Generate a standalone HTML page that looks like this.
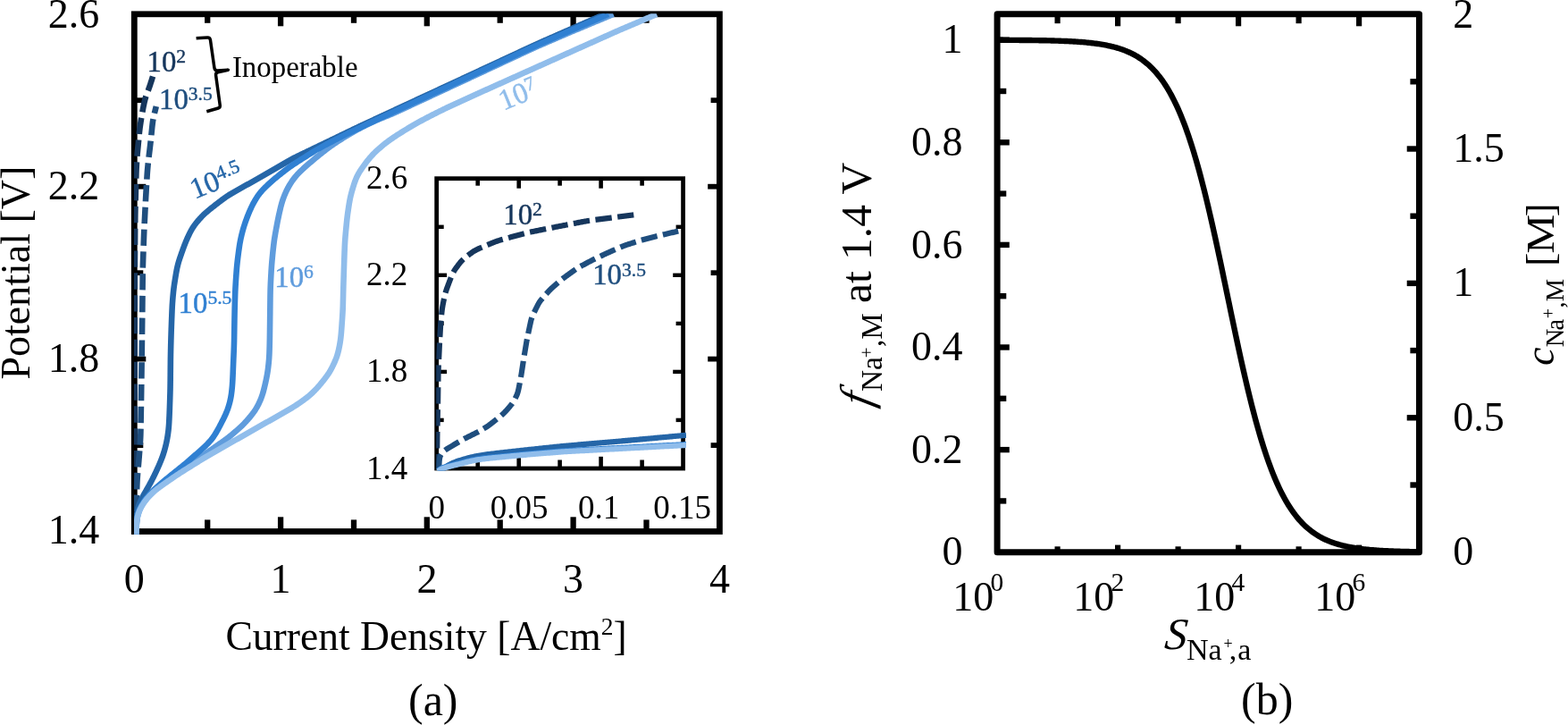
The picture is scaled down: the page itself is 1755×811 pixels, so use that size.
<!DOCTYPE html>
<html lang="en">
<head>
<meta charset="utf-8">
<title>Figure: polarization curves and sodium fraction</title>
<style>
html,body{margin:0;padding:0;background:#fff;}
body{width:1755px;height:811px;overflow:hidden;position:relative;}
svg text{font-family:"Liberation Serif",serif;}
</style>
</head>
<body>
<svg width="1755" height="811" viewBox="0 0 1755 811" role="img" aria-label="Polarization curves and sodium fraction figure" style="display:block;position:absolute;left:0;top:0" fill="#000">
<rect width="1755" height="811" fill="#fff"/>
<defs>
<clipPath id="ca"><rect x="150.0" y="15.3" width="658.8" height="582.5"/></clipPath>
<clipPath id="ci"><rect x="488.2" y="199.7" width="279.8" height="326.7"/></clipPath>
</defs>
<g stroke="#000" fill="none">
<rect x="150.3" y="15.8" width="655.1" height="578.7" stroke-width="6.8"/>
<line x1="232.2" x2="232.2" y1="594.5" y2="581.4" stroke-width="6.3"/>
<line x1="232.2" x2="232.2" y1="15.8" y2="25.8" stroke-width="6.3"/>
<line x1="314.1" x2="314.1" y1="594.5" y2="578.3" stroke-width="6.3"/>
<line x1="314.1" x2="314.1" y1="15.8" y2="29.3" stroke-width="6.3"/>
<line x1="396.0" x2="396.0" y1="594.5" y2="581.4" stroke-width="6.3"/>
<line x1="396.0" x2="396.0" y1="15.8" y2="25.8" stroke-width="6.3"/>
<line x1="477.8" x2="477.8" y1="594.5" y2="578.3" stroke-width="6.3"/>
<line x1="477.8" x2="477.8" y1="15.8" y2="29.3" stroke-width="6.3"/>
<line x1="559.7" x2="559.7" y1="594.5" y2="581.4" stroke-width="6.3"/>
<line x1="559.7" x2="559.7" y1="15.8" y2="25.8" stroke-width="6.3"/>
<line x1="641.6" x2="641.6" y1="594.5" y2="578.3" stroke-width="6.3"/>
<line x1="641.6" x2="641.6" y1="15.8" y2="29.3" stroke-width="6.3"/>
<line x1="723.5" x2="723.5" y1="594.5" y2="581.4" stroke-width="6.3"/>
<line x1="723.5" x2="723.5" y1="15.8" y2="25.8" stroke-width="6.3"/>
<line x1="150.3" x2="160.3" y1="112.2" y2="112.2" stroke-width="5.8"/>
<line x1="805.4" x2="795.6" y1="112.2" y2="112.2" stroke-width="5.8"/>
<line x1="150.3" x2="163.3" y1="208.7" y2="208.7" stroke-width="5.8"/>
<line x1="805.4" x2="792.2" y1="208.7" y2="208.7" stroke-width="5.8"/>
<line x1="150.3" x2="160.3" y1="305.2" y2="305.2" stroke-width="5.8"/>
<line x1="805.4" x2="795.6" y1="305.2" y2="305.2" stroke-width="5.8"/>
<line x1="150.3" x2="163.3" y1="401.6" y2="401.6" stroke-width="5.8"/>
<line x1="805.4" x2="792.2" y1="401.6" y2="401.6" stroke-width="5.8"/>
<line x1="150.3" x2="160.3" y1="498.1" y2="498.1" stroke-width="5.8"/>
<line x1="805.4" x2="795.6" y1="498.1" y2="498.1" stroke-width="5.8"/>
</g>
<g stroke="#000" fill="none">
<rect x="488.7" y="199.7" width="275.9" height="324.3" stroke-width="4.8"/>
<line x1="534.7" x2="534.7" y1="524.0" y2="514.5" stroke-width="4.6"/>
<line x1="534.7" x2="534.7" y1="199.7" y2="207.7" stroke-width="4.6"/>
<line x1="580.7" x2="580.7" y1="524.0" y2="510.8" stroke-width="4.6"/>
<line x1="580.7" x2="580.7" y1="199.7" y2="210.7" stroke-width="4.6"/>
<line x1="626.6" x2="626.6" y1="524.0" y2="514.5" stroke-width="4.6"/>
<line x1="626.6" x2="626.6" y1="199.7" y2="207.7" stroke-width="4.6"/>
<line x1="672.6" x2="672.6" y1="524.0" y2="510.8" stroke-width="4.6"/>
<line x1="672.6" x2="672.6" y1="199.7" y2="210.7" stroke-width="4.6"/>
<line x1="718.6" x2="718.6" y1="524.0" y2="514.5" stroke-width="4.6"/>
<line x1="718.6" x2="718.6" y1="199.7" y2="207.7" stroke-width="4.6"/>
<line x1="488.7" x2="496.7" y1="253.8" y2="253.8" stroke-width="4.4"/>
<line x1="764.6" x2="756.6" y1="253.8" y2="253.8" stroke-width="4.4"/>
<line x1="488.7" x2="500.1" y1="307.8" y2="307.8" stroke-width="4.4"/>
<line x1="764.6" x2="753.2" y1="307.8" y2="307.8" stroke-width="4.4"/>
<line x1="488.7" x2="496.7" y1="361.9" y2="361.9" stroke-width="4.4"/>
<line x1="764.6" x2="756.6" y1="361.9" y2="361.9" stroke-width="4.4"/>
<line x1="488.7" x2="500.1" y1="415.9" y2="415.9" stroke-width="4.4"/>
<line x1="764.6" x2="753.2" y1="415.9" y2="415.9" stroke-width="4.4"/>
<line x1="488.7" x2="496.7" y1="469.9" y2="469.9" stroke-width="4.4"/>
<line x1="764.6" x2="756.6" y1="469.9" y2="469.9" stroke-width="4.4"/>
</g>
<g clip-path="url(#ca)" fill="none" stroke-width="6.6" stroke-linejoin="round">
<path d="M153.90,596.80L153.90,596.00L153.90,595.00L153.90,593.99L153.90,592.99L153.90,591.99L153.90,590.99L153.90,589.99L153.90,588.99L153.90,587.98L153.90,586.98L153.90,585.98L153.90,584.98L153.90,583.98L153.90,582.97L153.90,581.97L153.90,580.97L153.90,579.97L153.90,578.97L153.90,578.45L147.30,578.45L147.30,578.97L147.30,579.97L147.30,580.97L147.30,581.97L147.30,582.97L147.30,583.97L147.30,584.98L147.30,585.98L147.30,586.98L147.30,587.98L147.30,588.98L147.30,589.99L147.30,590.99L147.30,591.99L147.30,592.99L147.30,593.99L147.30,594.99L147.30,596.00L147.30,596.80Z M153.91,571.97L153.91,571.96L153.91,570.95L153.91,569.95L153.91,568.95L153.91,567.95L153.91,566.95L153.91,565.95L153.91,564.94L153.91,563.94L153.91,562.94L153.91,561.94L153.91,560.94L153.91,559.94L153.91,558.93L153.91,557.93L153.91,556.93L153.91,555.93L153.91,554.93L153.91,553.92L153.91,553.62L147.31,553.62L147.31,553.92L147.31,554.92L147.31,555.93L147.31,556.93L147.31,557.93L147.31,558.93L147.31,559.93L147.31,560.94L147.31,561.94L147.31,562.94L147.31,563.94L147.31,564.94L147.31,565.94L147.31,566.95L147.31,567.95L147.31,568.95L147.31,569.95L147.31,570.95L147.31,571.95L147.31,571.97Z M153.91,547.14L153.91,546.91L153.91,545.91L153.91,544.91L153.91,543.91L153.91,542.91L153.91,541.90L153.91,540.90L153.91,539.90L153.91,538.90L153.92,537.90L153.92,536.90L153.92,535.89L153.92,534.89L153.92,533.89L153.92,532.89L153.92,531.89L153.92,530.89L153.92,529.88L153.92,528.88L153.92,528.79L147.32,528.79L147.32,528.88L147.32,529.88L147.32,530.88L147.32,531.89L147.32,532.89L147.32,533.89L147.32,534.89L147.32,535.89L147.32,536.89L147.32,537.90L147.31,538.90L147.31,539.90L147.31,540.90L147.31,541.90L147.31,542.90L147.31,543.91L147.31,544.91L147.31,545.91L147.31,546.91L147.31,547.14Z M153.92,522.31L153.92,521.87L153.92,520.87L153.92,519.87L153.92,518.86L153.92,517.86L153.92,516.86L153.92,515.86L153.92,514.86L153.92,513.86L153.92,512.85L153.92,511.85L153.92,510.85L153.92,509.85L153.92,508.85L153.92,507.85L153.92,506.84L153.92,505.84L153.92,504.84L153.92,503.97L147.32,503.96L147.32,504.84L147.32,505.84L147.32,506.84L147.32,507.84L147.32,508.85L147.32,509.85L147.32,510.85L147.32,511.85L147.32,512.85L147.32,513.85L147.32,514.86L147.32,515.86L147.32,516.86L147.32,517.86L147.32,518.86L147.32,519.86L147.32,520.87L147.32,521.87L147.32,522.31Z M153.93,497.48L153.93,496.83L153.93,495.82L153.93,494.82L153.93,493.82L153.93,492.82L153.93,491.82L153.93,490.82L153.93,489.81L153.93,488.81L153.93,487.81L153.93,486.81L153.93,485.81L153.93,484.81L153.93,483.80L153.93,482.80L153.93,481.80L153.93,480.80L153.93,479.80L153.93,479.14L147.33,479.13L147.33,479.80L147.33,480.80L147.33,481.80L147.33,482.80L147.33,483.80L147.33,484.80L147.33,485.81L147.33,486.81L147.33,487.81L147.33,488.81L147.33,489.81L147.33,490.81L147.33,491.82L147.33,492.82L147.33,493.82L147.33,494.82L147.33,495.82L147.33,496.82L147.33,497.48Z M153.93,472.65L153.93,471.78L153.93,470.78L153.93,469.78L153.93,468.78L153.93,467.78L153.93,466.77L153.93,465.77L153.93,464.77L153.93,463.77L153.93,462.77L153.93,461.77L153.93,460.76L153.93,459.76L153.94,458.76L153.94,457.76L153.94,456.76L153.94,455.76L153.94,454.75L153.94,454.31L147.34,454.31L147.34,454.75L147.34,455.75L147.34,456.76L147.34,457.76L147.34,458.76L147.33,459.76L147.33,460.76L147.33,461.76L147.33,462.77L147.33,463.77L147.33,464.77L147.33,465.77L147.33,466.77L147.33,467.77L147.33,468.78L147.33,469.78L147.33,470.78L147.33,471.78L147.33,472.65Z M153.94,447.83L153.94,447.74L153.94,446.74L153.94,445.74L153.94,444.74L153.94,443.73L153.94,442.73L153.94,441.73L153.94,440.73L153.94,439.73L153.94,438.73L153.94,437.72L153.94,436.72L153.94,435.72L153.94,434.72L153.94,433.72L153.94,432.72L153.94,431.71L153.94,430.71L153.94,429.71L153.94,429.48L147.34,429.48L147.34,429.71L147.34,430.71L147.34,431.71L147.34,432.71L147.34,433.72L147.34,434.72L147.34,435.72L147.34,436.72L147.34,437.72L147.34,438.72L147.34,439.73L147.34,440.73L147.34,441.73L147.34,442.73L147.34,443.73L147.34,444.73L147.34,445.74L147.34,446.74L147.34,447.74L147.34,447.82Z M153.94,423.00L153.94,422.70L153.94,421.70L153.94,420.70L153.95,419.69L153.95,418.69L153.95,417.69L153.95,416.69L153.95,415.69L153.95,414.68L153.95,413.68L153.95,412.68L153.95,411.68L153.95,410.68L153.95,409.68L153.95,408.67L153.95,407.67L153.95,406.67L153.95,405.67L153.95,404.67L153.95,404.65L147.35,404.65L147.35,404.67L147.35,405.67L147.35,406.67L147.35,407.67L147.35,408.67L147.35,409.67L147.35,410.68L147.35,411.68L147.35,412.68L147.35,413.68L147.35,414.68L147.35,415.68L147.35,416.69L147.35,417.69L147.35,418.69L147.35,419.69L147.34,420.69L147.34,421.70L147.34,422.70L147.34,422.99Z M153.95,398.17L153.95,397.66L153.96,396.66L153.96,395.66L153.96,394.65L153.96,393.65L153.96,392.65L153.96,391.65L153.96,390.65L153.97,389.65L153.97,388.64L153.97,387.64L153.97,386.64L153.97,385.64L153.97,384.64L153.97,383.64L153.98,382.63L153.98,381.63L153.98,380.63L153.98,379.82L147.38,379.81L147.38,380.62L147.38,381.62L147.38,382.62L147.37,383.63L147.37,384.63L147.37,385.63L147.37,386.63L147.37,387.63L147.37,388.63L147.37,389.64L147.36,390.64L147.36,391.64L147.36,392.64L147.36,393.64L147.36,394.65L147.36,395.65L147.36,396.65L147.35,397.65L147.35,398.16Z M153.99,373.34L153.99,372.62L153.99,371.61L153.99,370.61L154.00,369.61L154.00,368.61L154.00,367.61L154.00,366.61L154.00,365.60L154.00,364.60L154.00,363.60L154.01,362.60L154.01,361.60L154.01,360.60L154.01,359.59L154.01,358.59L154.01,357.59L154.02,356.59L154.02,355.59L154.02,354.99L147.42,354.98L147.42,355.58L147.42,356.58L147.41,357.58L147.41,358.58L147.41,359.58L147.41,360.59L147.41,361.59L147.41,362.59L147.40,363.59L147.40,364.59L147.40,365.59L147.40,366.60L147.40,367.60L147.40,368.60L147.40,369.60L147.39,370.60L147.39,371.60L147.39,372.61L147.39,373.33Z M154.03,348.51L154.03,347.57L154.03,346.57L154.03,345.57L154.03,344.57L154.03,343.57L154.04,342.56L154.04,341.56L154.04,340.56L154.04,339.56L154.04,338.56L154.04,337.56L154.05,336.55L154.05,335.55L154.05,334.55L154.05,333.55L154.05,332.55L154.05,331.55L154.05,330.54L154.05,330.16L147.45,330.16L147.45,330.53L147.45,331.54L147.45,332.54L147.45,333.54L147.45,334.54L147.45,335.54L147.45,336.54L147.44,337.55L147.44,338.55L147.44,339.55L147.44,340.55L147.44,341.55L147.44,342.55L147.43,343.56L147.43,344.56L147.43,345.56L147.43,346.56L147.43,347.56L147.43,348.50Z M154.06,323.68L154.06,323.53L154.07,322.53L154.07,321.53L154.07,320.53L154.07,319.52L154.07,318.52L154.07,317.52L154.08,316.52L154.08,315.52L154.08,314.52L154.08,313.51L154.08,312.51L154.08,311.51L154.08,310.51L154.09,309.51L154.09,308.51L154.09,307.51L154.09,306.50L154.09,305.50L154.09,305.34L147.49,305.32L147.49,305.49L147.49,306.49L147.49,307.49L147.49,308.50L147.49,309.50L147.48,310.50L147.48,311.50L147.48,312.50L147.48,313.50L147.48,314.51L147.48,315.51L147.48,316.51L147.47,317.51L147.47,318.51L147.47,319.52L147.47,320.52L147.47,321.52L147.47,322.52L147.46,323.52L147.46,323.67Z M154.12,298.87L154.12,298.50L154.13,297.50L154.13,296.50L154.14,295.50L154.15,294.50L154.16,293.50L154.16,292.50L154.17,291.50L154.18,290.50L154.19,289.50L154.20,288.49L154.20,287.49L154.21,286.49L154.22,285.49L154.23,284.49L154.24,283.49L154.25,282.48L154.25,281.48L154.26,280.53L147.66,280.47L147.65,281.43L147.65,282.43L147.64,283.43L147.63,284.43L147.62,285.43L147.61,286.44L147.60,287.44L147.60,288.44L147.59,289.44L147.58,290.44L147.57,291.45L147.56,292.45L147.56,293.45L147.55,294.45L147.54,295.46L147.53,296.46L147.53,297.46L147.52,298.46L147.52,298.83Z M154.32,274.05L154.32,273.47L154.33,272.47L154.34,271.47L154.35,270.46L154.35,269.46L154.36,268.46L154.37,267.46L154.38,266.46L154.39,265.46L154.40,264.45L154.40,263.45L154.41,262.45L154.42,261.45L154.43,260.45L154.44,259.45L154.45,258.44L154.45,257.44L154.46,256.44L154.47,255.70L147.87,255.65L147.86,256.39L147.85,257.39L147.85,258.39L147.84,259.39L147.83,260.39L147.82,261.39L147.81,262.40L147.80,263.40L147.80,264.40L147.79,265.40L147.78,266.40L147.77,267.40L147.76,268.41L147.75,269.41L147.75,270.41L147.74,271.41L147.73,272.41L147.72,273.41L147.72,273.99Z M154.52,249.22L154.53,248.43L154.54,247.43L154.55,246.43L154.56,245.43L154.57,244.43L154.58,243.43L154.60,242.43L154.61,241.44L154.62,240.44L154.64,239.44L154.66,238.44L154.68,237.45L154.70,236.45L154.72,235.45L154.74,234.45L154.76,233.45L154.78,232.45L154.81,231.45L154.82,230.92L148.22,230.77L148.21,231.30L148.19,232.30L148.16,233.30L148.14,234.30L148.12,235.31L148.10,236.31L148.08,237.32L148.06,238.32L148.04,239.33L148.03,240.33L148.01,241.34L148.00,242.35L147.98,243.35L147.97,244.36L147.96,245.36L147.95,246.36L147.94,247.37L147.93,248.37L147.92,249.16Z M154.97,224.45L154.97,224.44L155.00,223.44L155.02,222.44L155.05,221.44L155.07,220.44L155.09,219.43L155.12,218.43L155.14,217.43L155.17,216.43L155.19,215.43L155.21,214.43L155.24,213.43L155.26,212.42L155.29,211.42L155.31,210.42L155.33,209.42L155.36,208.42L155.38,207.42L155.41,206.42L155.41,206.10L148.82,205.95L148.81,206.26L148.78,207.26L148.76,208.26L148.74,209.26L148.71,210.26L148.69,211.26L148.66,212.27L148.64,213.27L148.62,214.27L148.59,215.27L148.57,216.27L148.54,217.27L148.52,218.27L148.50,219.28L148.47,220.28L148.45,221.28L148.42,222.28L148.40,223.28L148.38,224.28L148.38,224.29Z M155.57,199.63L155.58,199.41L155.60,198.41L155.63,197.41L155.66,196.41L155.68,195.42L155.71,194.42L155.74,193.43L155.78,192.43L155.81,191.44L155.85,190.45L155.90,189.46L155.94,188.47L155.99,187.47L156.04,186.48L156.09,185.49L156.14,184.49L156.20,183.50L156.25,182.51L156.31,181.51L156.32,181.41L149.73,181.01L149.72,181.12L149.67,182.12L149.61,183.13L149.55,184.13L149.50,185.14L149.44,186.15L149.39,187.15L149.35,188.16L149.30,189.17L149.26,190.18L149.22,191.19L149.18,192.20L149.15,193.21L149.12,194.22L149.09,195.23L149.06,196.23L149.03,197.24L149.00,198.24L148.98,199.24L148.97,199.46Z M156.75,175.00L156.79,174.58L156.87,173.59L156.95,172.61L157.04,171.62L157.13,170.64L157.22,169.65L157.32,168.65L157.41,167.66L157.51,166.67L157.61,165.67L157.71,164.67L157.81,163.67L157.90,162.67L158.00,161.67L158.09,160.67L158.19,159.67L158.28,158.67L158.37,157.67L158.45,156.78L151.88,156.18L151.80,157.07L151.71,158.06L151.61,159.06L151.52,160.05L151.43,161.05L151.33,162.04L151.24,163.03L151.14,164.03L151.04,165.02L150.94,166.02L150.85,167.02L150.75,168.02L150.65,169.02L150.56,170.02L150.46,171.03L150.37,172.04L150.29,173.05L150.21,174.06L150.17,174.49Z M159.06,150.35L159.12,149.72L159.22,148.74L159.32,147.75L159.43,146.77L159.55,145.79L159.67,144.82L159.79,143.84L159.92,142.86L160.05,141.88L160.18,140.90L160.32,139.92L160.47,138.94L160.61,137.96L160.76,136.98L160.91,136.00L161.07,135.02L161.23,134.04L161.39,133.06L161.50,132.39L154.99,131.31L154.87,131.99L154.71,132.98L154.55,133.98L154.39,134.98L154.24,135.98L154.09,136.98L153.94,137.98L153.79,138.98L153.65,139.98L153.51,140.99L153.37,141.99L153.24,143.00L153.11,144.01L152.99,145.02L152.88,146.03L152.76,147.04L152.66,148.05L152.55,149.06L152.49,149.70Z M162.61,126.07L162.76,125.24L162.94,124.26L163.13,123.28L163.32,122.30L163.50,121.32L163.70,120.35L163.89,119.37L164.08,118.40L164.28,117.44L164.48,116.48L164.69,115.53L164.90,114.59L165.12,113.66L165.36,112.73L165.60,111.82L165.86,110.92L166.13,110.02L166.42,109.11L166.58,108.66L160.33,106.54L160.15,107.06L159.83,108.05L159.53,109.05L159.24,110.06L158.97,111.07L158.71,112.08L158.47,113.09L158.24,114.10L158.03,115.10L157.82,116.10L157.61,117.09L157.41,118.09L157.22,119.08L157.03,120.07L156.83,121.06L156.65,122.05L156.46,123.04L156.27,124.03L156.12,124.87Z M168.79,102.67L169.14,101.74L169.49,100.78L169.83,99.82L170.17,98.86L170.50,97.89L170.83,96.93L171.15,95.97L171.47,95.01L171.78,94.05L172.09,93.09L172.40,92.14L172.71,91.18L173.02,90.23L173.32,89.27L173.63,88.32L173.94,87.36L174.24,86.41L167.96,84.39L167.65,85.35L167.35,86.30L167.04,87.25L166.73,88.20L166.43,89.16L166.12,90.11L165.81,91.06L165.51,92.00L165.20,92.95L164.89,93.89L164.57,94.83L164.26,95.76L163.94,96.69L163.61,97.61L163.28,98.53L162.95,99.45L162.61,100.37Z" fill="#16365c" stroke="none"/>
<path d="M153.95,596.95L153.99,596.15L154.04,595.16L154.08,594.16L154.13,593.16L154.18,592.16L154.23,591.17L154.28,590.17L154.33,589.18L154.38,588.18L154.43,587.19L154.49,586.20L154.55,585.21L154.61,584.22L154.67,583.23L154.73,582.23L154.80,581.24L154.87,580.25L154.94,579.25L154.97,578.74L148.39,578.29L148.35,578.80L148.28,579.80L148.21,580.80L148.15,581.80L148.08,582.81L148.02,583.81L147.96,584.82L147.90,585.82L147.84,586.83L147.79,587.83L147.74,588.84L147.68,589.84L147.63,590.84L147.59,591.85L147.54,592.85L147.49,593.85L147.44,594.85L147.40,595.85L147.36,596.65Z M155.40,572.26L155.40,572.23L155.46,571.23L155.52,570.22L155.58,569.21L155.63,568.21L155.68,567.20L155.72,566.19L155.77,565.19L155.81,564.18L155.85,563.18L155.89,562.18L155.93,561.17L155.97,560.17L156.00,559.17L156.04,558.17L156.08,557.17L156.12,556.17L156.15,555.17L156.19,554.17L156.20,553.88L149.61,553.64L149.59,553.93L149.56,554.93L149.52,555.93L149.48,556.93L149.45,557.92L149.41,558.92L149.37,559.92L149.33,560.92L149.29,561.92L149.25,562.91L149.21,563.91L149.17,564.90L149.13,565.90L149.08,566.89L149.04,567.88L148.98,568.87L148.93,569.86L148.88,570.85L148.82,571.84L148.82,571.85Z M156.44,547.42L156.45,547.18L156.49,546.18L156.53,545.18L156.56,544.18L156.60,543.18L156.64,542.19L156.69,541.20L156.73,540.20L156.78,539.21L156.82,538.23L156.88,537.24L156.93,536.25L156.99,535.27L157.06,534.29L157.13,533.30L157.20,532.32L157.28,531.33L157.35,530.34L157.44,529.35L157.44,529.29L150.86,528.73L150.86,528.81L150.78,529.81L150.70,530.81L150.62,531.82L150.54,532.83L150.47,533.84L150.41,534.85L150.35,535.87L150.29,536.88L150.23,537.89L150.18,538.90L150.14,539.91L150.09,540.91L150.05,541.92L150.01,542.92L149.97,543.92L149.93,544.93L149.89,545.93L149.86,546.93L149.85,547.17Z M158.00,522.86L158.05,522.39L158.13,521.40L158.22,520.40L158.31,519.40L158.40,518.40L158.48,517.40L158.57,516.40L158.65,515.40L158.73,514.40L158.81,513.40L158.90,512.40L158.97,511.40L159.05,510.40L159.13,509.40L159.21,508.40L159.29,507.40L159.36,506.40L159.44,505.40L159.50,504.56L152.92,504.06L152.86,504.90L152.78,505.90L152.70,506.90L152.63,507.89L152.55,508.89L152.47,509.88L152.40,510.88L152.32,511.87L152.24,512.87L152.16,513.86L152.07,514.85L151.99,515.85L151.91,516.84L151.82,517.83L151.73,518.83L151.65,519.82L151.56,520.82L151.47,521.81L151.43,522.27Z M159.99,498.10L160.04,497.41L160.11,496.40L160.18,495.40L160.24,494.39L160.31,493.38L160.37,492.37L160.42,491.36L160.47,490.34L160.52,489.33L160.56,488.32L160.60,487.30L160.63,486.29L160.66,485.28L160.68,484.27L160.71,483.26L160.73,482.26L160.75,481.26L160.77,480.25L160.78,479.63L154.18,479.50L154.17,480.13L154.15,481.12L154.13,482.12L154.11,483.12L154.09,484.11L154.06,485.10L154.03,486.09L154.00,487.08L153.96,488.06L153.92,489.05L153.88,490.03L153.83,491.01L153.78,492.00L153.72,492.98L153.66,493.97L153.59,494.96L153.52,495.95L153.45,496.94L153.40,497.62Z M160.90,473.15L160.91,472.25L160.93,471.25L160.95,470.25L160.96,469.25L160.98,468.25L161.00,467.24L161.02,466.24L161.03,465.24L161.05,464.24L161.07,463.24L161.09,462.24L161.10,461.24L161.12,460.24L161.14,459.24L161.16,458.24L161.17,457.24L161.19,456.24L161.21,455.24L161.21,454.84L154.62,454.73L154.61,455.13L154.59,456.13L154.57,457.13L154.56,458.13L154.54,459.13L154.52,460.13L154.50,461.13L154.49,462.13L154.47,463.13L154.45,464.13L154.43,465.13L154.42,466.13L154.40,467.13L154.38,468.13L154.36,469.13L154.35,470.13L154.33,471.13L154.31,472.13L154.30,473.04Z M161.32,448.36L161.32,448.23L161.34,447.23L161.35,446.23L161.37,445.23L161.38,444.23L161.39,443.23L161.41,442.23L161.42,441.23L161.44,440.23L161.45,439.23L161.47,438.23L161.48,437.23L161.49,436.23L161.51,435.23L161.52,434.23L161.54,433.23L161.55,432.23L161.56,431.22L161.58,430.22L161.58,430.05L154.98,429.95L154.98,430.13L154.96,431.13L154.95,432.13L154.94,433.13L154.92,434.13L154.91,435.13L154.89,436.13L154.88,437.13L154.87,438.13L154.85,439.13L154.84,440.13L154.82,441.13L154.81,442.13L154.80,443.13L154.78,444.13L154.77,445.13L154.75,446.13L154.74,447.13L154.72,448.13L154.72,448.26Z M161.67,423.58L161.68,423.22L161.69,422.22L161.70,421.22L161.72,420.22L161.73,419.22L161.75,418.22L161.76,417.22L161.77,416.22L161.79,415.22L161.80,414.22L161.82,413.22L161.83,412.22L161.84,411.22L161.86,410.22L161.87,409.22L161.89,408.22L161.90,407.22L161.91,406.22L161.93,405.26L155.33,405.17L155.31,406.13L155.30,407.13L155.29,408.13L155.27,409.13L155.26,410.13L155.24,411.13L155.23,412.13L155.22,413.13L155.20,414.13L155.19,415.13L155.17,416.13L155.16,417.13L155.15,418.13L155.13,419.13L155.12,420.13L155.10,421.13L155.09,422.13L155.08,423.13L155.07,423.49Z M162.01,398.79L162.02,398.21L162.03,397.21L162.04,396.21L162.06,395.21L162.07,394.21L162.08,393.21L162.09,392.21L162.11,391.21L162.12,390.21L162.13,389.21L162.14,388.21L162.15,387.21L162.17,386.21L162.18,385.21L162.19,384.21L162.20,383.21L162.21,382.20L162.23,381.20L162.23,380.47L155.64,380.40L155.63,381.13L155.61,382.13L155.60,383.13L155.59,384.13L155.58,385.13L155.57,386.13L155.55,387.13L155.54,388.13L155.53,389.13L155.52,390.13L155.51,391.13L155.49,392.13L155.48,393.13L155.47,394.13L155.46,395.13L155.44,396.13L155.43,397.13L155.42,398.13L155.41,398.71Z M162.31,374.00L162.32,373.20L162.33,372.20L162.35,371.20L162.36,370.20L162.37,369.20L162.38,368.20L162.39,367.20L162.41,366.20L162.42,365.20L162.43,364.20L162.44,363.20L162.45,362.20L162.47,361.20L162.48,360.20L162.49,359.20L162.50,358.20L162.51,357.20L162.53,356.20L162.53,355.69L155.93,355.61L155.93,356.12L155.91,357.12L155.90,358.12L155.89,359.12L155.88,360.12L155.87,361.12L155.85,362.12L155.84,363.12L155.83,364.12L155.82,365.12L155.81,366.12L155.79,367.12L155.78,368.12L155.77,369.12L155.76,370.12L155.75,371.12L155.73,372.12L155.72,373.12L155.71,373.93Z M162.60,349.22L162.61,349.19L162.62,348.19L162.63,347.19L162.64,346.19L162.65,345.19L162.66,344.19L162.67,343.19L162.68,342.19L162.69,341.19L162.70,340.19L162.71,339.19L162.72,338.19L162.73,337.18L162.74,336.18L162.75,335.18L162.76,334.18L162.77,333.18L162.78,332.18L162.79,331.18L162.79,330.90L156.19,330.83L156.19,331.12L156.18,332.12L156.17,333.12L156.16,334.12L156.15,335.12L156.14,336.12L156.13,337.12L156.12,338.12L156.11,339.12L156.10,340.12L156.09,341.12L156.08,342.12L156.07,343.12L156.06,344.12L156.05,345.12L156.04,346.12L156.03,347.12L156.02,348.12L156.01,349.12L156.01,349.15Z M162.86,324.43L162.86,324.18L162.87,323.18L162.88,322.18L162.89,321.18L162.90,320.18L162.91,319.18L162.92,318.18L162.93,317.18L162.94,316.18L162.95,315.18L162.96,314.18L162.97,313.18L162.98,312.18L162.99,311.18L163.00,310.18L163.01,309.18L163.02,308.18L163.03,307.18L163.04,306.18L163.05,306.13L156.45,306.04L156.45,306.10L156.43,307.10L156.42,308.11L156.41,309.11L156.40,310.11L156.39,311.11L156.38,312.11L156.37,313.11L156.36,314.11L156.35,315.11L156.34,316.11L156.33,317.11L156.32,318.11L156.31,319.11L156.30,320.11L156.29,321.11L156.28,322.11L156.27,323.11L156.26,324.11L156.26,324.36Z M163.16,299.69L163.17,299.22L163.19,298.23L163.22,297.23L163.25,296.24L163.28,295.24L163.31,294.25L163.34,293.25L163.38,292.25L163.41,291.25L163.44,290.26L163.48,289.26L163.51,288.26L163.55,287.26L163.58,286.26L163.62,285.26L163.65,284.26L163.69,283.26L163.72,282.26L163.75,281.42L157.16,281.19L157.13,282.03L157.09,283.03L157.06,284.03L157.02,285.03L156.99,286.03L156.95,287.03L156.92,288.03L156.88,289.03L156.85,290.03L156.81,291.03L156.78,292.03L156.75,293.03L156.71,294.04L156.68,295.04L156.65,296.04L156.62,297.05L156.60,298.06L156.57,299.06L156.56,299.54Z M163.98,274.96L164.00,274.26L164.04,273.26L164.07,272.26L164.11,271.26L164.14,270.26L164.18,269.26L164.21,268.27L164.25,267.27L164.29,266.27L164.32,265.27L164.36,264.27L164.40,263.28L164.44,262.28L164.48,261.29L164.52,260.29L164.56,259.30L164.61,258.30L164.65,257.30L164.68,256.69L158.09,256.39L158.06,257.00L158.01,258.01L157.97,259.01L157.93,260.01L157.88,261.02L157.84,262.02L157.80,263.02L157.77,264.02L157.73,265.03L157.69,266.03L157.65,267.03L157.62,268.03L157.58,269.03L157.55,270.03L157.51,271.03L157.48,272.03L157.44,273.03L157.41,274.03L157.38,274.73Z M164.99,250.24L165.04,249.32L165.09,248.33L165.14,247.33L165.19,246.33L165.24,245.33L165.29,244.33L165.34,243.33L165.39,242.33L165.44,241.33L165.49,240.33L165.54,239.33L165.59,238.33L165.64,237.34L165.69,236.34L165.74,235.34L165.79,234.34L165.84,233.34L165.89,232.34L165.91,231.95L159.31,231.62L159.30,232.01L159.25,233.01L159.20,234.01L159.15,235.01L159.10,236.01L159.05,237.01L159.00,238.00L158.95,239.00L158.90,240.00L158.85,241.00L158.80,242.00L158.75,243.00L158.70,244.00L158.65,245.00L158.60,246.00L158.55,247.00L158.50,248.00L158.45,249.00L158.40,249.91Z M166.23,225.49L166.24,225.35L166.29,224.35L166.34,223.36L166.40,222.36L166.45,221.36L166.50,220.37L166.56,219.37L166.62,218.37L166.67,217.38L166.73,216.38L166.79,215.38L166.85,214.39L166.90,213.39L166.96,212.39L167.02,211.39L167.08,210.40L167.14,209.40L167.20,208.40L167.26,207.40L167.27,207.24L160.68,206.84L160.67,207.01L160.61,208.01L160.55,209.00L160.49,210.00L160.43,211.00L160.38,212.00L160.32,213.00L160.26,214.00L160.20,215.00L160.14,216.00L160.08,217.00L160.03,218.00L159.97,219.00L159.91,220.01L159.86,221.01L159.81,222.01L159.75,223.01L159.70,224.01L159.65,225.01L159.64,225.16Z M167.66,200.78L167.68,200.42L167.74,199.42L167.81,198.42L167.87,197.43L167.93,196.43L168.00,195.44L168.06,194.45L168.13,193.46L168.21,192.48L168.28,191.49L168.36,190.51L168.44,189.52L168.53,188.54L168.62,187.55L168.71,186.57L168.81,185.58L168.91,184.59L169.01,183.61L169.11,182.67L162.55,181.98L162.45,182.93L162.34,183.93L162.24,184.93L162.15,185.93L162.05,186.94L161.96,187.95L161.87,188.96L161.78,189.96L161.70,190.97L161.62,191.98L161.55,192.99L161.48,194.00L161.41,195.00L161.35,196.01L161.28,197.01L161.22,198.01L161.16,199.01L161.09,200.01L161.07,200.38Z M169.82,176.28L169.89,175.70L170.00,174.71L170.12,173.72L170.24,172.73L170.36,171.74L170.48,170.75L170.60,169.75L170.73,168.76L170.85,167.76L170.97,166.77L171.09,165.77L171.20,164.77L171.32,163.77L171.43,162.77L171.55,161.77L171.66,160.77L171.77,159.78L171.88,158.78L171.95,158.06L165.39,157.35L165.32,158.07L165.21,159.06L165.10,160.05L164.99,161.04L164.88,162.03L164.76,163.02L164.65,164.00L164.53,164.99L164.41,165.98L164.30,166.97L164.18,167.96L164.05,168.95L163.93,169.94L163.81,170.94L163.69,171.93L163.57,172.93L163.45,173.93L163.33,174.93L163.26,175.51Z M172.63,151.61L172.72,150.80L172.82,149.80L172.92,148.80L173.02,147.81L173.12,146.81L173.22,145.82L173.32,144.82L173.42,143.83L173.52,142.84L173.62,141.86L173.73,140.88L173.84,139.90L173.95,138.93L174.08,137.97L174.21,137.02L174.35,136.07L174.50,135.12L174.66,134.17L174.75,133.69L168.26,132.49L168.16,133.02L167.99,134.04L167.82,135.06L167.67,136.09L167.53,137.11L167.40,138.13L167.28,139.14L167.17,140.15L167.06,141.16L166.95,142.16L166.85,143.16L166.75,144.16L166.65,145.16L166.55,146.15L166.45,147.15L166.35,148.14L166.25,149.14L166.15,150.13L166.07,150.93Z M176.10,127.55L176.33,126.58L176.57,125.61L176.81,124.65L177.05,123.68L177.29,122.70L177.53,121.73L177.77,120.76L178.00,119.79L171.60,118.21L171.36,119.18L171.12,120.15L170.88,121.12L170.64,122.09L170.40,123.07L170.16,124.04L169.92,125.01L169.68,125.99Z" fill="#1f4e7e" stroke="none"/>
<path d="M155.70,598.03L155.71,596.53L155.73,595.03L155.74,593.53L155.76,592.03L155.78,590.54L155.80,589.05L155.83,587.56L155.86,586.08L155.91,584.60L155.96,583.12L156.03,581.66L156.11,580.20L156.21,578.76L156.33,577.32L156.48,575.90L156.66,574.50L156.87,573.11L157.12,571.73L157.40,570.38L157.73,569.04L158.10,567.72L158.51,566.41L158.97,565.11L159.48,563.82L160.02,562.53L160.61,561.24L161.23,559.96L161.88,558.67L162.55,557.38L163.25,556.09L163.96,554.80L164.68,553.51L165.41,552.22L166.15,550.92L166.90,549.62L167.65,548.31L168.39,547.00L169.14,545.68L169.88,544.35L170.61,543.02L171.34,541.68L172.06,540.33L172.76,538.98L173.46,537.62L174.14,536.27L174.82,534.91L175.49,533.55L176.15,532.18L176.81,530.82L177.46,529.45L178.11,528.07L178.74,526.70L179.38,525.31L180.00,523.93L180.62,522.54L181.22,521.14L181.82,519.75L182.42,518.34L183.00,516.93L183.57,515.51L184.13,514.07L184.67,512.63L185.19,511.18L185.70,509.72L186.18,508.25L186.64,506.78L187.08,505.30L187.50,503.82L187.91,502.34L188.30,500.86L188.67,499.37L189.03,497.87L189.37,496.37L189.69,494.87L189.99,493.36L190.28,491.85L190.55,490.34L190.80,488.83L191.04,487.31L191.26,485.79L191.46,484.27L191.65,482.75L191.83,481.22L191.98,479.69L192.12,478.16L192.24,476.64L192.35,475.11L192.45,473.59L192.53,472.07L192.61,470.56L192.69,469.05L192.76,467.55L192.82,466.04L192.89,464.53L192.95,463.03L193.01,461.52L193.07,460.02L193.13,458.51L193.18,457.01L193.23,455.50L193.28,454.00L193.33,452.50L193.38,450.99L193.43,449.49L193.48,447.99L193.52,446.49L193.57,444.98L193.62,443.48L193.66,441.98L193.70,440.47L193.74,438.97L193.78,437.46L193.82,435.95L193.85,434.44L193.88,432.93L193.90,431.42L193.92,429.92L193.94,428.41L193.96,426.90L193.98,425.40L193.99,423.90L194.00,422.39L194.02,420.89L194.03,419.39L194.04,417.89L194.06,416.38L194.07,414.88L194.08,413.38L194.10,411.88L194.11,410.38L194.13,408.88L194.14,407.38L194.16,405.88L194.17,404.38L194.19,402.88L194.21,401.38L194.23,399.89L194.26,398.39L194.28,396.89L194.31,395.39L194.34,393.90L194.37,392.40L194.40,390.90L194.44,389.40L194.47,387.90L194.51,386.41L194.55,384.91L194.59,383.41L194.63,381.91L194.67,380.41L194.72,378.91L194.76,377.41L194.81,375.91L194.85,374.41L194.90,372.91L194.94,371.41L194.99,369.92L195.04,368.42L195.09,366.92L195.14,365.42L195.19,363.92L195.25,362.42L195.30,360.93L195.36,359.43L195.41,357.93L195.47,356.43L195.53,354.93L195.59,353.43L195.65,351.93L195.71,350.43L195.77,348.94L195.83,347.44L195.90,345.95L195.97,344.46L196.05,342.98L196.13,341.49L196.22,340.01L196.32,338.53L196.43,337.05L196.54,335.56L196.66,334.08L196.78,332.60L196.91,331.12L197.05,329.63L197.19,328.16L197.34,326.68L197.50,325.21L197.67,323.74L197.85,322.28L198.04,320.82L198.24,319.35L198.45,317.89L198.68,316.42L198.91,314.95L199.14,313.48L199.38,312.00L199.62,310.53L199.87,309.06L200.12,307.59L200.37,306.12L200.63,304.66L200.90,303.21L201.18,301.78L201.47,300.35L201.79,298.94L202.12,297.54L202.48,296.15L202.87,294.76L203.28,293.37L203.71,291.99L204.16,290.59L204.63,289.20L205.10,287.80L205.59,286.39L206.09,284.98L206.59,283.57L207.09,282.17L207.59,280.76L208.10,279.36L208.61,277.96L209.13,276.57L209.65,275.19L210.18,273.82L210.73,272.46L211.28,271.11L211.86,269.76L212.44,268.42L213.04,267.08L213.66,265.75L214.29,264.42L214.93,263.11L215.58,261.81L216.24,260.53L216.92,259.28L217.63,258.05L218.36,256.85L219.11,255.67L219.90,254.51L220.72,253.37L221.58,252.24L222.46,251.12L223.38,250.00L224.31,248.89L225.26,247.80L226.23,246.71L227.21,245.65L228.20,244.60L229.20,243.57L230.23,242.57L231.27,241.59L232.33,240.62L233.41,239.67L234.52,238.72L235.64,237.79L236.78,236.86L237.93,235.93L239.10,235.01L240.27,234.09L241.44,233.16L242.62,232.25L243.80,231.33L244.98,230.42L246.17,229.50L247.35,228.60L248.54,227.70L249.72,226.80L250.91,225.92L252.10,225.04L253.29,224.18L254.48,223.34L255.68,222.52L256.89,221.71L258.11,220.93L259.34,220.15L260.59,219.40L261.85,218.65L263.12,217.90L264.41,217.17L265.70,216.43L267.00,215.70L268.31,214.97L269.62,214.24L270.93,213.51L272.24,212.78L273.55,212.05L274.86,211.32L276.17,210.59L277.49,209.86L278.80,209.13L280.11,208.40L281.42,207.67L282.74,206.93L284.05,206.20L285.36,205.47L286.67,204.74L287.99,204.00L289.30,203.27L290.61,202.53L291.93,201.79L293.24,201.05L294.55,200.31L295.86,199.56L297.16,198.82L298.47,198.07L299.78,197.32L301.08,196.57L302.38,195.82L303.69,195.07L304.99,194.32L306.29,193.57L307.59,192.81L308.89,192.06L310.20,191.30L311.50,190.55L312.80,189.79L314.10,189.02L315.40,188.26L316.70,187.49L317.99,186.72L319.28,185.96L320.56,185.20L321.85,184.45L323.13,183.70L324.41,182.97L325.69,182.25L326.98,181.55L328.28,180.86L329.58,180.17L330.89,179.50L332.21,178.84L333.54,178.18L334.88,177.52L336.22,176.87L337.57,176.21L338.92,175.56L340.27,174.91L341.62,174.26L342.97,173.61L344.33,172.96L345.68,172.30L347.03,171.65L348.39,171.00L349.74,170.35L351.09,169.70L352.45,169.05L353.80,168.39L355.15,167.74L356.50,167.09L357.86,166.44L359.21,165.79L360.56,165.14L361.92,164.49L363.27,163.83L364.62,163.18L365.98,162.53L367.33,161.88L368.68,161.23L370.04,160.58L371.39,159.93L372.74,159.28L374.10,158.63L375.45,157.97L376.80,157.32L378.16,156.67L379.51,156.02L380.86,155.37L382.22,154.72L383.57,154.07L384.92,153.42L386.28,152.77L387.63,152.12L388.98,151.46L390.34,150.81L391.69,150.16L393.04,149.51L394.40,148.86L395.75,148.21L397.10,147.56L398.46,146.91L399.81,146.26L401.16,145.62L402.51,144.97L403.86,144.33L405.22,143.69L406.57,143.05L407.92,142.42L409.28,141.78L410.64,141.15L412.00,140.52L413.36,139.89L414.72,139.26L416.08,138.63L417.45,138.00L418.81,137.37L420.17,136.74L421.54,136.11L422.90,135.48L424.27,134.85L425.63,134.22L426.99,133.59L428.36,132.95L429.72,132.32L431.08,131.69L432.44,131.05L433.80,130.42L435.17,129.79L436.53,129.15L437.89,128.52L439.25,127.89L440.61,127.25L441.98,126.62L443.34,125.99L444.70,125.35L446.06,124.72L447.42,124.09L448.78,123.45L450.15,122.82L451.51,122.19L452.87,121.55L454.23,120.92L455.59,120.29L456.96,119.66L458.32,119.02L459.68,118.39L461.04,117.76L462.40,117.13L463.76,116.49L465.13,115.86L466.49,115.23L467.85,114.60L469.21,113.97L470.58,113.34L471.94,112.71L473.30,112.07L474.66,111.44L476.03,110.81L477.39,110.18L478.75,109.55L480.11,108.92L481.48,108.29L482.84,107.65L484.20,107.02L485.56,106.39L486.93,105.76L488.29,105.13L489.65,104.50L491.02,103.87L492.38,103.24L493.74,102.60L495.10,101.97L496.47,101.34L497.83,100.71L499.19,100.08L500.55,99.45L501.92,98.82L503.28,98.18L504.64,97.55L506.01,96.92L507.37,96.29L508.73,95.66L510.09,95.03L511.46,94.40L512.82,93.76L514.18,93.13L515.54,92.50L516.91,91.87L518.27,91.24L519.63,90.60L521.00,89.97L522.36,89.34L523.72,88.71L525.08,88.07L526.44,87.44L527.81,86.81L529.17,86.18L530.53,85.54L531.89,84.91L533.25,84.28L534.62,83.64L535.98,83.01L537.34,82.38L538.70,81.74L540.06,81.11L541.43,80.48L542.79,79.84L544.15,79.21L545.51,78.58L546.87,77.94L548.23,77.31L549.60,76.68L550.96,76.04L552.32,75.41L553.68,74.78L555.04,74.14L556.41,73.51L557.77,72.88L559.13,72.24L560.49,71.61L561.85,70.98L563.21,70.34L564.58,69.71L565.94,69.08L567.30,68.44L568.66,67.81L570.02,67.18L571.39,66.55L572.75,65.91L574.11,65.28L575.47,64.65L576.83,64.01L578.19,63.38L579.56,62.75L580.92,62.11L582.28,61.48L583.64,60.85L585.00,60.21L586.37,59.58L587.73,58.95L589.09,58.31L590.45,57.68L591.81,57.05L593.17,56.42L594.53,55.79L595.89,55.16L597.25,54.53L598.61,53.91L599.97,53.29L601.33,52.67L602.70,52.06L604.06,51.44L605.43,50.83L606.80,50.23L608.17,49.62L609.54,49.01L610.91,48.41L612.28,47.80L613.66,47.20L615.03,46.59L616.40,45.99L617.78,45.38L619.15,44.78L620.53,44.17L621.90,43.57L623.28,42.96L624.65,42.36L626.03,41.75L627.40,41.15L628.78,40.54L630.15,39.94L631.52,39.33L632.90,38.73L634.27,38.13L635.65,37.52L637.02,36.92L638.40,36.32L639.77,35.71L641.15,35.11L642.52,34.51L643.89,33.91L645.27,33.31L646.65,32.71L648.02,32.11L649.40,31.51L650.78,30.91L652.15,30.31L653.53,29.71L654.91,29.11L656.28,28.51L657.66,27.91L659.04,27.32L660.41,26.72L661.79,26.12L663.17,25.52L664.55,24.92L665.92,24.32L667.30,23.72L668.68,23.12L670.05,22.52L671.43,21.92L672.81,21.32L674.19,20.72L675.56,20.12L676.94,19.53L678.32,18.93L675.68,12.87L674.31,13.47L672.93,14.07L671.55,14.67L670.17,15.27L668.80,15.87L667.42,16.47L666.04,17.07L664.67,17.67L663.29,18.27L661.91,18.87L660.54,19.47L659.16,20.06L657.78,20.66L656.40,21.26L655.03,21.86L653.65,22.46L652.27,23.06L650.90,23.66L649.52,24.26L648.14,24.86L646.76,25.46L645.39,26.06L644.01,26.66L642.63,27.26L641.25,27.86L639.88,28.46L638.50,29.07L637.12,29.67L635.75,30.27L634.37,30.88L632.99,31.48L631.62,32.08L630.24,32.69L628.87,33.29L627.49,33.90L626.12,34.50L624.74,35.11L623.37,35.71L621.99,36.32L620.62,36.92L619.24,37.53L617.87,38.13L616.49,38.74L615.12,39.34L613.75,39.95L612.37,40.55L611.00,41.16L609.62,41.76L608.25,42.37L606.87,42.98L605.49,43.58L604.12,44.19L602.74,44.81L601.36,45.42L599.99,46.04L598.61,46.66L597.24,47.28L595.87,47.91L594.50,48.54L593.13,49.17L591.76,49.80L590.40,50.43L589.03,51.06L587.67,51.70L586.31,52.33L584.94,52.96L583.58,53.59L582.22,54.23L580.86,54.86L579.50,55.49L578.14,56.13L576.77,56.76L575.41,57.39L574.05,58.03L572.69,58.66L571.33,59.29L569.96,59.93L568.60,60.56L567.24,61.19L565.88,61.83L564.52,62.46L563.16,63.09L561.79,63.73L560.43,64.36L559.07,64.99L557.71,65.63L556.35,66.26L554.98,66.89L553.62,67.53L552.26,68.16L550.90,68.79L549.54,69.43L548.18,70.06L546.81,70.69L545.45,71.33L544.09,71.96L542.73,72.59L541.37,73.23L540.00,73.86L538.64,74.49L537.28,75.12L535.92,75.76L534.56,76.39L533.20,77.02L531.83,77.66L530.47,78.29L529.11,78.92L527.75,79.56L526.39,80.19L525.03,80.82L523.66,81.46L522.30,82.09L520.94,82.72L519.58,83.35L518.22,83.99L516.85,84.62L515.49,85.25L514.13,85.88L512.77,86.51L511.41,87.14L510.04,87.78L508.68,88.41L507.32,89.04L505.96,89.67L504.59,90.30L503.23,90.93L501.87,91.56L500.51,92.20L499.14,92.83L497.78,93.46L496.42,94.09L495.05,94.72L493.69,95.35L492.33,95.98L490.97,96.62L489.60,97.25L488.24,97.88L486.88,98.51L485.52,99.14L484.15,99.77L482.79,100.40L481.43,101.03L480.06,101.67L478.70,102.30L477.34,102.93L475.98,103.56L474.61,104.19L473.25,104.82L471.89,105.45L470.53,106.09L469.16,106.72L467.80,107.35L466.44,107.98L465.08,108.61L463.71,109.24L462.35,109.88L460.99,110.51L459.62,111.14L458.26,111.77L456.90,112.41L455.54,113.04L454.17,113.67L452.81,114.30L451.45,114.94L450.09,115.57L448.73,116.20L447.36,116.84L446.00,117.47L444.64,118.10L443.28,118.74L441.92,119.37L440.55,120.00L439.19,120.64L437.83,121.27L436.47,121.90L435.11,122.54L433.75,123.17L432.38,123.80L431.02,124.44L429.66,125.07L428.30,125.70L426.94,126.33L425.58,126.97L424.21,127.60L422.85,128.23L421.49,128.86L420.13,129.49L418.77,130.12L417.41,130.75L416.04,131.38L414.68,132.01L413.32,132.64L411.95,133.27L410.59,133.90L409.22,134.53L407.86,135.17L406.49,135.80L405.13,136.44L403.76,137.08L402.40,137.72L401.04,138.37L399.68,139.01L398.32,139.66L396.96,140.31L395.60,140.96L394.25,141.61L392.89,142.26L391.54,142.91L390.18,143.56L388.83,144.22L387.48,144.87L386.12,145.52L384.77,146.17L383.42,146.82L382.06,147.47L380.71,148.12L379.36,148.77L378.00,149.42L376.65,150.07L375.30,150.72L373.94,151.38L372.59,152.03L371.24,152.68L369.88,153.33L368.53,153.98L367.17,154.63L365.82,155.28L364.47,155.93L363.11,156.58L361.76,157.24L360.41,157.89L359.05,158.54L357.70,159.19L356.35,159.84L354.99,160.49L353.64,161.14L352.29,161.80L350.93,162.45L349.58,163.10L348.23,163.75L346.88,164.40L345.52,165.05L344.17,165.71L342.82,166.36L341.46,167.01L340.11,167.66L338.76,168.31L337.40,168.97L336.05,169.62L334.69,170.27L333.34,170.93L331.98,171.59L330.62,172.26L329.26,172.93L327.90,173.62L326.54,174.31L325.19,175.02L323.84,175.74L322.50,176.48L321.16,177.23L319.84,177.98L318.52,178.75L317.22,179.51L315.92,180.28L314.62,181.05L313.33,181.81L312.04,182.57L310.75,183.33L309.47,184.09L308.17,184.85L306.88,185.60L305.58,186.35L304.29,187.10L302.99,187.85L301.69,188.60L300.39,189.35L299.09,190.10L297.79,190.85L296.49,191.60L295.19,192.34L293.89,193.09L292.59,193.83L291.29,194.57L289.99,195.31L288.68,196.04L287.38,196.78L286.07,197.51L284.76,198.24L283.46,198.98L282.15,199.71L280.83,200.44L279.52,201.17L278.21,201.90L276.90,202.63L275.59,203.36L274.28,204.09L272.96,204.82L271.65,205.55L270.34,206.28L269.03,207.01L267.71,207.74L266.40,208.48L265.09,209.21L263.77,209.95L262.46,210.69L261.14,211.43L259.82,212.19L258.50,212.96L257.18,213.74L255.87,214.54L254.56,215.36L253.27,216.20L251.98,217.05L250.71,217.93L249.45,218.81L248.21,219.71L246.98,220.61L245.76,221.52L244.55,222.43L243.35,223.35L242.15,224.27L240.95,225.19L239.76,226.11L238.57,227.04L237.38,227.96L236.19,228.90L235.00,229.83L233.81,230.78L232.63,231.73L231.44,232.69L230.26,233.68L229.09,234.68L227.93,235.70L226.78,236.75L225.64,237.82L224.53,238.91L223.45,240.02L222.38,241.15L221.33,242.29L220.31,243.44L219.30,244.60L218.30,245.78L217.32,246.98L216.35,248.20L215.41,249.45L214.49,250.73L213.61,252.03L212.75,253.36L211.94,254.70L211.16,256.06L210.42,257.43L209.70,258.81L209.01,260.18L208.34,261.57L207.68,262.95L207.04,264.34L206.41,265.74L205.80,267.15L205.20,268.56L204.61,269.98L204.04,271.40L203.49,272.83L202.95,274.25L202.42,275.68L201.90,277.10L201.38,278.52L200.87,279.94L200.37,281.37L199.86,282.79L199.36,284.21L198.86,285.64L198.37,287.08L197.89,288.53L197.42,289.99L196.96,291.46L196.52,292.95L196.11,294.44L195.72,295.95L195.36,297.46L195.02,298.97L194.71,300.48L194.41,301.98L194.14,303.48L193.87,304.98L193.61,306.47L193.36,307.96L193.11,309.45L192.87,310.94L192.62,312.43L192.39,313.92L192.15,315.42L191.93,316.92L191.71,318.43L191.50,319.94L191.30,321.45L191.12,322.96L190.94,324.48L190.78,325.99L190.62,327.50L190.48,329.02L190.34,330.52L190.21,332.03L190.08,333.54L189.96,335.05L189.85,336.56L189.74,338.08L189.64,339.59L189.54,341.11L189.46,342.62L189.38,344.13L189.31,345.64L189.24,347.15L189.17,348.66L189.11,350.16L189.05,351.67L188.99,353.17L188.93,354.67L188.88,356.18L188.82,357.68L188.76,359.18L188.71,360.68L188.65,362.19L188.60,363.69L188.55,365.19L188.49,366.70L188.44,368.20L188.40,369.70L188.35,371.21L188.30,372.71L188.25,374.21L188.21,375.71L188.16,377.22L188.12,378.72L188.08,380.22L188.03,381.73L187.99,383.23L187.95,384.73L187.91,386.24L187.88,387.74L187.84,389.25L187.81,390.75L187.77,392.26L187.74,393.76L187.71,395.27L187.68,396.77L187.66,398.28L187.63,399.79L187.61,401.29L187.59,402.80L187.57,404.30L187.56,405.81L187.54,407.31L187.53,408.81L187.51,410.32L187.50,411.82L187.48,413.32L187.47,414.82L187.46,416.33L187.44,417.83L187.43,419.33L187.42,420.83L187.40,422.33L187.39,423.83L187.38,425.33L187.36,426.83L187.34,428.33L187.32,429.83L187.30,431.32L187.28,432.82L187.25,434.31L187.22,435.80L187.18,437.30L187.15,438.79L187.11,440.29L187.06,441.79L187.02,443.28L186.97,444.78L186.93,446.28L186.88,447.78L186.83,449.28L186.79,450.78L186.74,452.28L186.69,453.78L186.64,455.28L186.58,456.77L186.53,458.27L186.47,459.77L186.42,461.26L186.36,462.76L186.29,464.26L186.23,465.75L186.16,467.25L186.09,468.74L186.02,470.23L185.94,471.71L185.86,473.20L185.77,474.67L185.66,476.14L185.55,477.60L185.41,479.06L185.27,480.52L185.10,481.97L184.92,483.42L184.72,484.87L184.51,486.32L184.28,487.77L184.04,489.22L183.79,490.66L183.51,492.09L183.23,493.53L182.92,494.95L182.60,496.38L182.26,497.80L181.90,499.22L181.53,500.64L181.15,502.05L180.75,503.45L180.33,504.85L179.89,506.24L179.44,507.61L178.97,508.99L178.48,510.35L177.96,511.72L177.43,513.08L176.89,514.44L176.32,515.80L175.75,517.16L175.17,518.52L174.57,519.88L173.97,521.24L173.37,522.59L172.75,523.94L172.12,525.28L171.49,526.63L170.85,527.97L170.21,529.31L169.56,530.65L168.90,531.98L168.24,533.31L167.57,534.63L166.90,535.95L166.22,537.25L165.52,538.56L164.82,539.86L164.11,541.15L163.38,542.45L162.65,543.74L161.91,545.04L161.17,546.34L160.42,547.64L159.68,548.95L158.93,550.27L158.19,551.60L157.45,552.94L156.72,554.29L156.01,555.65L155.31,557.04L154.63,558.45L153.98,559.88L153.37,561.33L152.79,562.81L152.26,564.31L151.78,565.83L151.34,567.37L150.97,568.91L150.64,570.47L150.36,572.03L150.12,573.59L149.93,575.14L149.76,576.69L149.63,578.24L149.52,579.79L149.44,581.32L149.37,582.85L149.31,584.38L149.27,585.90L149.23,587.42L149.20,588.93L149.18,590.44L149.16,591.95L149.14,593.46L149.13,594.97L149.11,596.47L149.10,597.97Z" fill="#2566a8" stroke="none"/>
<path d="M155.70,598.07L155.73,596.57L155.76,595.07L155.79,593.58L155.83,592.10L155.88,590.62L155.94,589.15L156.01,587.69L156.11,586.25L156.22,584.81L156.36,583.40L156.53,582.00L156.73,580.62L156.97,579.26L157.26,577.91L157.59,576.59L157.97,575.28L158.39,573.98L158.86,572.70L159.38,571.43L159.94,570.18L160.55,568.95L161.20,567.73L161.89,566.53L162.62,565.34L163.38,564.17L164.18,563.02L165.02,561.88L165.88,560.76L166.77,559.64L167.69,558.55L168.63,557.47L169.59,556.40L170.57,555.35L171.57,554.32L172.59,553.30L173.63,552.29L174.69,551.31L175.76,550.33L176.85,549.37L177.95,548.43L179.07,547.49L180.20,546.57L181.35,545.65L182.50,544.75L183.67,543.85L184.84,542.97L186.02,542.09L187.22,541.22L188.42,540.36L189.63,539.51L190.84,538.65L192.07,537.80L193.29,536.95L194.52,536.10L195.76,535.25L196.99,534.40L198.23,533.56L199.47,532.71L200.71,531.86L201.94,531.01L203.18,530.15L204.42,529.30L205.66,528.45L206.89,527.60L208.13,526.74L209.37,525.89L210.60,525.03L211.83,524.17L213.07,523.32L214.30,522.46L215.53,521.60L216.76,520.74L218.00,519.88L219.23,519.03L220.46,518.17L221.69,517.31L222.92,516.45L224.15,515.60L225.38,514.74L226.62,513.88L227.85,513.02L229.08,512.16L230.31,511.30L231.54,510.45L232.77,509.59L234.00,508.73L235.23,507.87L236.46,507.01L237.70,506.15L238.93,505.29L240.16,504.43L241.39,503.58L242.62,502.72L243.85,501.86L245.08,501.00L246.31,500.14L247.54,499.28L248.77,498.41L250.01,497.54L251.24,496.67L252.47,495.79L253.71,494.90L254.94,494.00L256.16,493.09L257.38,492.16L258.59,491.21L259.79,490.26L260.98,489.29L262.16,488.31L263.32,487.33L264.48,486.34L265.62,485.34L266.76,484.35L267.90,483.34L269.03,482.33L270.16,481.31L271.28,480.27L272.40,479.22L273.51,478.16L274.61,477.08L275.69,475.98L276.76,474.86L277.81,473.73L278.84,472.60L279.86,471.45L280.87,470.29L281.86,469.13L282.84,467.95L283.81,466.75L284.77,465.54L285.72,464.30L286.64,463.04L287.53,461.76L288.40,460.45L289.23,459.12L290.03,457.77L290.80,456.41L291.54,455.04L292.25,453.66L292.93,452.26L293.59,450.85L294.23,449.43L294.84,447.99L295.41,446.54L295.96,445.07L296.47,443.59L296.95,442.11L297.40,440.63L297.82,439.14L298.22,437.66L298.61,436.18L298.98,434.71L299.34,433.23L299.69,431.75L300.04,430.28L300.38,428.80L300.71,427.32L301.03,425.83L301.34,424.34L301.64,422.84L301.93,421.34L302.21,419.84L302.47,418.32L302.71,416.81L302.94,415.29L303.15,413.78L303.35,412.26L303.53,410.75L303.70,409.23L303.86,407.72L304.01,406.20L304.15,404.69L304.28,403.17L304.40,401.65L304.51,400.12L304.60,398.60L304.68,397.08L304.75,395.56L304.81,394.04L304.86,392.53L304.91,391.02L304.95,389.51L304.99,388.00L305.03,386.50L305.07,385.00L305.10,383.49L305.13,381.99L305.16,380.48L305.19,378.98L305.21,377.47L305.24,375.97L305.26,374.47L305.28,372.96L305.30,371.46L305.32,369.96L305.34,368.46L305.36,366.96L305.38,365.46L305.40,363.95L305.42,362.45L305.44,360.95L305.45,359.45L305.47,357.95L305.49,356.45L305.51,354.95L305.53,353.45L305.55,351.95L305.57,350.45L305.58,348.95L305.60,347.45L305.62,345.95L305.64,344.45L305.65,342.95L305.67,341.44L305.69,339.94L305.71,338.44L305.73,336.94L305.74,335.44L305.76,333.94L305.78,332.45L305.80,330.95L305.82,329.45L305.85,327.96L305.88,326.47L305.91,324.98L305.95,323.50L306.00,322.01L306.05,320.52L306.10,319.04L306.17,317.55L306.24,316.06L306.31,314.57L306.38,313.08L306.46,311.58L306.54,310.09L306.62,308.59L306.70,307.10L306.79,305.60L306.87,304.11L306.96,302.62L307.05,301.13L307.15,299.65L307.25,298.16L307.36,296.68L307.48,295.20L307.60,293.72L307.73,292.24L307.86,290.75L308.00,289.27L308.14,287.78L308.29,286.29L308.43,284.81L308.58,283.32L308.73,281.83L308.89,280.34L309.04,278.86L309.20,277.38L309.37,275.90L309.54,274.43L309.72,272.96L309.91,271.50L310.11,270.03L310.32,268.57L310.54,267.11L310.77,265.65L311.01,264.19L311.26,262.72L311.51,261.25L311.77,259.78L312.03,258.31L312.30,256.84L312.56,255.38L312.84,253.91L313.11,252.44L313.39,250.98L313.67,249.52L313.96,248.05L314.25,246.59L314.55,245.13L314.86,243.68L315.16,242.22L315.48,240.76L315.79,239.31L316.12,237.86L316.45,236.41L316.78,234.97L317.12,233.53L317.47,232.10L317.84,230.69L318.22,229.28L318.61,227.89L319.03,226.52L319.47,225.15L319.93,223.79L320.42,222.44L320.94,221.09L321.47,219.75L322.03,218.41L322.61,217.09L323.20,215.77L323.82,214.47L324.45,213.19L325.11,211.92L325.79,210.66L326.50,209.42L327.23,208.20L327.99,206.98L328.77,205.78L329.57,204.59L330.40,203.42L331.24,202.27L332.11,201.14L333.00,200.03L333.91,198.94L334.85,197.87L335.81,196.81L336.80,195.77L337.81,194.75L338.84,193.73L339.89,192.73L340.96,191.73L342.04,190.74L343.14,189.76L344.25,188.77L345.36,187.80L346.49,186.82L347.61,185.84L348.75,184.87L349.88,183.90L351.02,182.93L352.15,181.96L353.29,181.00L354.43,180.05L355.58,179.09L356.72,178.15L357.87,177.20L359.03,176.26L360.19,175.33L361.35,174.40L362.51,173.47L363.68,172.55L364.85,171.63L366.02,170.72L367.20,169.82L368.37,168.93L369.55,168.05L370.74,167.18L371.93,166.32L373.13,165.47L374.34,164.64L375.56,163.81L376.79,162.99L378.03,162.17L379.27,161.36L380.52,160.55L381.77,159.75L383.02,158.95L384.28,158.16L385.54,157.37L386.81,156.59L388.07,155.82L389.35,155.05L390.62,154.29L391.90,153.52L393.18,152.77L394.47,152.01L395.76,151.27L397.05,150.52L398.34,149.79L399.63,149.06L400.92,148.33L402.22,147.62L403.52,146.91L404.83,146.21L406.14,145.52L407.45,144.84L408.76,144.17L410.08,143.50L411.41,142.84L412.74,142.20L414.07,141.56L415.41,140.93L416.75,140.30L418.10,139.69L419.45,139.07L420.81,138.47L422.17,137.87L423.53,137.28L424.89,136.70L426.26,136.12L427.63,135.55L429.01,134.98L430.39,134.41L431.78,133.85L433.17,133.28L434.56,132.71L435.96,132.14L437.35,131.56L438.75,130.98L440.15,130.39L441.54,129.79L442.93,129.18L444.32,128.57L445.70,127.95L447.08,127.32L448.45,126.69L449.82,126.06L451.19,125.43L452.55,124.80L453.91,124.17L455.27,123.54L456.64,122.90L458.00,122.27L459.36,121.64L460.72,121.01L462.08,120.37L463.44,119.74L464.80,119.11L466.16,118.47L467.52,117.84L468.88,117.21L470.24,116.58L471.60,115.94L472.97,115.31L474.33,114.68L475.69,114.05L477.05,113.41L478.41,112.78L479.77,112.15L481.13,111.51L482.49,110.88L483.85,110.25L485.21,109.62L486.57,108.98L487.93,108.35L489.29,107.72L490.65,107.09L492.02,106.45L493.38,105.82L494.74,105.19L496.10,104.55L497.46,103.92L498.82,103.29L500.18,102.66L501.54,102.02L502.90,101.39L504.26,100.76L505.62,100.12L506.98,99.49L508.34,98.86L509.70,98.23L511.07,97.59L512.43,96.96L513.79,96.33L515.15,95.70L516.51,95.06L517.87,94.43L519.23,93.80L520.59,93.16L521.95,92.53L523.31,91.90L524.67,91.26L526.03,90.63L527.39,89.99L528.75,89.36L530.11,88.73L531.47,88.09L532.83,87.46L534.19,86.82L535.55,86.19L536.91,85.55L538.27,84.92L539.63,84.29L540.99,83.65L542.35,83.02L543.71,82.38L545.07,81.75L546.44,81.12L547.80,80.48L549.16,79.85L550.52,79.21L551.88,78.58L553.24,77.95L554.60,77.31L555.96,76.68L557.32,76.04L558.68,75.41L560.04,74.77L561.40,74.14L562.76,73.51L564.12,72.87L565.48,72.24L566.84,71.60L568.20,70.97L569.56,70.34L570.92,69.70L572.28,69.07L573.64,68.43L575.00,67.80L576.36,67.16L577.72,66.53L579.08,65.90L580.44,65.26L581.80,64.63L583.16,63.99L584.52,63.36L585.88,62.73L587.24,62.09L588.60,61.46L589.96,60.83L591.32,60.19L592.67,59.56L594.03,58.93L595.39,58.30L596.75,57.68L598.11,57.06L599.46,56.44L600.82,55.83L602.18,55.22L603.55,54.61L604.91,54.01L606.28,53.41L607.65,52.82L609.02,52.22L610.40,51.63L611.77,51.03L613.15,50.44L614.53,49.85L615.90,49.25L617.28,48.66L618.66,48.07L620.04,47.48L621.42,46.88L622.80,46.29L624.18,45.70L625.55,45.10L626.93,44.51L628.31,43.92L629.69,43.33L631.07,42.73L632.45,42.14L633.82,41.55L635.20,40.96L636.58,40.37L637.96,39.78L639.33,39.20L640.71,38.61L642.09,38.03L643.47,37.44L644.85,36.86L646.23,36.28L647.61,35.70L649.00,35.13L650.38,34.55L651.76,33.97L653.15,33.39L654.53,32.81L655.92,32.24L657.30,31.66L658.69,31.08L660.07,30.50L661.46,29.92L662.84,29.35L664.23,28.77L665.61,28.19L667.00,27.61L668.38,27.03L669.77,26.46L671.15,25.88L672.54,25.30L673.92,24.72L675.31,24.15L676.69,23.57L678.08,22.99L679.46,22.41L680.85,21.83L682.23,21.26L683.62,20.68L685.00,20.10L686.39,19.52L687.77,18.95L685.23,12.85L683.84,13.43L682.46,14.01L681.07,14.59L679.69,15.17L678.30,15.74L676.92,16.32L675.53,16.90L674.15,17.48L672.76,18.05L671.38,18.63L670.00,19.21L668.61,19.79L667.23,20.37L665.84,20.94L664.46,21.52L663.07,22.10L661.69,22.68L660.30,23.25L658.92,23.83L657.53,24.41L656.15,24.99L654.76,25.57L653.38,26.14L651.99,26.72L650.61,27.30L649.22,27.88L647.83,28.46L646.45,29.04L645.06,29.62L643.68,30.20L642.29,30.78L640.91,31.36L639.52,31.95L638.14,32.53L636.75,33.12L635.37,33.71L633.98,34.30L632.60,34.89L631.22,35.49L629.84,36.08L628.46,36.67L627.08,37.26L625.70,37.86L624.33,38.45L622.95,39.04L621.57,39.63L620.19,40.23L618.81,40.82L617.43,41.41L616.05,42.00L614.68,42.60L613.30,43.19L611.92,43.78L610.54,44.38L609.16,44.97L607.78,45.57L606.40,46.16L605.02,46.76L603.64,47.36L602.26,47.97L600.87,48.58L599.49,49.19L598.12,49.81L596.74,50.43L595.37,51.05L593.99,51.68L592.63,52.31L591.26,52.94L589.90,53.57L588.53,54.21L587.17,54.84L585.81,55.48L584.45,56.11L583.09,56.74L581.73,57.38L580.37,58.01L579.01,58.65L577.65,59.28L576.29,59.91L574.93,60.55L573.57,61.18L572.21,61.82L570.85,62.45L569.49,63.09L568.13,63.72L566.77,64.35L565.41,64.99L564.05,65.62L562.69,66.26L561.33,66.89L559.97,67.52L558.61,68.16L557.25,68.79L555.89,69.43L554.53,70.06L553.17,70.70L551.81,71.33L550.45,71.96L549.09,72.60L547.73,73.23L546.37,73.87L545.01,74.50L543.65,75.13L542.29,75.77L540.93,76.40L539.57,77.04L538.21,77.67L536.85,78.30L535.49,78.94L534.13,79.57L532.77,80.21L531.41,80.84L530.05,81.48L528.69,82.11L527.33,82.74L525.97,83.38L524.61,84.01L523.25,84.65L521.89,85.28L520.53,85.91L519.17,86.55L517.81,87.18L516.45,87.81L515.08,88.45L513.72,89.08L512.36,89.71L511.00,90.34L509.64,90.98L508.28,91.61L506.92,92.24L505.56,92.87L504.20,93.51L502.84,94.14L501.48,94.77L500.12,95.41L498.76,96.04L497.40,96.67L496.04,97.30L494.68,97.94L493.31,98.57L491.95,99.20L490.59,99.83L489.23,100.47L487.87,101.10L486.51,101.73L485.15,102.37L483.79,103.00L482.43,103.63L481.07,104.26L479.71,104.90L478.35,105.53L476.99,106.16L475.63,106.80L474.26,107.43L472.90,108.06L471.54,108.69L470.18,109.33L468.82,109.96L467.46,110.59L466.10,111.22L464.74,111.86L463.38,112.49L462.02,113.12L460.66,113.76L459.30,114.39L457.94,115.02L456.57,115.65L455.21,116.29L453.85,116.92L452.49,117.55L451.13,118.18L449.77,118.81L448.41,119.44L447.06,120.07L445.70,120.69L444.34,121.31L442.99,121.93L441.63,122.54L440.27,123.14L438.92,123.73L437.55,124.32L436.19,124.90L434.82,125.47L433.44,126.04L432.06,126.61L430.68,127.17L429.29,127.74L427.89,128.30L426.50,128.88L425.10,129.45L423.71,130.04L422.31,130.63L420.92,131.22L419.53,131.83L418.14,132.44L416.75,133.05L415.37,133.68L413.99,134.31L412.61,134.95L411.24,135.60L409.87,136.25L408.50,136.92L407.13,137.60L405.77,138.28L404.42,138.97L403.07,139.68L401.73,140.39L400.39,141.10L399.05,141.83L397.72,142.56L396.40,143.30L395.08,144.05L393.76,144.80L392.45,145.55L391.14,146.31L389.84,147.08L388.54,147.85L387.24,148.62L385.94,149.40L384.65,150.18L383.35,150.97L382.06,151.76L380.78,152.57L379.50,153.37L378.22,154.19L376.94,155.00L375.67,155.83L374.40,156.65L373.14,157.49L371.87,158.34L370.61,159.19L369.36,160.06L368.11,160.94L366.86,161.84L365.63,162.74L364.41,163.65L363.19,164.57L361.99,165.50L360.79,166.43L359.60,167.36L358.41,168.30L357.23,169.24L356.05,170.19L354.87,171.14L353.70,172.09L352.53,173.05L351.36,174.01L350.20,174.98L349.04,175.95L347.89,176.93L346.74,177.90L345.59,178.88L344.45,179.86L343.30,180.85L342.16,181.83L341.02,182.83L339.88,183.82L338.74,184.83L337.61,185.85L336.48,186.88L335.36,187.93L334.24,189.00L333.14,190.08L332.05,191.19L330.98,192.32L329.93,193.47L328.90,194.65L327.89,195.85L326.92,197.07L325.97,198.31L325.04,199.57L324.14,200.84L323.27,202.13L322.42,203.44L321.60,204.76L320.80,206.10L320.02,207.45L319.28,208.82L318.56,210.20L317.87,211.60L317.21,213.00L316.57,214.41L315.96,215.83L315.36,217.26L314.79,218.69L314.24,220.14L313.71,221.60L313.20,223.07L312.73,224.55L312.28,226.03L311.86,227.52L311.46,229.01L311.07,230.49L310.71,231.98L310.36,233.46L310.01,234.93L309.68,236.41L309.35,237.89L309.03,239.37L308.71,240.84L308.40,242.32L308.09,243.80L307.79,245.28L307.49,246.77L307.20,248.25L306.91,249.73L306.63,251.22L306.35,252.70L306.07,254.18L305.80,255.67L305.54,257.15L305.27,258.64L305.01,260.12L304.75,261.61L304.50,263.10L304.26,264.60L304.02,266.10L303.79,267.61L303.57,269.11L303.37,270.62L303.17,272.13L302.99,273.64L302.81,275.15L302.64,276.66L302.48,278.16L302.32,279.66L302.17,281.16L302.02,282.65L301.87,284.15L301.72,285.65L301.57,287.15L301.43,288.65L301.29,290.15L301.15,291.66L301.02,293.16L300.90,294.67L300.78,296.18L300.67,297.69L300.56,299.21L300.47,300.71L300.37,302.22L300.28,303.73L300.20,305.23L300.11,306.73L300.03,308.23L299.95,309.74L299.87,311.24L299.79,312.74L299.72,314.24L299.64,315.75L299.57,317.26L299.51,318.77L299.45,320.28L299.40,321.79L299.35,323.31L299.31,324.82L299.28,326.33L299.25,327.84L299.22,329.35L299.20,330.86L299.18,332.36L299.16,333.86L299.14,335.36L299.13,336.87L299.11,338.37L299.09,339.87L299.07,341.37L299.06,342.87L299.04,344.37L299.02,345.87L299.00,347.37L298.98,348.87L298.97,350.37L298.95,351.87L298.93,353.37L298.91,354.87L298.89,356.37L298.87,357.87L298.86,359.37L298.84,360.87L298.82,362.37L298.80,363.87L298.78,365.37L298.76,366.87L298.74,368.37L298.72,369.87L298.70,371.37L298.68,372.87L298.66,374.37L298.64,375.87L298.62,377.36L298.59,378.86L298.56,380.36L298.53,381.85L298.50,383.35L298.47,384.84L298.43,386.34L298.40,387.84L298.36,389.33L298.31,390.82L298.27,392.31L298.22,393.79L298.16,395.28L298.09,396.75L298.01,398.22L297.92,399.70L297.82,401.16L297.71,402.63L297.58,404.10L297.44,405.57L297.30,407.04L297.14,408.51L296.98,409.98L296.80,411.44L296.61,412.90L296.41,414.35L296.19,415.80L295.96,417.24L295.71,418.68L295.45,420.12L295.17,421.56L294.88,423.01L294.57,424.45L294.26,425.90L293.94,427.35L293.61,428.79L293.27,430.24L292.93,431.68L292.57,433.12L292.21,434.55L291.84,435.97L291.46,437.37L291.06,438.77L290.65,440.14L290.21,441.50L289.75,442.84L289.25,444.17L288.73,445.49L288.18,446.80L287.59,448.11L286.98,449.40L286.35,450.69L285.70,451.97L285.02,453.22L284.32,454.46L283.60,455.68L282.85,456.88L282.07,458.05L281.27,459.21L280.43,460.36L279.56,461.49L278.67,462.62L277.75,463.75L276.81,464.87L275.86,465.99L274.90,467.09L273.93,468.19L272.95,469.27L271.96,470.33L270.96,471.38L269.94,472.41L268.91,473.43L267.86,474.44L266.79,475.44L265.71,476.43L264.62,477.42L263.51,478.41L262.40,479.39L261.29,480.37L260.17,481.34L259.04,482.30L257.92,483.25L256.79,484.19L255.65,485.12L254.51,486.03L253.35,486.93L252.19,487.82L251.01,488.69L249.83,489.56L248.63,490.43L247.42,491.29L246.20,492.15L244.98,493.01L243.76,493.87L242.53,494.73L241.30,495.59L240.07,496.45L238.84,497.30L237.61,498.16L236.38,499.02L235.15,499.88L233.92,500.74L232.69,501.60L231.46,502.46L230.23,503.32L229.00,504.17L227.77,505.03L226.53,505.89L225.30,506.75L224.07,507.61L222.84,508.46L221.61,509.32L220.38,510.18L219.15,511.04L217.92,511.90L216.69,512.75L215.46,513.61L214.22,514.47L212.99,515.33L211.76,516.18L210.53,517.04L209.30,517.90L208.07,518.75L206.84,519.61L205.61,520.46L204.37,521.31L203.14,522.17L201.91,523.02L200.68,523.87L199.44,524.72L198.21,525.57L196.97,526.42L195.73,527.26L194.50,528.11L193.26,528.96L192.02,529.81L190.78,530.67L189.54,531.52L188.30,532.38L187.06,533.24L185.82,534.11L184.58,534.99L183.35,535.88L182.12,536.77L180.89,537.68L179.67,538.60L178.46,539.53L177.25,540.48L176.05,541.43L174.87,542.40L173.69,543.39L172.52,544.39L171.36,545.41L170.21,546.45L169.08,547.51L167.97,548.59L166.87,549.69L165.79,550.80L164.73,551.94L163.69,553.09L162.67,554.26L161.66,555.46L160.69,556.68L159.73,557.92L158.81,559.19L157.91,560.49L157.04,561.81L156.21,563.16L155.42,564.54L154.68,565.94L153.97,567.37L153.32,568.83L152.71,570.31L152.16,571.81L151.66,573.34L151.22,574.87L150.83,576.43L150.50,577.99L150.22,579.55L149.99,581.12L149.80,582.68L149.64,584.23L149.52,585.78L149.42,587.32L149.35,588.86L149.29,590.38L149.24,591.90L149.20,593.42L149.16,594.93L149.13,596.43L149.10,597.93Z" fill="#5f9cdd" stroke="none"/>
<path d="M155.70,598.06L155.73,596.57L155.76,595.07L155.79,593.58L155.83,592.09L155.87,590.61L155.93,589.14L155.99,587.67L156.07,586.22L156.18,584.78L156.30,583.35L156.45,581.95L156.64,580.56L156.86,579.19L157.13,577.84L157.44,576.51L157.79,575.19L158.19,573.89L158.64,572.61L159.14,571.34L159.69,570.08L160.28,568.84L160.91,567.61L161.58,566.39L162.30,565.19L163.04,564.01L163.83,562.84L164.64,561.68L165.48,560.54L166.35,559.41L167.25,558.30L168.17,557.20L169.11,556.11L170.08,555.04L171.06,553.98L172.06,552.93L173.08,551.89L174.11,550.87L175.16,549.85L176.22,548.84L177.30,547.84L178.39,546.85L179.48,545.87L180.59,544.89L181.70,543.92L182.82,542.96L183.95,542.00L185.08,541.05L186.23,540.10L187.37,539.16L188.53,538.22L189.69,537.28L190.85,536.34L192.02,535.40L193.18,534.46L194.35,533.52L195.52,532.58L196.69,531.64L197.86,530.70L199.03,529.76L200.20,528.82L201.37,527.88L202.55,526.94L203.72,525.99L204.89,525.04L206.06,524.09L207.23,523.13L208.39,522.16L209.56,521.19L210.72,520.22L211.87,519.24L213.02,518.26L214.16,517.27L215.30,516.28L216.44,515.29L217.57,514.30L218.70,513.31L219.83,512.32L220.96,511.33L222.09,510.34L223.22,509.34L224.35,508.35L225.48,507.35L226.60,506.34L227.73,505.33L228.86,504.31L229.98,503.28L231.10,502.23L232.20,501.18L233.31,500.10L234.40,499.01L235.47,497.90L236.54,496.77L237.58,495.60L238.60,494.41L239.60,493.19L240.56,491.95L241.49,490.67L242.38,489.37L243.24,488.06L244.06,486.74L244.85,485.41L245.62,484.08L246.37,482.74L247.10,481.41L247.83,480.08L248.54,478.74L249.25,477.40L249.96,476.06L250.66,474.72L251.35,473.37L252.04,472.02L252.72,470.67L253.39,469.30L254.06,467.93L254.72,466.54L255.36,465.14L255.98,463.73L256.59,462.30L257.16,460.85L257.71,459.39L258.23,457.92L258.72,456.44L259.18,454.96L259.62,453.47L260.03,451.98L260.42,450.48L260.78,448.97L261.12,447.46L261.43,445.94L261.71,444.41L261.97,442.88L262.20,441.35L262.41,439.82L262.60,438.30L262.77,436.77L262.92,435.25L263.06,433.73L263.19,432.21L263.31,430.69L263.42,429.18L263.51,427.66L263.60,426.14L263.68,424.63L263.76,423.12L263.83,421.61L263.89,420.11L263.96,418.61L264.02,417.10L264.08,415.60L264.14,414.10L264.20,412.60L264.26,411.10L264.32,409.61L264.38,408.11L264.44,406.61L264.50,405.11L264.56,403.61L264.62,402.11L264.68,400.61L264.75,399.11L264.81,397.61L264.87,396.11L264.93,394.61L264.99,393.11L265.05,391.61L265.10,390.10L265.16,388.59L265.20,387.09L265.25,385.58L265.29,384.07L265.33,382.56L265.36,381.05L265.39,379.55L265.42,378.04L265.44,376.54L265.47,375.04L265.49,373.54L265.52,372.04L265.54,370.54L265.57,369.03L265.59,367.53L265.61,366.03L265.64,364.53L265.66,363.03L265.68,361.53L265.71,360.03L265.73,358.53L265.76,357.04L265.78,355.54L265.81,354.04L265.84,352.54L265.86,351.05L265.90,349.55L265.93,348.06L265.96,346.56L266.00,345.07L266.04,343.57L266.08,342.07L266.13,340.58L266.17,339.08L266.22,337.58L266.26,336.08L266.31,334.59L266.36,333.09L266.40,331.59L266.45,330.10L266.51,328.60L266.56,327.11L266.62,325.62L266.69,324.13L266.75,322.65L266.83,321.16L266.91,319.68L267.00,318.19L267.09,316.70L267.18,315.21L267.28,313.72L267.38,312.23L267.48,310.73L267.58,309.24L267.69,307.75L267.79,306.26L267.90,304.77L268.02,303.28L268.13,301.79L268.25,300.31L268.38,298.84L268.52,297.36L268.66,295.89L268.82,294.42L268.98,292.94L269.15,291.47L269.33,289.99L269.51,288.51L269.70,287.03L269.89,285.55L270.09,284.07L270.28,282.59L270.48,281.11L270.68,279.63L270.89,278.16L271.10,276.69L271.32,275.24L271.55,273.79L271.80,272.34L272.06,270.90L272.33,269.47L272.63,268.04L272.94,266.61L273.26,265.18L273.60,263.75L273.95,262.32L274.31,260.90L274.69,259.48L275.08,258.06L275.48,256.65L275.90,255.25L276.33,253.85L276.78,252.45L277.23,251.06L277.71,249.66L278.19,248.28L278.69,246.89L279.20,245.52L279.72,244.14L280.25,242.77L280.80,241.41L281.36,240.05L281.93,238.69L282.51,237.34L283.10,236.00L283.71,234.66L284.32,233.33L284.95,232.02L285.59,230.72L286.25,229.43L286.93,228.16L287.63,226.91L288.35,225.67L289.09,224.44L289.85,223.23L290.64,222.04L291.44,220.87L292.28,219.73L293.13,218.60L294.02,217.49L294.93,216.41L295.86,215.34L296.82,214.28L297.81,213.25L298.82,212.22L299.85,211.21L300.91,210.20L301.97,209.20L303.06,208.21L304.15,207.22L305.26,206.24L306.37,205.26L307.49,204.29L308.61,203.32L309.74,202.37L310.87,201.42L312.01,200.47L313.16,199.53L314.31,198.60L315.47,197.67L316.64,196.75L317.81,195.83L318.98,194.91L320.15,194.00L321.33,193.10L322.51,192.20L323.69,191.32L324.87,190.44L326.06,189.58L327.26,188.73L328.46,187.90L329.68,187.07L330.90,186.25L332.14,185.44L333.38,184.63L334.63,183.83L335.89,183.02L337.15,182.22L338.41,181.42L339.68,180.61L340.94,179.81L342.21,179.01L343.48,178.21L344.75,177.41L346.01,176.60L347.28,175.80L348.54,175.01L349.81,174.21L351.07,173.43L352.34,172.64L353.60,171.87L354.86,171.11L356.13,170.36L357.40,169.61L358.68,168.88L359.97,168.16L361.26,167.45L362.56,166.75L363.87,166.04L365.19,165.35L366.51,164.65L367.83,163.96L369.16,163.26L370.48,162.57L371.81,161.88L373.14,161.18L374.47,160.49L375.80,159.81L377.13,159.12L378.46,158.44L379.78,157.76L381.11,157.08L382.44,156.41L383.77,155.75L385.11,155.08L386.45,154.43L387.79,153.77L389.13,153.12L390.48,152.47L391.83,151.82L393.18,151.18L394.53,150.53L395.88,149.88L397.23,149.24L398.59,148.59L399.94,147.94L401.30,147.29L402.65,146.65L404.00,146.00L405.36,145.35L406.71,144.71L408.06,144.06L409.42,143.41L410.77,142.77L412.13,142.12L413.48,141.48L414.83,140.83L416.18,140.19L417.54,139.54L418.89,138.90L420.24,138.26L421.60,137.62L422.95,136.99L424.31,136.35L425.66,135.71L427.02,135.08L428.38,134.45L429.74,133.81L431.10,133.18L432.46,132.55L433.82,131.91L435.18,131.28L436.54,130.65L437.90,130.02L439.26,129.38L440.62,128.75L441.98,128.12L443.34,127.49L444.70,126.85L446.06,126.22L447.42,125.59L448.78,124.95L450.14,124.32L451.50,123.69L452.87,123.06L454.23,122.42L455.59,121.79L456.95,121.16L458.31,120.53L459.67,119.89L461.03,119.26L462.39,118.63L463.75,118.00L465.11,117.36L466.47,116.73L467.83,116.10L469.19,115.46L470.55,114.83L471.91,114.20L473.27,113.57L474.63,112.93L475.99,112.30L477.36,111.67L478.72,111.04L480.08,110.40L481.44,109.77L482.80,109.14L484.16,108.51L485.52,107.87L486.88,107.24L488.24,106.61L489.60,105.98L490.96,105.34L492.32,104.71L493.68,104.08L495.04,103.44L496.40,102.81L497.76,102.18L499.12,101.55L500.48,100.91L501.85,100.28L503.21,99.65L504.57,99.02L505.93,98.38L507.29,97.75L508.65,97.12L510.01,96.49L511.37,95.85L512.73,95.22L514.09,94.59L515.45,93.95L516.81,93.32L518.17,92.69L519.53,92.06L520.89,91.42L522.25,90.79L523.61,90.16L524.97,89.53L526.34,88.89L527.70,88.26L529.06,87.63L530.42,87.00L531.78,86.36L533.14,85.73L534.50,85.10L535.86,84.46L537.22,83.83L538.58,83.20L539.94,82.57L541.30,81.93L542.66,81.30L544.02,80.67L545.38,80.04L546.74,79.40L548.10,78.77L549.46,78.14L550.83,77.51L552.19,76.87L553.55,76.24L554.91,75.61L556.27,74.97L557.63,74.34L558.99,73.71L560.35,73.08L561.71,72.44L563.07,71.81L564.43,71.18L565.79,70.55L567.15,69.91L568.51,69.28L569.87,68.65L571.23,68.02L572.59,67.38L573.95,66.75L575.32,66.12L576.68,65.49L578.04,64.85L579.40,64.22L580.76,63.59L582.12,62.95L583.48,62.32L584.84,61.69L586.20,61.06L587.56,60.42L588.92,59.79L590.28,59.16L591.64,58.53L593.00,57.90L594.36,57.27L595.72,56.64L597.08,56.02L598.43,55.40L599.79,54.78L601.15,54.17L602.51,53.55L603.88,52.95L605.24,52.34L606.61,51.74L607.98,51.14L609.35,50.54L610.72,49.94L612.10,49.34L613.47,48.74L614.85,48.14L616.22,47.54L617.60,46.94L618.98,46.34L620.35,45.75L621.73,45.15L623.10,44.55L624.48,43.95L625.85,43.35L627.23,42.75L628.61,42.15L629.98,41.56L631.36,40.96L632.73,40.36L634.11,39.76L635.49,39.16L636.86,38.57L638.24,37.97L639.61,37.37L640.99,36.78L642.36,36.18L643.74,35.58L645.12,34.99L646.49,34.39L647.87,33.80L649.25,33.20L650.62,32.61L652.00,32.01L653.38,31.42L654.76,30.82L656.13,30.23L657.51,29.63L658.89,29.04L660.27,28.45L661.64,27.85L663.02,27.26L664.40,26.66L665.78,26.07L667.15,25.47L668.53,24.88L669.91,24.28L671.29,23.69L672.66,23.09L674.04,22.50L675.42,21.90L676.80,21.31L678.18,20.71L679.55,20.12L680.93,19.52L682.31,18.93L679.69,12.87L678.31,13.46L676.94,14.06L675.56,14.65L674.18,15.25L672.80,15.84L671.43,16.44L670.05,17.03L668.67,17.63L667.29,18.22L665.92,18.82L664.54,19.41L663.16,20.01L661.78,20.60L660.41,21.20L659.03,21.79L657.65,22.39L656.27,22.98L654.90,23.57L653.52,24.17L652.14,24.76L650.76,25.36L649.39,25.95L648.01,26.55L646.63,27.14L645.25,27.74L643.87,28.33L642.50,28.93L641.12,29.53L639.74,30.12L638.36,30.72L636.99,31.32L635.61,31.91L634.23,32.51L632.86,33.11L631.48,33.71L630.10,34.31L628.73,34.91L627.35,35.50L625.97,36.10L624.60,36.70L623.22,37.30L621.85,37.90L620.47,38.50L619.09,39.10L617.72,39.69L616.34,40.29L614.97,40.89L613.59,41.49L612.21,42.09L610.84,42.69L609.46,43.29L608.08,43.89L606.71,44.49L605.33,45.09L603.95,45.70L602.57,46.30L601.20,46.92L599.82,47.53L598.44,48.15L597.07,48.77L595.70,49.39L594.32,50.02L592.96,50.65L591.59,51.28L590.23,51.91L588.86,52.54L587.50,53.17L586.14,53.81L584.78,54.44L583.42,55.07L582.06,55.70L580.70,56.34L579.34,56.97L577.97,57.60L576.61,58.24L575.25,58.87L573.89,59.50L572.53,60.13L571.17,60.77L569.81,61.40L568.45,62.03L567.09,62.66L565.73,63.30L564.37,63.93L563.01,64.56L561.65,65.19L560.29,65.83L558.93,66.46L557.57,67.09L556.21,67.72L554.85,68.36L553.48,68.99L552.12,69.62L550.76,70.26L549.40,70.89L548.04,71.52L546.68,72.15L545.32,72.79L543.96,73.42L542.60,74.05L541.24,74.68L539.88,75.32L538.52,75.95L537.16,76.58L535.80,77.21L534.44,77.85L533.08,78.48L531.72,79.11L530.36,79.75L528.99,80.38L527.63,81.01L526.27,81.64L524.91,82.28L523.55,82.91L522.19,83.54L520.83,84.17L519.47,84.81L518.11,85.44L516.75,86.07L515.39,86.70L514.03,87.34L512.67,87.97L511.31,88.60L509.95,89.24L508.59,89.87L507.23,90.50L505.87,91.13L504.50,91.77L503.14,92.40L501.78,93.03L500.42,93.66L499.06,94.30L497.70,94.93L496.34,95.56L494.98,96.19L493.62,96.83L492.26,97.46L490.90,98.09L489.54,98.73L488.18,99.36L486.82,99.99L485.46,100.62L484.10,101.26L482.74,101.89L481.38,102.52L480.01,103.15L478.65,103.79L477.29,104.42L475.93,105.05L474.57,105.68L473.21,106.32L471.85,106.95L470.49,107.58L469.13,108.22L467.77,108.85L466.41,109.48L465.05,110.11L463.69,110.75L462.33,111.38L460.97,112.01L459.61,112.64L458.25,113.28L456.89,113.91L455.52,114.54L454.16,115.17L452.80,115.81L451.44,116.44L450.08,117.07L448.72,117.70L447.36,118.34L446.00,118.97L444.64,119.60L443.28,120.24L441.92,120.87L440.56,121.50L439.20,122.13L437.84,122.77L436.48,123.40L435.12,124.03L433.76,124.66L432.40,125.30L431.03,125.93L429.67,126.56L428.31,127.20L426.95,127.83L425.59,128.46L424.23,129.10L422.87,129.74L421.51,130.37L420.15,131.01L418.78,131.65L417.42,132.29L416.07,132.94L414.71,133.58L413.35,134.23L411.99,134.87L410.64,135.52L409.28,136.16L407.93,136.81L406.57,137.46L405.22,138.10L403.87,138.75L402.51,139.40L401.16,140.05L399.80,140.69L398.45,141.34L397.10,141.99L395.74,142.63L394.39,143.28L393.03,143.93L391.68,144.58L390.32,145.22L388.97,145.87L387.61,146.53L386.26,147.18L384.90,147.84L383.54,148.50L382.19,149.17L380.83,149.84L379.48,150.51L378.13,151.19L376.79,151.88L375.44,152.56L374.10,153.25L372.77,153.94L371.43,154.64L370.10,155.33L368.76,156.02L367.43,156.72L366.10,157.41L364.77,158.11L363.43,158.81L362.10,159.51L360.76,160.22L359.43,160.94L358.09,161.66L356.76,162.39L355.43,163.14L354.11,163.90L352.79,164.67L351.48,165.44L350.17,166.23L348.88,167.02L347.59,167.82L346.31,168.62L345.03,169.42L343.76,170.22L342.49,171.02L341.22,171.83L339.95,172.63L338.68,173.43L337.41,174.24L336.14,175.04L334.88,175.84L333.61,176.65L332.34,177.46L331.07,178.27L329.79,179.09L328.52,179.92L327.25,180.75L325.98,181.60L324.72,182.46L323.46,183.33L322.22,184.22L320.98,185.12L319.75,186.02L318.53,186.94L317.32,187.85L316.12,188.78L314.92,189.71L313.73,190.64L312.54,191.57L311.36,192.51L310.18,193.46L309.00,194.41L307.82,195.38L306.65,196.35L305.48,197.32L304.33,198.31L303.17,199.29L302.03,200.29L300.89,201.29L299.75,202.30L298.62,203.32L297.49,204.36L296.37,205.40L295.26,206.47L294.16,207.55L293.07,208.66L292.00,209.78L290.94,210.94L289.91,212.11L288.90,213.32L287.93,214.54L286.98,215.79L286.06,217.06L285.17,218.35L284.31,219.65L283.47,220.97L282.67,222.30L281.89,223.65L281.13,225.00L280.40,226.37L279.70,227.75L279.01,229.13L278.35,230.52L277.70,231.91L277.08,233.31L276.46,234.71L275.86,236.11L275.26,237.51L274.68,238.93L274.11,240.35L273.56,241.77L273.02,243.20L272.49,244.63L271.97,246.07L271.47,247.52L270.97,248.96L270.50,250.42L270.03,251.88L269.58,253.34L269.15,254.81L268.73,256.28L268.32,257.76L267.93,259.23L267.55,260.72L267.18,262.20L266.83,263.69L266.49,265.18L266.17,266.68L265.86,268.18L265.57,269.69L265.30,271.20L265.04,272.71L264.80,274.22L264.57,275.73L264.35,277.23L264.14,278.73L263.94,280.22L263.74,281.72L263.54,283.21L263.35,284.70L263.15,286.20L262.96,287.69L262.78,289.19L262.60,290.70L262.42,292.20L262.26,293.71L262.10,295.22L261.95,296.73L261.81,298.25L261.68,299.76L261.55,301.27L261.43,302.77L261.32,304.28L261.21,305.78L261.10,307.28L261.00,308.78L260.90,310.28L260.79,311.78L260.69,313.28L260.59,314.79L260.50,316.29L260.41,317.80L260.32,319.31L260.24,320.82L260.16,322.33L260.09,323.84L260.03,325.35L259.97,326.86L259.91,328.36L259.86,329.87L259.81,331.37L259.76,332.88L259.71,334.38L259.66,335.88L259.62,337.38L259.57,338.88L259.53,340.38L259.49,341.89L259.44,343.39L259.40,344.89L259.37,346.40L259.33,347.90L259.30,349.41L259.27,350.91L259.24,352.42L259.21,353.92L259.18,355.42L259.16,356.93L259.13,358.43L259.11,359.93L259.08,361.43L259.06,362.93L259.04,364.43L259.01,365.93L258.99,367.43L258.97,368.93L258.94,370.43L258.92,371.93L258.90,373.43L258.87,374.93L258.85,376.43L258.82,377.92L258.79,379.42L258.76,380.91L258.73,382.41L258.69,383.90L258.65,385.39L258.61,386.88L258.56,388.37L258.51,389.87L258.45,391.36L258.39,392.85L258.34,394.35L258.27,395.85L258.21,397.34L258.15,398.84L258.09,400.34L258.03,401.84L257.97,403.34L257.91,404.84L257.84,406.34L257.78,407.84L257.72,409.34L257.66,410.84L257.60,412.34L257.54,413.84L257.48,415.34L257.42,416.83L257.36,418.33L257.30,419.83L257.23,421.32L257.16,422.81L257.09,424.29L257.01,425.78L256.93,427.26L256.83,428.73L256.73,430.21L256.62,431.68L256.49,433.15L256.35,434.61L256.21,436.07L256.04,437.53L255.87,438.97L255.67,440.41L255.45,441.84L255.22,443.26L254.95,444.67L254.66,446.08L254.35,447.48L254.01,448.88L253.65,450.28L253.27,451.67L252.86,453.05L252.44,454.42L251.98,455.78L251.51,457.13L251.01,458.47L250.48,459.79L249.92,461.12L249.34,462.44L248.73,463.75L248.11,465.08L247.47,466.40L246.81,467.72L246.15,469.05L245.47,470.37L244.80,471.69L244.11,473.01L243.42,474.32L242.72,475.63L242.02,476.94L241.31,478.24L240.60,479.53L239.88,480.81L239.16,482.07L238.42,483.31L237.67,484.52L236.90,485.70L236.10,486.86L235.28,487.99L234.43,489.09L233.55,490.18L232.63,491.25L231.68,492.30L230.70,493.35L229.69,494.38L228.67,495.41L227.62,496.43L226.56,497.44L225.49,498.44L224.41,499.44L223.31,500.43L222.20,501.42L221.09,502.41L219.98,503.40L218.85,504.39L217.73,505.38L216.61,506.37L215.48,507.36L214.35,508.35L213.23,509.33L212.10,510.32L210.97,511.30L209.85,512.28L208.72,513.25L207.59,514.22L206.46,515.18L205.32,516.14L204.18,517.09L203.03,518.03L201.88,518.98L200.72,519.92L199.57,520.86L198.40,521.80L197.24,522.74L196.07,523.68L194.90,524.62L193.73,525.56L192.56,526.49L191.39,527.43L190.22,528.37L189.05,529.31L187.88,530.26L186.71,531.20L185.54,532.15L184.36,533.10L183.19,534.05L182.02,535.01L180.86,535.98L179.69,536.95L178.53,537.94L177.38,538.93L176.23,539.93L175.09,540.94L173.95,541.96L172.83,542.99L171.71,544.03L170.59,545.09L169.49,546.16L168.40,547.24L167.32,548.34L166.25,549.46L165.20,550.59L164.17,551.74L163.15,552.92L162.15,554.11L161.17,555.32L160.21,556.56L159.28,557.82L158.38,559.11L157.51,560.42L156.67,561.75L155.86,563.11L155.09,564.50L154.36,565.91L153.68,567.35L153.04,568.82L152.46,570.31L151.93,571.82L151.45,573.35L151.03,574.90L150.67,576.46L150.37,578.02L150.11,579.59L149.90,581.15L149.73,582.71L149.60,584.26L149.49,585.80L149.40,587.34L149.33,588.87L149.28,590.39L149.23,591.91L149.19,593.42L149.16,594.93L149.13,596.43L149.10,597.94Z" fill="#3080d2" stroke="none"/>
<path d="M155.80,598.07L155.83,596.57L155.86,595.07L155.90,593.58L155.94,592.10L155.98,590.62L156.04,589.16L156.12,587.70L156.21,586.26L156.33,584.83L156.47,583.43L156.65,582.04L156.87,580.67L157.13,579.32L157.43,577.99L157.78,576.68L158.18,575.38L158.63,574.10L159.13,572.82L159.67,571.56L160.25,570.32L160.88,569.09L161.55,567.87L162.26,566.68L163.00,565.50L163.78,564.33L164.59,563.18L165.44,562.05L166.31,560.94L167.21,559.84L168.14,558.76L169.09,557.70L170.06,556.66L171.06,555.63L172.07,554.63L173.11,553.65L174.16,552.69L175.24,551.75L176.33,550.83L177.45,549.93L178.58,549.04L179.74,548.16L180.92,547.29L182.11,546.43L183.31,545.57L184.53,544.71L185.75,543.86L186.98,543.00L188.20,542.15L189.43,541.29L190.66,540.44L191.90,539.59L193.13,538.74L194.36,537.89L195.59,537.04L196.82,536.20L198.05,535.37L199.29,534.54L200.52,533.72L201.76,532.91L203.01,532.10L204.26,531.29L205.51,530.49L206.77,529.69L208.03,528.90L209.30,528.10L210.57,527.31L211.84,526.51L213.11,525.72L214.38,524.92L215.65,524.13L216.93,523.34L218.20,522.54L219.47,521.75L220.75,520.96L222.02,520.17L223.29,519.38L224.56,518.59L225.83,517.80L227.11,517.02L228.38,516.24L229.65,515.47L230.92,514.71L232.20,513.94L233.48,513.19L234.77,512.44L236.06,511.69L237.35,510.94L238.64,510.20L239.94,509.46L241.24,508.72L242.55,507.97L243.85,507.23L245.15,506.49L246.46,505.75L247.76,505.01L249.07,504.27L250.37,503.53L251.68,502.78L252.98,502.04L254.29,501.30L255.59,500.56L256.89,499.82L258.20,499.07L259.50,498.33L260.81,497.59L262.11,496.85L263.41,496.10L264.72,495.36L266.02,494.62L267.33,493.88L268.63,493.14L269.93,492.40L271.24,491.66L272.54,490.91L273.85,490.17L275.15,489.43L276.46,488.69L277.76,487.95L279.07,487.21L280.37,486.47L281.68,485.73L282.98,484.99L284.29,484.25L285.59,483.51L286.90,482.77L288.20,482.03L289.51,481.28L290.81,480.54L292.12,479.80L293.42,479.06L294.73,478.32L296.03,477.58L297.34,476.84L298.64,476.10L299.95,475.36L301.25,474.62L302.56,473.88L303.86,473.14L305.17,472.40L306.47,471.66L307.78,470.92L309.08,470.17L310.39,469.43L311.69,468.69L313.00,467.95L314.30,467.21L315.61,466.47L316.91,465.73L318.22,464.98L319.52,464.24L320.83,463.49L322.13,462.74L323.44,461.99L324.75,461.23L326.06,460.46L327.37,459.69L328.67,458.90L329.97,458.10L331.27,457.29L332.55,456.47L333.83,455.64L335.11,454.80L336.37,453.95L337.63,453.09L338.88,452.22L340.13,451.34L341.37,450.45L342.61,449.54L343.84,448.62L345.06,447.68L346.27,446.71L347.46,445.73L348.64,444.74L349.81,443.72L350.96,442.69L352.09,441.64L353.21,440.57L354.32,439.48L355.40,438.37L356.47,437.25L357.52,436.11L358.54,434.95L359.55,433.79L360.54,432.62L361.52,431.45L362.48,430.27L363.43,429.09L364.38,427.90L365.32,426.71L366.26,425.50L367.19,424.29L368.11,423.05L369.01,421.79L369.90,420.51L370.76,419.20L371.59,417.88L372.39,416.53L373.16,415.18L373.90,413.81L374.62,412.44L375.31,411.06L375.98,409.68L376.64,408.30L377.28,406.90L377.90,405.49L378.51,404.07L379.09,402.62L379.65,401.16L380.17,399.68L380.65,398.18L381.10,396.68L381.51,395.18L381.89,393.67L382.24,392.16L382.57,390.66L382.88,389.16L383.18,387.66L383.46,386.15L383.72,384.64L383.97,383.13L384.20,381.60L384.42,380.08L384.61,378.55L384.78,377.03L384.94,375.51L385.08,373.99L385.21,372.47L385.33,370.96L385.45,369.46L385.56,367.95L385.67,366.45L385.78,364.95L385.89,363.46L385.99,361.96L386.10,360.46L386.20,358.96L386.31,357.46L386.41,355.96L386.51,354.45L386.60,352.94L386.69,351.44L386.78,349.92L386.86,348.41L386.93,346.90L386.99,345.38L387.05,343.87L387.10,342.36L387.14,340.85L387.18,339.34L387.22,337.84L387.26,336.34L387.30,334.83L387.33,333.33L387.37,331.83L387.40,330.33L387.44,328.83L387.48,327.33L387.51,325.84L387.55,324.34L387.59,322.84L387.63,321.34L387.67,319.85L387.72,318.35L387.76,316.85L387.80,315.35L387.85,313.85L387.89,312.35L387.94,310.86L387.99,309.36L388.03,307.86L388.08,306.36L388.13,304.86L388.17,303.36L388.22,301.86L388.27,300.36L388.31,298.86L388.36,297.36L388.41,295.87L388.46,294.37L388.51,292.87L388.56,291.37L388.61,289.87L388.66,288.37L388.72,286.87L388.77,285.37L388.82,283.88L388.87,282.38L388.93,280.88L388.98,279.39L389.04,277.90L389.11,276.41L389.17,274.92L389.25,273.44L389.33,271.96L389.42,270.48L389.51,269.00L389.62,267.52L389.73,266.04L389.85,264.56L389.98,263.08L390.11,261.59L390.25,260.10L390.38,258.61L390.52,257.12L390.66,255.63L390.80,254.14L390.94,252.65L391.09,251.16L391.23,249.68L391.38,248.20L391.54,246.72L391.70,245.24L391.87,243.77L392.05,242.30L392.24,240.83L392.43,239.36L392.63,237.89L392.84,236.42L393.06,234.94L393.27,233.47L393.50,232.00L393.73,230.53L393.96,229.06L394.20,227.60L394.45,226.15L394.71,224.71L394.99,223.28L395.28,221.86L395.60,220.45L395.93,219.04L396.29,217.63L396.66,216.22L397.05,214.81L397.46,213.39L397.88,211.98L398.31,210.56L398.74,209.15L399.19,207.75L399.64,206.36L400.11,204.98L400.59,203.63L401.09,202.31L401.62,201.01L402.18,199.74L402.77,198.48L403.41,197.25L404.08,196.02L404.79,194.81L405.53,193.59L406.30,192.39L407.10,191.18L407.92,189.97L408.76,188.77L409.61,187.58L410.48,186.39L411.35,185.21L412.24,184.03L413.13,182.87L414.03,181.71L414.94,180.57L415.86,179.45L416.79,178.34L417.74,177.26L418.70,176.19L419.68,175.15L420.68,174.12L421.71,173.10L422.75,172.09L423.81,171.09L424.89,170.10L425.98,169.12L427.08,168.14L428.18,167.18L429.30,166.23L430.42,165.30L431.55,164.37L432.69,163.47L433.84,162.57L435.01,161.69L436.19,160.82L437.38,159.96L438.58,159.10L439.79,158.25L441.00,157.41L442.22,156.57L443.45,155.74L444.68,154.92L445.91,154.11L447.15,153.31L448.40,152.51L449.66,151.72L450.92,150.93L452.18,150.15L453.45,149.37L454.73,148.59L456.00,147.81L457.28,147.03L458.56,146.26L459.84,145.49L461.11,144.72L462.39,143.97L463.67,143.21L464.95,142.47L466.24,141.73L467.53,141.00L468.82,140.28L470.12,139.56L471.43,138.85L472.74,138.14L474.05,137.44L475.37,136.73L476.69,136.03L478.01,135.34L479.33,134.64L480.65,133.95L481.97,133.27L483.30,132.59L484.63,131.91L485.96,131.23L487.29,130.56L488.63,129.88L489.97,129.21L491.30,128.54L492.64,127.87L493.98,127.21L495.32,126.54L496.66,125.88L498.00,125.23L499.34,124.58L500.68,123.93L502.02,123.29L503.37,122.65L504.72,122.02L506.07,121.39L507.43,120.76L508.78,120.14L510.14,119.52L511.51,118.89L512.87,118.27L514.23,117.65L515.60,117.03L516.96,116.41L518.33,115.79L519.70,115.16L521.06,114.54L522.43,113.92L523.79,113.30L525.16,112.68L526.52,112.06L527.89,111.44L529.26,110.81L530.62,110.19L531.99,109.57L533.35,108.95L534.72,108.33L536.08,107.71L537.45,107.09L538.81,106.47L540.18,105.85L541.55,105.24L542.91,104.62L544.28,104.01L545.64,103.39L547.01,102.78L548.38,102.16L549.75,101.55L551.12,100.93L552.49,100.32L553.85,99.70L555.22,99.09L556.59,98.48L557.96,97.86L559.33,97.25L560.70,96.64L562.07,96.02L563.44,95.41L564.81,94.79L566.18,94.18L567.55,93.57L568.92,92.95L570.29,92.34L571.65,91.72L573.02,91.11L574.39,90.50L575.76,89.88L577.13,89.27L578.50,88.66L579.87,88.04L581.24,87.43L582.61,86.81L583.98,86.20L585.35,85.59L586.72,84.97L588.08,84.36L589.45,83.74L590.82,83.13L592.19,82.52L593.56,81.90L594.93,81.29L596.30,80.68L597.67,80.06L599.04,79.45L600.41,78.83L601.78,78.22L603.15,77.61L604.51,76.99L605.88,76.38L607.25,75.77L608.62,75.15L609.99,74.54L611.36,73.93L612.73,73.32L614.10,72.70L615.47,72.09L616.84,71.48L618.21,70.86L619.58,70.25L620.95,69.64L622.32,69.02L623.69,68.41L625.06,67.80L626.43,67.18L627.80,66.57L629.16,65.96L630.53,65.34L631.90,64.73L633.27,64.12L634.64,63.50L636.01,62.89L637.38,62.28L638.75,61.66L640.12,61.05L641.49,60.44L642.86,59.82L644.23,59.21L645.60,58.60L646.97,57.98L648.34,57.37L649.71,56.76L651.08,56.14L652.45,55.53L653.82,54.92L655.18,54.31L656.55,53.69L657.92,53.08L659.29,52.47L660.66,51.85L662.03,51.24L663.40,50.63L664.77,50.01L666.14,49.40L667.51,48.79L668.88,48.17L670.25,47.56L671.62,46.95L672.99,46.33L674.36,45.72L675.73,45.11L677.10,44.49L678.47,43.88L679.83,43.27L681.20,42.66L682.57,42.04L683.94,41.43L685.31,40.82L686.68,40.22L688.04,39.61L689.41,39.01L690.78,38.41L692.15,37.81L693.52,37.22L694.89,36.62L696.27,36.03L697.64,35.44L699.02,34.85L700.40,34.26L701.78,33.68L703.16,33.09L704.54,32.50L705.92,31.91L707.30,31.33L708.68,30.74L710.06,30.15L711.44,29.56L712.82,28.97L714.20,28.39L715.58,27.80L716.96,27.21L718.34,26.62L719.72,26.04L721.10,25.45L722.49,24.86L723.87,24.27L725.25,23.69L726.63,23.10L728.01,22.51L729.39,21.92L730.77,21.34L732.15,20.75L733.53,20.16L734.91,19.57L736.29,18.99L733.71,12.91L732.33,13.50L730.95,14.09L729.57,14.68L728.19,15.26L726.80,15.85L725.42,16.44L724.04,17.03L722.66,17.61L721.28,18.20L719.90,18.79L718.52,19.38L717.14,19.96L715.76,20.55L714.38,21.14L713.00,21.73L711.62,22.31L710.24,22.90L708.86,23.49L707.47,24.08L706.09,24.66L704.71,25.25L703.33,25.84L701.95,26.43L700.57,27.02L699.19,27.60L697.81,28.19L696.43,28.78L695.04,29.37L693.66,29.97L692.28,30.56L690.90,31.16L689.52,31.76L688.14,32.36L686.76,32.97L685.38,33.57L684.00,34.18L682.63,34.79L681.25,35.41L679.88,36.02L678.51,36.63L677.14,37.24L675.77,37.86L674.40,38.47L673.03,39.08L671.66,39.70L670.29,40.31L668.92,40.92L667.55,41.54L666.18,42.15L664.81,42.76L663.44,43.38L662.07,43.99L660.70,44.60L659.33,45.22L657.97,45.83L656.60,46.44L655.23,47.06L653.86,47.67L652.49,48.28L651.12,48.89L649.75,49.51L648.38,50.12L647.01,50.73L645.64,51.35L644.27,51.96L642.90,52.57L641.53,53.19L640.16,53.80L638.79,54.41L637.42,55.03L636.05,55.64L634.68,56.25L633.31,56.87L631.95,57.48L630.58,58.09L629.21,58.71L627.84,59.32L626.47,59.93L625.10,60.55L623.73,61.16L622.36,61.77L620.99,62.39L619.62,63.00L618.25,63.61L616.88,64.23L615.51,64.84L614.14,65.45L612.77,66.07L611.40,66.68L610.03,67.29L608.66,67.90L607.29,68.52L605.93,69.13L604.56,69.74L603.19,70.36L601.82,70.97L600.45,71.58L599.08,72.20L597.71,72.81L596.34,73.43L594.97,74.04L593.60,74.65L592.23,75.27L590.86,75.88L589.49,76.49L588.12,77.11L586.75,77.72L585.38,78.34L584.02,78.95L582.65,79.56L581.28,80.18L579.91,80.79L578.54,81.41L577.17,82.02L575.80,82.63L574.43,83.25L573.06,83.86L571.69,84.47L570.32,85.09L568.95,85.70L567.58,86.32L566.22,86.93L564.85,87.54L563.48,88.16L562.11,88.77L560.74,89.39L559.37,90.00L558.00,90.61L556.63,91.23L555.26,91.84L553.89,92.45L552.52,93.07L551.15,93.68L549.79,94.30L548.42,94.91L547.05,95.53L545.68,96.14L544.31,96.76L542.94,97.37L541.57,97.99L540.20,98.60L538.83,99.22L537.46,99.84L536.09,100.46L534.72,101.08L533.36,101.70L531.99,102.32L530.62,102.94L529.26,103.56L527.89,104.19L526.52,104.81L525.16,105.43L523.79,106.05L522.43,106.67L521.06,107.29L519.69,107.91L518.33,108.54L516.96,109.16L515.60,109.78L514.23,110.40L512.86,111.02L511.50,111.64L510.13,112.27L508.77,112.89L507.40,113.51L506.03,114.14L504.66,114.77L503.29,115.40L501.92,116.04L500.56,116.68L499.19,117.33L497.83,117.98L496.46,118.64L495.11,119.30L493.75,119.96L492.40,120.63L491.05,121.30L489.70,121.97L488.35,122.64L487.01,123.31L485.66,123.99L484.32,124.66L482.98,125.34L481.63,126.03L480.29,126.71L478.95,127.40L477.61,128.10L476.27,128.80L474.93,129.50L473.60,130.20L472.27,130.91L470.93,131.62L469.61,132.33L468.28,133.05L466.95,133.78L465.62,134.51L464.30,135.25L462.98,136.00L461.66,136.75L460.35,137.51L459.04,138.28L457.74,139.05L456.44,139.83L455.15,140.61L453.86,141.39L452.57,142.17L451.28,142.96L450.00,143.74L448.72,144.53L447.43,145.33L446.15,146.13L444.87,146.94L443.59,147.76L442.31,148.58L441.04,149.42L439.77,150.26L438.51,151.11L437.25,151.97L436.01,152.84L434.76,153.71L433.52,154.60L432.28,155.50L431.05,156.41L429.83,157.33L428.62,158.28L427.41,159.23L426.22,160.20L425.04,161.19L423.88,162.18L422.72,163.18L421.58,164.20L420.44,165.22L419.31,166.26L418.20,167.31L417.09,168.39L415.99,169.48L414.91,170.59L413.84,171.72L412.80,172.88L411.78,174.05L410.79,175.23L409.81,176.42L408.85,177.62L407.91,178.83L406.98,180.04L406.06,181.26L405.15,182.49L404.25,183.72L403.37,184.97L402.49,186.23L401.62,187.50L400.77,188.78L399.94,190.09L399.12,191.42L398.33,192.78L397.57,194.16L396.85,195.56L396.17,196.99L395.54,198.44L394.95,199.89L394.39,201.35L393.87,202.81L393.38,204.27L392.90,205.73L392.44,207.18L391.99,208.63L391.55,210.09L391.12,211.55L390.70,213.01L390.29,214.49L389.90,215.97L389.52,217.47L389.16,218.97L388.83,220.48L388.52,221.99L388.22,223.50L387.95,225.00L387.69,226.51L387.44,228.01L387.21,229.50L386.97,231.00L386.75,232.49L386.53,233.98L386.31,235.48L386.10,236.98L385.89,238.48L385.69,239.98L385.50,241.49L385.32,243.00L385.14,244.50L384.98,246.01L384.82,247.52L384.67,249.02L384.52,250.52L384.37,252.02L384.23,253.52L384.09,255.01L383.95,256.51L383.81,258.01L383.67,259.51L383.54,261.01L383.41,262.51L383.28,264.01L383.15,265.52L383.04,267.03L382.93,268.55L382.83,270.06L382.74,271.58L382.65,273.10L382.58,274.61L382.51,276.12L382.45,277.63L382.39,279.14L382.33,280.64L382.28,282.14L382.23,283.64L382.17,285.14L382.12,286.65L382.07,288.15L382.02,289.65L381.97,291.15L381.92,292.65L381.87,294.15L381.82,295.65L381.77,297.15L381.72,298.65L381.67,300.15L381.62,301.65L381.58,303.15L381.53,304.65L381.48,306.15L381.44,307.65L381.39,309.15L381.34,310.65L381.30,312.15L381.25,313.65L381.21,315.16L381.16,316.66L381.12,318.16L381.08,319.66L381.03,321.16L380.99,322.67L380.95,324.17L380.92,325.67L380.88,327.17L380.84,328.67L380.81,330.17L380.77,331.68L380.74,333.18L380.70,334.67L380.66,336.17L380.63,337.67L380.59,339.16L380.55,340.66L380.50,342.15L380.45,343.64L380.39,345.12L380.33,346.60L380.26,348.09L380.19,349.57L380.10,351.05L380.02,352.54L379.92,354.03L379.82,355.52L379.72,357.01L379.62,358.50L379.51,360.00L379.41,361.49L379.30,362.99L379.20,364.48L379.09,365.98L378.98,367.47L378.87,368.96L378.75,370.44L378.63,371.92L378.51,373.39L378.37,374.86L378.22,376.32L378.05,377.77L377.87,379.21L377.67,380.66L377.45,382.10L377.22,383.54L376.96,384.98L376.70,386.42L376.41,387.85L376.12,389.28L375.81,390.70L375.48,392.11L375.13,393.50L374.75,394.87L374.35,396.22L373.92,397.56L373.45,398.89L372.95,400.22L372.41,401.54L371.85,402.86L371.26,404.19L370.66,405.51L370.03,406.83L369.39,408.14L368.74,409.44L368.07,410.72L367.39,411.98L366.69,413.21L365.96,414.43L365.21,415.63L364.43,416.81L363.62,417.99L362.78,419.15L361.91,420.32L361.03,421.48L360.13,422.64L359.21,423.80L358.29,424.95L357.36,426.11L356.42,427.25L355.48,428.38L354.54,429.50L353.58,430.60L352.62,431.68L351.65,432.74L350.65,433.79L349.64,434.82L348.62,435.83L347.57,436.83L346.51,437.81L345.44,438.78L344.34,439.73L343.24,440.66L342.12,441.58L340.99,442.48L339.84,443.37L338.67,444.24L337.49,445.11L336.30,445.96L335.10,446.81L333.89,447.65L332.67,448.48L331.44,449.31L330.21,450.12L328.98,450.92L327.74,451.71L326.49,452.49L325.24,453.26L323.98,454.03L322.71,454.78L321.43,455.53L320.14,456.28L318.85,457.02L317.55,457.76L316.25,458.51L314.95,459.25L313.65,459.99L312.34,460.73L311.04,461.47L309.73,462.21L308.43,462.95L307.13,463.69L305.82,464.44L304.52,465.18L303.21,465.92L301.91,466.66L300.60,467.40L299.30,468.14L297.99,468.88L296.69,469.62L295.38,470.36L294.08,471.10L292.77,471.84L291.47,472.58L290.16,473.32L288.86,474.06L287.55,474.80L286.25,475.54L284.94,476.28L283.64,477.03L282.33,477.77L281.03,478.51L279.72,479.25L278.42,479.99L277.11,480.73L275.81,481.47L274.50,482.21L273.20,482.95L271.89,483.69L270.59,484.43L269.28,485.18L267.98,485.92L266.67,486.66L265.37,487.40L264.06,488.14L262.76,488.88L261.46,489.63L260.15,490.37L258.85,491.11L257.54,491.85L256.24,492.59L254.93,493.34L253.63,494.08L252.33,494.82L251.02,495.56L249.72,496.30L248.41,497.05L247.11,497.79L245.81,498.53L244.50,499.27L243.20,500.01L241.89,500.75L240.59,501.50L239.28,502.24L237.98,502.98L236.67,503.73L235.36,504.47L234.06,505.22L232.75,505.98L231.44,506.73L230.14,507.50L228.84,508.27L227.54,509.04L226.24,509.82L224.95,510.61L223.66,511.39L222.37,512.18L221.09,512.98L219.81,513.77L218.53,514.56L217.26,515.36L215.98,516.15L214.71,516.94L213.44,517.74L212.16,518.53L210.89,519.32L209.62,520.12L208.34,520.91L207.07,521.71L205.79,522.51L204.52,523.31L203.24,524.11L201.97,524.92L200.69,525.74L199.42,526.56L198.15,527.38L196.88,528.21L195.62,529.05L194.36,529.90L193.11,530.75L191.86,531.60L190.62,532.45L189.38,533.30L188.14,534.16L186.90,535.01L185.67,535.87L184.44,536.73L183.20,537.59L181.97,538.45L180.73,539.32L179.50,540.19L178.26,541.07L177.02,541.96L175.79,542.88L174.56,543.81L173.34,544.76L172.13,545.73L170.94,546.74L169.77,547.76L168.61,548.82L167.48,549.89L166.37,550.99L165.28,552.11L164.22,553.25L163.18,554.41L162.16,555.60L161.16,556.81L160.19,558.04L159.25,559.30L158.34,560.59L157.47,561.90L156.62,563.24L155.82,564.60L155.05,566.00L154.33,567.41L153.65,568.85L153.02,570.32L152.44,571.81L151.91,573.32L151.44,574.86L151.02,576.41L150.67,577.97L150.37,579.53L150.12,581.10L149.92,582.67L149.76,584.22L149.63,585.78L149.53,587.32L149.45,588.85L149.39,590.38L149.34,591.90L149.30,593.42L149.26,594.93L149.23,596.43L149.20,597.93Z" fill="#90bdeb" stroke="none"/>
</g>
<g clip-path="url(#ci)" fill="none" stroke-width="6.2" stroke-linejoin="round">
<path d="M492.00,524.04L492.01,523.04L492.03,522.04L492.04,521.04L492.05,520.04L492.07,519.04L492.08,518.04L492.10,517.03L492.11,516.03L492.12,515.03L492.14,514.03L492.15,513.03L492.16,512.03L492.18,511.03L492.19,510.03L492.20,509.03L492.22,508.02L492.22,507.95L486.02,507.86L486.02,507.94L486.01,508.94L485.99,509.94L485.98,510.94L485.96,511.94L485.95,512.95L485.94,513.95L485.92,514.95L485.91,515.95L485.90,516.95L485.88,517.95L485.87,518.95L485.85,519.95L485.84,520.95L485.83,521.96L485.81,522.96L485.80,523.96Z M492.31,501.45L492.31,501.02L492.33,500.02L492.34,499.01L492.35,498.01L492.37,497.01L492.38,496.01L492.40,495.01L492.41,494.01L492.42,493.01L492.44,492.01L492.45,491.01L492.46,490.00L492.48,489.00L492.49,488.00L492.51,487.00L492.52,486.00L492.53,485.00L492.55,484.00L492.56,483.06L486.36,482.97L486.35,483.91L486.33,484.91L486.32,485.91L486.31,486.92L486.29,487.92L486.28,488.92L486.26,489.92L486.25,490.92L486.24,491.92L486.22,492.92L486.21,493.92L486.20,494.93L486.18,495.93L486.17,496.93L486.16,497.93L486.14,498.93L486.13,499.93L486.11,500.93L486.11,501.37Z M492.67,476.57L492.68,476.01L492.70,475.01L492.72,474.01L492.74,473.01L492.76,472.00L492.78,471.00L492.80,470.00L492.82,469.00L492.84,468.00L492.86,467.00L492.88,466.00L492.90,465.00L492.92,464.00L492.94,463.00L492.96,461.99L492.98,460.99L493.00,459.99L493.02,458.99L493.04,458.19L486.84,458.06L486.82,458.87L486.80,459.87L486.78,460.87L486.76,461.87L486.74,462.87L486.72,463.87L486.70,464.87L486.68,465.88L486.66,466.88L486.64,467.88L486.62,468.88L486.60,469.88L486.58,470.88L486.56,471.88L486.54,472.88L486.52,473.88L486.50,474.89L486.48,475.89L486.47,476.46Z M493.16,451.68L493.17,450.98L493.19,449.97L493.21,448.97L493.22,447.97L493.24,446.96L493.25,445.96L493.27,444.96L493.28,443.96L493.30,442.96L493.31,441.96L493.32,440.95L493.34,439.95L493.35,438.95L493.37,437.95L493.38,436.95L493.39,435.95L493.41,434.95L493.42,433.95L493.43,433.28L487.23,433.19L487.22,433.86L487.21,434.86L487.19,435.86L487.18,436.86L487.17,437.87L487.15,438.87L487.14,439.87L487.13,440.87L487.11,441.87L487.10,442.87L487.08,443.87L487.07,444.87L487.05,445.87L487.04,446.87L487.02,447.87L487.01,448.87L486.99,449.87L486.97,450.87L486.96,451.57Z M493.52,426.78L493.53,425.94L493.54,424.94L493.56,423.94L493.57,422.93L493.59,421.93L493.60,420.93L493.62,419.94L493.63,418.94L493.65,417.94L493.67,416.95L493.69,415.96L493.71,414.96L493.74,413.97L493.77,412.98L493.81,411.99L493.84,411.00L493.88,410.01L493.92,409.01L493.95,408.48L487.75,408.21L487.73,408.75L487.69,409.76L487.65,410.76L487.61,411.77L487.58,412.78L487.54,413.79L487.52,414.80L487.49,415.81L487.47,416.82L487.45,417.83L487.43,418.83L487.42,419.84L487.40,420.84L487.39,421.85L487.37,422.85L487.36,423.85L487.35,424.85L487.33,425.85L487.32,426.69Z M494.24,402.00L494.29,401.02L494.33,400.02L494.38,399.02L494.43,398.02L494.47,397.02L494.52,396.02L494.56,395.02L494.61,394.02L494.66,393.02L494.71,392.02L494.75,391.03L494.80,390.03L494.85,389.03L494.90,388.03L494.95,387.04L495.00,386.04L495.05,385.04L495.11,384.04L495.13,383.64L488.93,383.31L488.91,383.72L488.86,384.72L488.81,385.72L488.76,386.72L488.71,387.72L488.66,388.73L488.61,389.73L488.56,390.73L488.51,391.73L488.46,392.73L488.42,393.73L488.37,394.73L488.32,395.73L488.28,396.73L488.23,397.74L488.19,398.74L488.14,399.74L488.09,400.74L488.05,401.71Z M495.47,377.16L495.48,377.05L495.53,376.05L495.59,375.05L495.64,374.05L495.70,373.05L495.75,372.05L495.81,371.05L495.86,370.05L495.91,369.05L495.97,368.06L496.03,367.06L496.09,366.07L496.15,365.08L496.21,364.09L496.28,363.11L496.35,362.12L496.43,361.14L496.51,360.15L496.60,359.16L496.62,358.91L490.45,358.35L490.42,358.63L490.33,359.63L490.25,360.64L490.17,361.65L490.10,362.67L490.03,363.68L489.96,364.69L489.90,365.70L489.84,366.70L489.78,367.71L489.72,368.71L489.67,369.71L489.61,370.71L489.56,371.71L489.51,372.71L489.45,373.71L489.40,374.71L489.34,375.71L489.29,376.71L489.28,376.82Z M497.24,352.47L497.26,352.23L497.36,351.24L497.46,350.26L497.57,349.28L497.68,348.31L497.80,347.34L497.93,346.37L498.06,345.41L498.21,344.46L498.36,343.50L498.53,342.54L498.70,341.58L498.88,340.61L499.07,339.65L499.26,338.67L499.45,337.70L499.65,336.73L499.85,335.75L500.05,334.78L500.08,334.65L494.01,333.37L493.98,333.52L493.78,334.50L493.57,335.49L493.37,336.48L493.18,337.47L492.98,338.46L492.79,339.46L492.60,340.46L492.42,341.47L492.25,342.48L492.08,343.50L491.93,344.52L491.79,345.54L491.65,346.56L491.53,347.57L491.41,348.59L491.30,349.60L491.19,350.60L491.09,351.61L491.07,351.85Z M501.54,328.52L501.62,328.22L501.90,327.30L502.18,326.39L502.48,325.48L502.80,324.57L503.12,323.65L503.45,322.72L503.80,321.80L504.14,320.87L504.49,319.93L504.84,319.00L505.19,318.06L505.54,317.12L505.90,316.19L506.25,315.25L506.60,314.31L506.95,313.38L507.30,312.46L507.65,311.53L507.66,311.51L501.89,309.25L501.87,309.30L501.51,310.25L501.15,311.19L500.79,312.13L500.44,313.07L500.09,314.01L499.74,314.95L499.39,315.88L499.03,316.82L498.68,317.76L498.33,318.70L497.98,319.65L497.63,320.60L497.28,321.56L496.94,322.53L496.61,323.50L496.28,324.49L495.97,325.49L495.67,326.48L495.57,326.85Z M510.16,305.95L510.34,305.63L510.80,304.84L511.28,304.06L511.79,303.29L512.32,302.51L512.87,301.73L513.44,300.95L514.02,300.16L514.61,299.38L515.20,298.59L515.79,297.82L516.39,297.05L516.99,296.30L517.59,295.56L518.19,294.85L518.80,294.16L519.42,293.50L520.06,292.85L520.74,292.20L520.72,292.22L516.55,287.63L516.45,287.72L515.70,288.44L514.95,289.21L514.21,289.99L513.51,290.79L512.82,291.60L512.16,292.41L511.52,293.22L510.89,294.03L510.26,294.84L509.65,295.65L509.04,296.47L508.43,297.29L507.83,298.12L507.23,298.97L506.64,299.84L506.06,300.73L505.49,301.64L504.96,302.55L504.72,302.98Z M525.53,288.27L525.86,288.02L526.65,287.42L527.44,286.83L528.23,286.26L529.01,285.69L529.79,285.14L530.57,284.60L531.35,284.09L532.14,283.60L532.93,283.13L533.73,282.68L534.54,282.24L535.38,281.82L536.23,281.41L537.10,281.01L537.98,280.61L538.88,280.22L539.78,279.82L540.70,279.43L540.70,279.43L538.27,273.73L538.25,273.73L537.32,274.13L536.39,274.54L535.46,274.95L534.52,275.37L533.58,275.81L532.64,276.26L531.69,276.74L530.75,277.24L529.82,277.76L528.90,278.31L528.00,278.87L527.12,279.45L526.25,280.05L525.41,280.64L524.57,281.25L523.75,281.85L522.93,282.46L522.12,283.07L521.77,283.34Z M546.68,276.88L547.13,276.69L548.05,276.30L548.97,275.91L549.89,275.52L550.80,275.14L551.71,274.76L552.62,274.39L553.52,274.03L554.42,273.68L555.33,273.35L556.23,273.02L557.13,272.71L558.04,272.41L558.96,272.11L559.89,271.83L560.83,271.55L561.77,271.28L562.72,271.01L563.58,270.77L561.91,264.80L561.04,265.04L560.06,265.32L559.08,265.60L558.10,265.89L557.12,266.19L556.13,266.51L555.15,266.83L554.16,267.17L553.19,267.53L552.22,267.89L551.25,268.26L550.30,268.64L549.36,269.03L548.42,269.42L547.48,269.81L546.56,270.20L545.63,270.59L544.71,270.98L544.25,271.18Z M569.83,269.04L570.42,268.88L571.39,268.61L572.35,268.35L573.32,268.08L574.28,267.82L575.25,267.55L576.21,267.28L577.18,267.02L578.14,266.75L579.11,266.49L580.07,266.22L581.04,265.96L582.00,265.69L582.97,265.43L583.93,265.16L584.89,264.90L585.85,264.65L586.80,264.39L587.54,264.20L585.97,258.20L585.22,258.40L584.25,258.66L583.27,258.92L582.30,259.18L581.33,259.45L580.36,259.71L579.39,259.98L578.43,260.24L577.46,260.51L576.50,260.78L575.53,261.04L574.57,261.31L573.60,261.57L572.64,261.84L571.67,262.10L570.71,262.37L569.74,262.64L568.78,262.90L568.19,263.06Z M593.72,262.73L594.44,262.58L595.41,262.37L596.38,262.17L597.36,261.97L598.34,261.78L599.32,261.58L600.30,261.38L601.28,261.19L602.26,260.99L603.24,260.79L604.22,260.60L605.20,260.40L606.18,260.20L607.17,260.01L608.15,259.81L609.13,259.62L610.11,259.42L611.09,259.22L611.72,259.10L610.50,253.02L609.88,253.14L608.90,253.34L607.91,253.54L606.93,253.73L605.95,253.93L604.97,254.12L603.99,254.32L603.01,254.52L602.02,254.71L601.04,254.91L600.06,255.11L599.08,255.30L598.09,255.50L597.11,255.70L596.12,255.90L595.14,256.10L594.15,256.30L593.16,256.51L592.43,256.67Z M618.09,257.82L618.95,257.65L619.93,257.46L620.91,257.26L621.89,257.07L622.87,256.87L623.85,256.68L624.83,256.49L625.81,256.30L626.79,256.11L627.77,255.92L628.75,255.73L629.73,255.54L630.71,255.35L631.70,255.16L632.68,254.97L633.66,254.78L634.65,254.60L635.63,254.41L636.12,254.31L634.95,248.22L634.46,248.32L633.48,248.51L632.50,248.69L631.51,248.88L630.53,249.07L629.55,249.26L628.56,249.45L627.58,249.64L626.59,249.83L625.61,250.02L624.62,250.21L623.64,250.40L622.65,250.60L621.67,250.79L620.68,250.99L619.70,251.18L618.72,251.38L617.73,251.57L616.87,251.74Z M642.50,253.09L642.51,253.09L643.50,252.90L644.48,252.71L645.46,252.53L646.45,252.34L647.43,252.15L648.41,251.96L649.40,251.77L650.38,251.59L651.36,251.40L652.34,251.21L653.32,251.03L654.30,250.85L655.27,250.67L656.24,250.49L657.22,250.32L658.18,250.16L659.15,250.00L660.13,249.85L660.48,249.79L659.55,243.66L659.17,243.72L658.17,243.88L657.16,244.04L656.16,244.21L655.16,244.39L654.16,244.57L653.17,244.75L652.18,244.94L651.19,245.12L650.20,245.31L649.22,245.50L648.23,245.68L647.25,245.87L646.26,246.06L645.28,246.25L644.30,246.44L643.31,246.63L642.33,246.81L641.35,247.00L641.34,247.00Z M666.85,248.92L666.99,248.90L667.98,248.77L668.97,248.65L669.96,248.52L670.95,248.39L671.95,248.27L672.94,248.14L673.93,248.02L674.93,247.89L675.92,247.76L676.91,247.64L677.91,247.51L678.90,247.39L679.89,247.26L680.89,247.13L681.88,247.01L682.87,246.88L683.87,246.75L684.86,246.63L685.09,246.60L684.31,240.45L684.08,240.48L683.09,240.60L682.09,240.73L681.10,240.86L680.11,240.98L679.11,241.11L678.12,241.23L677.13,241.36L676.13,241.49L675.14,241.61L674.15,241.74L673.15,241.87L672.16,241.99L671.17,242.12L670.17,242.24L669.18,242.37L668.19,242.50L667.19,242.62L666.20,242.75L666.05,242.77Z M691.54,245.78L691.81,245.75L692.81,245.62L693.80,245.49L694.79,245.37L695.79,245.24L696.78,245.11L697.77,244.99L698.76,244.86L699.76,244.74L700.75,244.61L701.74,244.48L702.74,244.36L703.73,244.23L704.72,244.11L705.72,243.98L706.71,243.85L707.70,243.73L708.70,243.60L709.69,243.48L708.91,237.32L707.92,237.45L706.92,237.58L705.93,237.70L704.94,237.83L703.94,237.96L702.95,238.08L701.96,238.21L700.96,238.33L699.97,238.46L698.98,238.59L697.98,238.71L696.99,238.84L696.00,238.96L695.00,239.09L694.01,239.22L693.02,239.34L692.02,239.47L691.03,239.59L690.76,239.63Z" fill="#16365c" stroke="none"/>
<path d="M494.40,524.10L494.43,523.10L494.47,522.11L494.50,521.11L494.54,520.12L494.58,519.14L494.62,518.16L494.68,517.20L494.74,516.26L494.83,515.34L494.93,514.45L495.06,513.60L495.23,512.79L495.42,512.02L495.66,511.31L495.94,510.63L496.31,509.92L496.28,509.98L491.01,506.71L490.83,507.03L490.32,508.03L489.85,509.14L489.48,510.27L489.18,511.40L488.96,512.51L488.79,513.61L488.66,514.70L488.56,515.76L488.49,516.81L488.43,517.84L488.38,518.87L488.34,519.88L488.30,520.89L488.27,521.89L488.24,522.90L488.20,523.90Z M499.94,506.21L500.06,506.11L500.83,505.57L501.61,505.06L502.42,504.54L503.24,504.02L504.07,503.51L504.92,503.00L505.76,502.49L506.61,501.98L507.46,501.48L508.32,500.97L509.18,500.47L510.04,499.97L510.90,499.47L511.76,498.97L512.63,498.47L513.49,497.97L514.36,497.47L515.23,496.96L515.28,496.93L512.17,491.57L512.12,491.60L511.25,492.10L510.38,492.60L509.52,493.10L508.65,493.61L507.79,494.11L506.92,494.61L506.05,495.12L505.18,495.63L504.31,496.14L503.44,496.65L502.57,497.17L501.71,497.69L500.84,498.22L499.97,498.76L499.10,499.30L498.22,499.86L497.34,500.45L496.48,501.05L496.24,501.23Z M520.82,493.78L521.23,493.56L522.09,493.10L522.95,492.65L523.82,492.20L524.70,491.76L525.58,491.32L526.47,490.88L527.37,490.44L528.26,490.00L529.16,489.56L530.06,489.12L530.96,488.68L531.86,488.23L532.77,487.79L533.67,487.33L534.58,486.87L535.50,486.40L536.41,485.92L537.13,485.53L534.18,480.07L533.48,480.45L532.63,480.90L531.76,481.35L530.89,481.79L530.01,482.23L529.12,482.67L528.22,483.11L527.33,483.55L526.43,483.99L525.53,484.43L524.63,484.88L523.73,485.32L522.83,485.77L521.92,486.22L521.02,486.67L520.10,487.14L519.19,487.61L518.29,488.10L517.86,488.33Z M542.84,482.22L543.47,481.84L544.34,481.31L545.21,480.78L546.09,480.23L546.96,479.66L547.84,479.08L548.70,478.48L549.56,477.87L550.39,477.24L551.22,476.61L552.02,475.98L552.82,475.35L553.61,474.72L554.39,474.10L555.17,473.47L555.95,472.84L556.73,472.21L557.51,471.59L557.96,471.23L554.07,466.40L553.63,466.75L552.85,467.38L552.07,468.01L551.29,468.63L550.51,469.26L549.74,469.88L548.96,470.50L548.19,471.11L547.42,471.71L546.66,472.30L545.89,472.86L545.13,473.42L544.35,473.95L543.56,474.48L542.76,474.99L541.94,475.51L541.11,476.02L540.27,476.53L539.65,476.90Z M563.04,467.12L563.80,466.47L564.59,465.78L565.38,465.06L566.15,464.33L566.91,463.57L567.64,462.80L568.35,462.03L569.04,461.26L569.71,460.49L570.38,459.72L571.04,458.96L571.69,458.20L572.35,457.43L573.00,456.66L573.66,455.87L574.32,455.07L574.98,454.25L575.62,453.41L575.86,453.07L570.82,449.46L570.65,449.69L570.09,450.44L569.50,451.17L568.89,451.91L568.27,452.66L567.63,453.41L566.98,454.16L566.34,454.92L565.69,455.67L565.04,456.41L564.40,457.15L563.76,457.87L563.12,458.56L562.47,459.24L561.82,459.89L561.15,460.53L560.46,461.15L559.76,461.77L559.03,462.38Z M579.39,447.12L579.47,446.96L579.92,446.05L580.38,445.11L580.82,444.16L581.25,443.18L581.66,442.17L582.04,441.15L582.39,440.10L582.70,439.05L582.97,438.01L583.21,436.98L583.43,435.97L583.64,434.96L583.84,433.97L584.04,432.98L584.23,432.00L584.43,431.02L584.62,430.03L584.81,429.05L584.85,428.86L578.76,427.67L578.73,427.86L578.53,428.84L578.34,429.82L578.15,430.80L577.96,431.78L577.76,432.75L577.57,433.72L577.37,434.67L577.17,435.61L576.95,436.52L576.72,437.40L576.47,438.26L576.19,439.09L575.89,439.92L575.55,440.76L575.17,441.60L574.78,442.45L574.36,443.31L573.92,444.19L573.87,444.30Z M586.05,422.45L586.11,422.09L586.28,421.09L586.44,420.09L586.60,419.09L586.76,418.10L586.91,417.10L587.06,416.11L587.21,415.12L587.36,414.13L587.51,413.14L587.66,412.15L587.81,411.16L587.96,410.18L588.11,409.19L588.26,408.20L588.41,407.21L588.56,406.22L588.71,405.23L588.85,404.31L582.72,403.38L582.58,404.30L582.43,405.29L582.28,406.28L582.13,407.27L581.98,408.26L581.83,409.25L581.68,410.23L581.53,411.22L581.38,412.21L581.23,413.20L581.08,414.19L580.93,415.18L580.78,416.16L580.63,417.15L580.48,418.13L580.32,419.11L580.16,420.08L580.00,421.06L579.94,421.39Z M589.86,397.97L589.96,397.37L590.12,396.38L590.28,395.40L590.45,394.41L590.62,393.43L590.78,392.44L590.95,391.46L591.11,390.47L591.28,389.48L591.45,388.50L591.61,387.51L591.78,386.52L591.94,385.54L592.11,384.56L592.28,383.58L592.45,382.60L592.62,381.63L592.80,380.66L592.92,380.01L586.83,378.86L586.70,379.53L586.52,380.53L586.34,381.53L586.17,382.52L586.00,383.52L585.83,384.51L585.66,385.49L585.50,386.48L585.33,387.47L585.17,388.45L585.00,389.44L584.83,390.43L584.67,391.41L584.50,392.40L584.34,393.39L584.17,394.38L584.00,395.36L583.84,396.35L583.74,396.96Z M594.20,373.76L594.39,372.91L594.60,371.93L594.81,370.96L595.02,369.98L595.23,369.00L595.44,368.02L595.65,367.04L595.86,366.07L596.07,365.09L596.28,364.11L596.49,363.14L596.71,362.17L596.92,361.20L597.13,360.25L597.35,359.31L597.58,358.40L597.83,357.52L598.10,356.64L598.22,356.30L592.35,354.29L592.19,354.77L591.87,355.79L591.59,356.82L591.33,357.84L591.09,358.85L590.87,359.85L590.65,360.84L590.44,361.82L590.22,362.80L590.01,363.78L589.80,364.76L589.59,365.74L589.38,366.71L589.17,367.69L588.96,368.67L588.75,369.65L588.54,370.63L588.32,371.61L588.14,372.46Z M600.64,350.74L600.67,350.67L601.11,349.78L601.55,348.89L602.00,347.99L602.44,347.10L602.88,346.20L603.33,345.31L603.77,344.43L604.22,343.56L604.66,342.70L605.10,341.87L605.55,341.06L606.02,340.29L606.50,339.54L607.00,338.81L607.54,338.09L608.11,337.37L608.70,336.64L609.33,335.90L609.48,335.72L604.79,331.68L604.61,331.89L603.94,332.67L603.27,333.48L602.61,334.33L601.96,335.20L601.34,336.10L600.75,337.02L600.19,337.95L599.67,338.89L599.17,339.81L598.70,340.73L598.24,341.64L597.78,342.54L597.34,343.44L596.89,344.34L596.44,345.23L596.00,346.13L595.55,347.03L595.11,347.93L595.07,348.01Z M613.72,330.88L613.90,330.67L614.56,329.93L615.21,329.19L615.86,328.47L616.52,327.76L617.17,327.06L617.83,326.38L618.50,325.72L619.18,325.06L619.88,324.41L620.60,323.76L621.33,323.11L622.07,322.46L622.82,321.81L623.57,321.16L624.32,320.50L625.07,319.84L625.83,319.19L626.58,318.53L626.59,318.53L622.53,313.84L622.52,313.85L621.76,314.51L621.01,315.16L620.25,315.82L619.49,316.48L618.74,317.14L617.98,317.80L617.22,318.47L616.45,319.15L615.69,319.85L614.93,320.56L614.17,321.28L613.42,322.02L612.69,322.78L611.97,323.54L611.28,324.30L610.59,325.06L609.92,325.82L609.25,326.57L609.06,326.79Z M631.43,314.45L631.82,314.14L632.59,313.54L633.36,312.96L634.14,312.38L634.93,311.80L635.73,311.21L636.54,310.63L637.35,310.05L638.16,309.47L638.97,308.88L639.78,308.30L640.60,307.72L641.41,307.13L642.22,306.55L643.03,305.97L643.84,305.40L644.64,304.83L645.44,304.27L646.05,303.85L642.56,298.73L641.92,299.17L641.08,299.75L640.25,300.34L639.42,300.93L638.61,301.51L637.79,302.10L636.98,302.68L636.17,303.26L635.35,303.85L634.54,304.43L633.73,305.02L632.91,305.60L632.10,306.19L631.28,306.79L630.46,307.39L629.64,308.00L628.82,308.62L628.00,309.25L627.57,309.59Z M651.31,300.66L651.98,300.30L652.85,299.83L653.73,299.36L654.61,298.89L655.49,298.43L656.37,297.96L657.25,297.49L658.14,297.02L659.02,296.55L659.90,296.08L660.78,295.61L661.66,295.15L662.54,294.69L663.41,294.24L664.28,293.79L665.16,293.35L666.04,292.91L666.93,292.48L667.38,292.26L664.69,286.68L664.21,286.91L663.30,287.35L662.39,287.80L661.48,288.26L660.57,288.73L659.67,289.19L658.78,289.66L657.88,290.13L657.00,290.60L656.11,291.07L655.23,291.54L654.34,292.01L653.46,292.48L652.58,292.95L651.69,293.42L650.81,293.89L649.92,294.37L649.03,294.85L648.35,295.22Z M673.19,289.51L673.22,289.50L674.12,289.07L675.03,288.65L675.93,288.22L676.84,287.79L677.74,287.37L678.64,286.95L679.54,286.53L680.44,286.11L681.34,285.69L682.24,285.28L683.14,284.88L684.05,284.47L684.96,284.07L685.87,283.66L686.78,283.26L687.69,282.86L688.61,282.46L689.52,282.05L689.76,281.95L687.26,276.27L687.03,276.38L686.11,276.78L685.20,277.18L684.28,277.59L683.36,277.99L682.44,278.40L681.52,278.81L680.60,279.22L679.68,279.64L678.76,280.06L677.84,280.48L676.93,280.91L676.01,281.33L675.11,281.76L674.20,282.18L673.29,282.61L672.39,283.04L671.48,283.46L670.58,283.89L670.55,283.90Z M695.65,279.38L695.90,279.27L696.80,278.89L697.70,278.52L698.59,278.17L699.48,277.83L700.38,277.50L701.29,277.18L702.21,276.87L703.14,276.56L704.08,276.26L705.03,275.95L705.98,275.65L706.93,275.35L707.88,275.04L708.83,274.74L709.79,274.44L710.74,274.14L711.69,273.84L712.64,273.54L712.64,273.54L710.79,267.62L710.78,267.62L709.82,267.92L708.86,268.23L707.91,268.53L706.96,268.83L706.00,269.14L705.05,269.44L704.09,269.74L703.14,270.05L702.18,270.36L701.21,270.67L700.24,270.99L699.27,271.32L698.29,271.66L697.32,272.02L696.34,272.39L695.38,272.77L694.42,273.16L693.48,273.56L693.21,273.68Z M718.75,271.71L719.25,271.57L720.21,271.30L721.17,271.04L722.13,270.77L723.10,270.51L724.06,270.25L725.02,269.98L725.99,269.72L726.95,269.46L727.92,269.19L728.88,268.93L729.84,268.67L730.79,268.42L731.75,268.17L732.70,267.92L733.66,267.68L734.61,267.44L735.57,267.21L736.30,267.04L734.86,261.01L734.12,261.18L733.14,261.42L732.15,261.66L731.17,261.91L730.18,262.17L729.21,262.43L728.23,262.69L727.26,262.95L726.29,263.21L725.32,263.48L724.36,263.74L723.39,264.00L722.42,264.27L721.46,264.53L720.49,264.80L719.53,265.06L718.56,265.33L717.59,265.60L717.06,265.75Z M742.57,265.58L743.34,265.40L744.32,265.17L745.29,264.95L746.27,264.72L747.24,264.50L748.22,264.27L749.19,264.04L750.17,263.81L751.14,263.59L752.12,263.36L753.10,263.13L754.07,262.90L755.04,262.67L756.02,262.44L756.99,262.21L757.97,261.98L758.94,261.75L759.91,261.52L758.49,255.48L757.51,255.71L756.54,255.94L755.57,256.17L754.59,256.40L753.62,256.63L752.65,256.86L751.67,257.09L750.70,257.32L749.73,257.55L748.76,257.78L747.79,258.00L746.81,258.23L745.84,258.46L744.87,258.68L743.89,258.91L742.92,259.13L741.94,259.36L741.17,259.54Z" fill="#1f4e7e" stroke="none"/>
<path d="M495.52,530.81L496.36,529.64L497.20,528.55L498.07,527.53L498.99,526.56L499.95,525.64L500.95,524.79L502.00,524.00L503.10,523.27L504.26,522.59L505.47,521.95L506.73,521.35L508.02,520.78L509.35,520.23L510.70,519.71L512.07,519.20L513.45,518.72L514.84,518.25L516.24,517.79L517.65,517.35L519.05,516.92L520.47,516.51L521.90,516.11L523.33,515.71L524.76,515.33L526.19,514.97L527.62,514.61L529.06,514.27L530.50,513.94L531.94,513.63L533.38,513.33L534.83,513.05L536.29,512.78L537.74,512.52L539.19,512.27L540.65,512.05L542.10,511.84L543.57,511.64L545.05,511.45L546.54,511.26L548.03,511.08L549.52,510.89L551.01,510.71L552.50,510.54L553.99,510.36L555.48,510.19L556.98,510.02L558.47,509.84L559.97,509.67L561.46,509.50L562.95,509.34L564.45,509.17L565.95,509.00L567.44,508.83L568.94,508.67L570.43,508.50L571.93,508.33L573.43,508.17L574.93,508.00L576.42,507.83L577.92,507.67L579.42,507.50L580.91,507.33L582.41,507.17L583.91,507.00L585.40,506.83L586.90,506.67L588.39,506.50L589.88,506.34L591.38,506.18L592.87,506.02L594.37,505.86L595.86,505.70L597.36,505.54L598.86,505.39L600.36,505.23L601.85,505.07L603.35,504.92L604.85,504.76L606.35,504.60L607.85,504.44L609.34,504.29L610.84,504.13L612.34,503.97L613.84,503.81L615.33,503.66L616.83,503.50L618.33,503.34L619.83,503.19L621.33,503.03L622.82,502.87L624.32,502.71L625.82,502.56L627.31,502.40L628.80,502.25L630.28,502.11L631.77,501.97L633.26,501.83L634.76,501.70L636.26,501.58L637.76,501.45L639.26,501.32L640.76,501.19L642.26,501.06L643.76,500.93L645.26,500.80L646.76,500.67L648.26,500.55L649.76,500.42L651.26,500.29L652.76,500.16L654.26,500.03L655.76,499.90L657.26,499.77L658.76,499.65L660.26,499.52L661.76,499.39L663.26,499.26L664.76,499.13L666.26,499.00L667.76,498.87L669.27,498.75L670.77,498.62L672.27,498.49L673.77,498.36L675.27,498.23L676.77,498.10L678.27,497.97L679.77,497.85L681.27,497.72L682.77,497.59L684.27,497.46L685.77,497.33L687.27,497.20L688.77,497.07L690.27,496.95L691.77,496.82L693.27,496.69L694.77,496.56L696.28,496.43L697.78,496.30L699.28,496.17L700.78,496.04L702.29,495.90L703.79,495.77L705.29,495.63L706.79,495.49L708.29,495.36L709.79,495.22L711.29,495.08L712.79,494.95L714.29,494.81L715.79,494.67L717.29,494.54L718.79,494.40L720.29,494.26L721.79,494.13L723.29,493.99L724.79,493.85L726.29,493.72L727.79,493.58L729.29,493.44L730.79,493.31L732.29,493.17L733.79,493.03L735.29,492.90L736.79,492.76L738.29,492.62L739.79,492.49L741.29,492.35L742.79,492.21L744.29,492.08L745.78,491.94L747.28,491.80L748.78,491.66L750.28,491.53L751.78,491.39L753.28,491.25L754.78,491.12L756.28,490.98L757.78,490.84L759.28,490.71L760.78,490.57L762.28,490.43L763.78,490.30L765.28,490.16L766.78,490.02L768.28,489.89L767.72,483.71L766.22,483.85L764.72,483.99L763.22,484.12L761.72,484.26L760.22,484.40L758.72,484.53L757.22,484.67L755.72,484.81L754.22,484.94L752.72,485.08L751.22,485.22L749.72,485.35L748.22,485.49L746.72,485.63L745.22,485.76L743.72,485.90L742.22,486.04L740.72,486.17L739.22,486.31L737.72,486.45L736.22,486.58L734.72,486.72L733.22,486.86L731.72,486.99L730.22,487.13L728.72,487.27L727.22,487.40L725.73,487.54L724.23,487.68L722.73,487.82L721.23,487.95L719.73,488.09L718.23,488.23L716.73,488.36L715.23,488.50L713.73,488.64L712.23,488.77L710.73,488.91L709.23,489.05L707.73,489.18L706.23,489.32L704.73,489.46L703.23,489.59L701.73,489.73L700.24,489.86L698.74,489.99L697.24,490.12L695.74,490.25L694.24,490.38L692.74,490.51L691.24,490.64L689.74,490.77L688.24,490.90L686.74,491.03L685.24,491.15L683.74,491.28L682.24,491.41L680.74,491.54L679.24,491.67L677.74,491.80L676.24,491.93L674.74,492.05L673.24,492.18L671.74,492.31L670.24,492.44L668.74,492.57L667.24,492.70L665.73,492.83L664.23,492.95L662.73,493.08L661.23,493.21L659.73,493.34L658.23,493.47L656.73,493.60L655.23,493.73L653.73,493.85L652.23,493.98L650.73,494.11L649.23,494.24L647.73,494.37L646.23,494.50L644.73,494.63L643.23,494.75L641.73,494.88L640.23,495.01L638.73,495.14L637.23,495.27L635.72,495.40L634.22,495.53L632.72,495.66L631.21,495.79L629.70,495.93L628.18,496.08L626.68,496.23L625.17,496.39L623.67,496.55L622.18,496.70L620.68,496.86L619.18,497.02L617.68,497.18L616.18,497.33L614.69,497.49L613.19,497.65L611.69,497.81L610.19,497.96L608.70,498.12L607.20,498.28L605.70,498.43L604.20,498.59L602.70,498.75L601.21,498.91L599.71,499.06L598.21,499.22L596.71,499.38L595.22,499.54L593.72,499.69L592.22,499.85L590.72,500.01L589.21,500.17L587.71,500.34L586.21,500.50L584.72,500.67L583.22,500.84L581.72,501.00L580.22,501.17L578.73,501.34L577.23,501.50L575.73,501.67L574.24,501.84L572.74,502.00L571.24,502.17L569.75,502.34L568.25,502.51L566.75,502.67L565.26,502.84L563.76,503.01L562.26,503.17L560.76,503.34L559.26,503.51L557.77,503.68L556.27,503.86L554.77,504.03L553.27,504.20L551.77,504.38L550.27,504.56L548.77,504.74L547.27,504.92L545.77,505.11L544.27,505.30L542.76,505.49L541.25,505.70L539.73,505.92L538.20,506.15L536.68,506.41L535.18,506.68L533.67,506.96L532.16,507.25L530.65,507.56L529.15,507.89L527.66,508.23L526.17,508.59L524.68,508.95L523.19,509.34L521.71,509.73L520.24,510.13L518.76,510.55L517.29,510.98L515.82,511.42L514.35,511.89L512.89,512.36L511.43,512.86L509.97,513.37L508.51,513.91L507.05,514.47L505.60,515.07L504.14,515.71L502.69,516.41L501.24,517.17L499.82,518.01L498.43,518.94L497.08,519.95L495.80,521.03L494.60,522.18L493.45,523.39L492.38,524.65L491.39,525.93L490.48,527.19Z" fill="#2566a8" stroke="none"/>
<path d="M491.91,529.04L493.01,528.18L494.05,527.45L495.10,526.84L496.24,526.31L497.47,525.83L498.77,525.38L500.13,524.97L501.52,524.57L502.94,524.19L504.37,523.82L505.82,523.45L507.27,523.08L508.72,522.72L510.18,522.35L511.64,521.99L513.10,521.62L514.56,521.25L516.03,520.87L517.49,520.49L518.95,520.11L520.40,519.72L521.84,519.34L523.27,518.98L524.69,518.63L526.13,518.30L527.57,517.98L529.02,517.66L530.46,517.36L531.89,517.08L533.33,516.82L534.78,516.58L536.25,516.34L537.71,516.11L539.17,515.89L540.63,515.69L542.08,515.51L543.55,515.33L545.03,515.17L546.52,515.00L548.01,514.84L549.49,514.68L550.98,514.53L552.46,514.38L553.95,514.24L555.45,514.10L556.94,513.95L558.44,513.81L559.93,513.67L561.43,513.53L562.92,513.39L564.42,513.24L565.91,513.10L567.41,512.96L568.91,512.82L570.40,512.68L571.90,512.53L573.39,512.39L574.89,512.25L576.38,512.11L577.88,511.97L579.38,511.82L580.87,511.68L582.37,511.54L583.86,511.40L585.36,511.26L586.85,511.11L588.34,510.98L589.83,510.84L591.32,510.71L592.81,510.58L594.30,510.46L595.80,510.33L597.29,510.21L598.79,510.09L600.29,509.96L601.78,509.84L603.28,509.71L604.78,509.59L606.28,509.47L607.77,509.34L609.27,509.22L610.77,509.10L612.26,508.97L613.76,508.85L615.26,508.73L616.76,508.60L618.25,508.48L619.75,508.36L621.25,508.23L622.75,508.11L624.24,507.99L625.74,507.86L627.23,507.74L628.71,507.63L630.19,507.52L631.67,507.43L633.15,507.34L634.65,507.26L636.14,507.18L637.64,507.10L639.14,507.02L640.64,506.94L642.14,506.86L643.64,506.78L645.14,506.70L646.64,506.62L648.14,506.55L649.64,506.47L651.14,506.39L652.64,506.31L654.14,506.23L655.64,506.15L657.15,506.07L658.65,505.99L660.15,505.91L661.65,505.83L663.15,505.75L664.65,505.67L666.15,505.59L667.65,505.51L669.15,505.44L670.65,505.36L672.15,505.28L673.65,505.20L675.15,505.12L676.65,505.04L678.15,504.96L679.65,504.88L681.15,504.80L682.65,504.72L684.15,504.64L685.65,504.56L687.15,504.48L688.65,504.40L690.15,504.32L691.65,504.25L693.15,504.17L694.65,504.09L696.15,504.01L697.65,503.93L699.15,503.85L700.65,503.77L702.15,503.69L703.65,503.61L705.15,503.53L706.65,503.45L708.15,503.37L709.65,503.29L711.15,503.21L712.65,503.13L714.15,503.05L715.66,502.98L717.16,502.90L718.66,502.82L720.16,502.74L721.66,502.66L723.16,502.58L724.66,502.50L726.16,502.42L727.66,502.34L729.16,502.26L730.66,502.18L732.16,502.10L733.66,502.02L735.16,501.94L736.66,501.86L738.16,501.78L739.66,501.70L741.16,501.63L742.66,501.55L744.16,501.47L745.66,501.39L747.16,501.31L748.66,501.23L750.16,501.15L751.66,501.07L753.16,500.99L754.66,500.91L756.16,500.83L757.66,500.75L759.16,500.67L760.66,500.59L762.16,500.51L763.66,500.43L765.16,500.35L766.66,500.28L768.16,500.20L767.84,494.00L766.34,494.08L764.84,494.16L763.34,494.24L761.84,494.32L760.33,494.40L758.83,494.48L757.33,494.56L755.83,494.64L754.33,494.72L752.83,494.80L751.33,494.88L749.83,494.96L748.33,495.04L746.83,495.12L745.33,495.20L743.83,495.28L742.33,495.35L740.83,495.43L739.33,495.51L737.83,495.59L736.33,495.67L734.83,495.75L733.33,495.83L731.83,495.91L730.33,495.99L728.83,496.07L727.33,496.15L725.83,496.23L724.33,496.31L722.83,496.39L721.33,496.47L719.83,496.55L718.33,496.63L716.83,496.70L715.33,496.78L713.83,496.86L712.33,496.94L710.83,497.02L709.33,497.10L707.83,497.18L706.33,497.26L704.83,497.34L703.33,497.42L701.83,497.50L700.33,497.58L698.82,497.66L697.32,497.74L695.82,497.82L694.32,497.90L692.82,497.97L691.32,498.05L689.82,498.13L688.32,498.21L686.82,498.29L685.32,498.37L683.82,498.45L682.32,498.53L680.82,498.61L679.32,498.69L677.82,498.77L676.32,498.85L674.82,498.93L673.32,499.01L671.82,499.09L670.32,499.16L668.82,499.24L667.32,499.32L665.82,499.40L664.32,499.48L662.82,499.56L661.32,499.64L659.82,499.72L658.32,499.80L656.82,499.88L655.32,499.96L653.82,500.04L652.32,500.12L650.82,500.20L649.32,500.27L647.82,500.35L646.32,500.43L644.82,500.51L643.32,500.59L641.82,500.67L640.32,500.75L638.81,500.83L637.31,500.91L635.81,500.99L634.31,501.07L632.80,501.15L631.29,501.24L629.77,501.34L628.25,501.45L626.74,501.56L625.23,501.68L623.73,501.81L622.24,501.93L620.74,502.05L619.24,502.18L617.74,502.30L616.25,502.42L614.75,502.55L613.25,502.67L611.75,502.79L610.26,502.92L608.76,503.04L607.26,503.17L605.77,503.29L604.27,503.41L602.77,503.54L601.27,503.66L599.78,503.78L598.28,503.91L596.78,504.03L595.28,504.15L593.79,504.28L592.28,504.40L590.78,504.53L589.28,504.66L587.77,504.80L586.27,504.94L584.77,505.08L583.28,505.22L581.78,505.37L580.28,505.51L578.79,505.65L577.29,505.79L575.80,505.94L574.30,506.08L572.81,506.22L571.31,506.36L569.82,506.50L568.32,506.65L566.82,506.79L565.33,506.93L563.83,507.07L562.34,507.21L560.84,507.36L559.35,507.50L557.85,507.64L556.35,507.78L554.86,507.92L553.36,508.07L551.86,508.21L550.35,508.36L548.85,508.52L547.35,508.68L545.85,508.84L544.35,509.00L542.84,509.17L541.33,509.35L539.81,509.55L538.29,509.76L536.78,509.98L535.27,510.22L533.77,510.46L532.26,510.71L530.74,510.99L529.23,511.28L527.73,511.60L526.24,511.92L524.75,512.25L523.26,512.60L521.77,512.96L520.28,513.34L518.82,513.73L517.36,514.11L515.92,514.50L514.48,514.87L513.03,515.24L511.58,515.61L510.13,515.97L508.67,516.34L507.21,516.70L505.75,517.07L504.29,517.44L502.82,517.81L501.35,518.20L499.87,518.60L498.37,519.02L496.86,519.49L495.33,520.01L493.78,520.62L492.23,521.35L490.72,522.22L489.33,523.19L488.09,524.16Z" fill="#3080d2" stroke="none"/>
<path d="M491.91,529.94L493.01,529.08L494.05,528.35L495.10,527.74L496.24,527.21L497.47,526.73L498.77,526.28L500.13,525.87L501.52,525.47L502.94,525.09L504.37,524.72L505.82,524.35L507.27,523.98L508.72,523.62L510.18,523.25L511.64,522.89L513.10,522.52L514.56,522.15L516.03,521.77L517.49,521.39L518.95,521.01L520.40,520.62L521.84,520.24L523.27,519.88L524.69,519.53L526.13,519.20L527.57,518.88L529.02,518.56L530.46,518.26L531.89,517.98L533.33,517.72L534.78,517.48L536.25,517.24L537.71,517.01L539.17,516.79L540.63,516.59L542.08,516.41L543.55,516.23L545.03,516.07L546.52,515.90L548.01,515.74L549.49,515.58L550.98,515.43L552.46,515.28L553.95,515.14L555.45,515.00L556.94,514.85L558.44,514.71L559.93,514.57L561.43,514.43L562.92,514.29L564.42,514.14L565.91,514.00L567.41,513.86L568.91,513.72L570.40,513.58L571.90,513.43L573.39,513.29L574.89,513.15L576.38,513.01L577.88,512.87L579.38,512.72L580.87,512.58L582.37,512.44L583.86,512.30L585.36,512.16L586.85,512.01L588.34,511.88L589.83,511.74L591.32,511.61L592.81,511.48L594.30,511.36L595.80,511.23L597.29,511.11L598.79,510.99L600.29,510.86L601.78,510.74L603.28,510.61L604.78,510.49L606.28,510.37L607.77,510.24L609.27,510.12L610.77,510.00L612.26,509.87L613.76,509.75L615.26,509.63L616.76,509.50L618.25,509.38L619.75,509.26L621.25,509.13L622.75,509.01L624.24,508.89L625.74,508.76L627.23,508.64L628.71,508.53L630.19,508.42L631.67,508.33L633.15,508.24L634.65,508.16L636.14,508.08L637.64,508.00L639.14,507.92L640.64,507.84L642.14,507.76L643.64,507.68L645.14,507.60L646.64,507.52L648.14,507.45L649.64,507.37L651.14,507.29L652.64,507.21L654.14,507.13L655.64,507.05L657.15,506.97L658.65,506.89L660.15,506.81L661.65,506.73L663.15,506.65L664.65,506.57L666.15,506.49L667.65,506.41L669.15,506.34L670.65,506.26L672.15,506.18L673.65,506.10L675.15,506.02L676.65,505.94L678.15,505.86L679.65,505.78L681.15,505.70L682.65,505.62L684.15,505.54L685.65,505.46L687.15,505.38L688.65,505.30L690.15,505.22L691.65,505.15L693.15,505.07L694.65,504.99L696.15,504.91L697.65,504.83L699.15,504.75L700.65,504.67L702.15,504.59L703.65,504.51L705.15,504.43L706.65,504.35L708.15,504.27L709.65,504.19L711.15,504.11L712.65,504.03L714.15,503.95L715.66,503.88L717.16,503.80L718.66,503.72L720.16,503.64L721.66,503.56L723.16,503.48L724.66,503.40L726.16,503.32L727.66,503.24L729.16,503.16L730.66,503.08L732.16,503.00L733.66,502.92L735.16,502.84L736.66,502.76L738.16,502.68L739.66,502.60L741.16,502.53L742.66,502.45L744.16,502.37L745.66,502.29L747.16,502.21L748.66,502.13L750.16,502.05L751.66,501.97L753.16,501.89L754.66,501.81L756.16,501.73L757.66,501.65L759.16,501.57L760.66,501.49L762.16,501.41L763.66,501.33L765.16,501.25L766.66,501.18L768.16,501.10L767.84,494.90L766.34,494.98L764.84,495.06L763.34,495.14L761.84,495.22L760.33,495.30L758.83,495.38L757.33,495.46L755.83,495.54L754.33,495.62L752.83,495.70L751.33,495.78L749.83,495.86L748.33,495.94L746.83,496.02L745.33,496.10L743.83,496.18L742.33,496.25L740.83,496.33L739.33,496.41L737.83,496.49L736.33,496.57L734.83,496.65L733.33,496.73L731.83,496.81L730.33,496.89L728.83,496.97L727.33,497.05L725.83,497.13L724.33,497.21L722.83,497.29L721.33,497.37L719.83,497.45L718.33,497.53L716.83,497.60L715.33,497.68L713.83,497.76L712.33,497.84L710.83,497.92L709.33,498.00L707.83,498.08L706.33,498.16L704.83,498.24L703.33,498.32L701.83,498.40L700.33,498.48L698.82,498.56L697.32,498.64L695.82,498.72L694.32,498.80L692.82,498.87L691.32,498.95L689.82,499.03L688.32,499.11L686.82,499.19L685.32,499.27L683.82,499.35L682.32,499.43L680.82,499.51L679.32,499.59L677.82,499.67L676.32,499.75L674.82,499.83L673.32,499.91L671.82,499.99L670.32,500.06L668.82,500.14L667.32,500.22L665.82,500.30L664.32,500.38L662.82,500.46L661.32,500.54L659.82,500.62L658.32,500.70L656.82,500.78L655.32,500.86L653.82,500.94L652.32,501.02L650.82,501.10L649.32,501.17L647.82,501.25L646.32,501.33L644.82,501.41L643.32,501.49L641.82,501.57L640.32,501.65L638.81,501.73L637.31,501.81L635.81,501.89L634.31,501.97L632.80,502.05L631.29,502.14L629.77,502.24L628.25,502.35L626.74,502.46L625.23,502.58L623.73,502.71L622.24,502.83L620.74,502.95L619.24,503.08L617.74,503.20L616.25,503.32L614.75,503.45L613.25,503.57L611.75,503.69L610.26,503.82L608.76,503.94L607.26,504.07L605.77,504.19L604.27,504.31L602.77,504.44L601.27,504.56L599.78,504.68L598.28,504.81L596.78,504.93L595.28,505.05L593.79,505.18L592.28,505.30L590.78,505.43L589.28,505.56L587.77,505.70L586.27,505.84L584.77,505.98L583.28,506.12L581.78,506.27L580.28,506.41L578.79,506.55L577.29,506.69L575.80,506.84L574.30,506.98L572.81,507.12L571.31,507.26L569.82,507.40L568.32,507.55L566.82,507.69L565.33,507.83L563.83,507.97L562.34,508.11L560.84,508.26L559.35,508.40L557.85,508.54L556.35,508.68L554.86,508.82L553.36,508.97L551.86,509.11L550.35,509.26L548.85,509.42L547.35,509.58L545.85,509.74L544.35,509.90L542.84,510.07L541.33,510.25L539.81,510.45L538.29,510.66L536.78,510.88L535.27,511.12L533.77,511.36L532.26,511.61L530.74,511.89L529.23,512.18L527.73,512.50L526.24,512.82L524.75,513.15L523.26,513.50L521.77,513.86L520.28,514.24L518.82,514.63L517.36,515.01L515.92,515.40L514.48,515.77L513.03,516.14L511.58,516.51L510.13,516.87L508.67,517.24L507.21,517.60L505.75,517.97L504.29,518.34L502.82,518.71L501.35,519.10L499.87,519.50L498.37,519.92L496.86,520.39L495.33,520.91L493.78,521.52L492.23,522.25L490.72,523.12L489.33,524.09L488.09,525.06Z" fill="#90bdeb" stroke="none"/>
</g>
<text x="111.3" y="30.7" font-size="46.0" text-anchor="end" >2.6</text>
<text x="111.3" y="222.8" font-size="46.0" text-anchor="end" >2.2</text>
<text x="111.3" y="415.6" font-size="46.0" text-anchor="end" >1.8</text>
<text x="111.3" y="608.4" font-size="46.0" text-anchor="end" >1.4</text>
<text x="150.3" y="662.8" font-size="46.0" text-anchor="middle" >0</text>
<text x="314.1" y="662.8" font-size="46.0" text-anchor="middle" >1</text>
<text x="477.9" y="662.8" font-size="46.0" text-anchor="middle" >2</text>
<text x="641.6" y="662.8" font-size="46.0" text-anchor="middle" >3</text>
<text x="805.4" y="662.8" font-size="46.0" text-anchor="middle" >4</text>
<text x="252.4" y="726.5" font-size="45.6" text-anchor="start" >Current Density [A/cm<tspan font-size="27.5" dy="-17">2</tspan><tspan dy="17">]</tspan></text>
<text x="457.0" y="799.6" font-size="50.0" text-anchor="start" >(a)</text>
<text transform="translate(32.5,424.6) rotate(-90)" font-size="46">Potential [V]</text>
<text x="456.3" y="211.0" font-size="37.0" text-anchor="end" >2.6</text>
<text x="456.3" y="319.2" font-size="37.0" text-anchor="end" >2.2</text>
<text x="456.3" y="427.3" font-size="37.0" text-anchor="end" >1.8</text>
<text x="456.3" y="535.6" font-size="37.0" text-anchor="end" >1.4</text>
<text x="488.8" y="580.0" font-size="37.0" text-anchor="middle" >0</text>
<text x="581.0" y="580.0" font-size="37.0" text-anchor="middle" >0.05</text>
<text x="670.0" y="580.0" font-size="37.0" text-anchor="middle" >0.1</text>
<text x="763.5" y="580.0" font-size="37.0" text-anchor="middle" >0.15</text>
<text transform="translate(164.5,79.9) rotate(0.0)" font-size="32.8" fill="#16365c" stroke="#16365c" stroke-width="0.45">10<tspan font-size="21.6" dy="-9.8">2</tspan></text>
<text transform="translate(178.0,121.5) rotate(0.0)" font-size="32.8" fill="#1f4e7e" stroke="#1f4e7e" stroke-width="0.45">10<tspan font-size="21.6" dy="-9.8">3.5</tspan></text>
<text transform="translate(218.0,222.8) rotate(-22.0)" font-size="32.8" fill="#2566a8" stroke="#2566a8" stroke-width="0.45">10<tspan font-size="21.6" dy="-9.8">4.5</tspan></text>
<text transform="translate(199.6,349.6) rotate(0.0)" font-size="32.8" fill="#3080d2" stroke="#3080d2" stroke-width="0.45">10<tspan font-size="21.6" dy="-9.8">5.5</tspan></text>
<text transform="translate(307.3,320.8) rotate(0.0)" font-size="32.8" fill="#5f9cdd" stroke="#5f9cdd" stroke-width="0.45">10<tspan font-size="21.6" dy="-9.8">6</tspan></text>
<text transform="translate(563.5,123.7) rotate(-22.0)" font-size="32.8" fill="#90bdeb" stroke="#90bdeb" stroke-width="0.45">10<tspan font-size="21.6" dy="-9.8">7</tspan></text>
<text transform="translate(563.3,250.8) rotate(0.0)" font-size="32.8" fill="#16365c" stroke="#16365c" stroke-width="0.45">10<tspan font-size="21.6" dy="-9.8">2</tspan></text>
<text transform="translate(663.2,318.3) rotate(0.0)" font-size="32.8" fill="#1f4e7e" stroke="#1f4e7e" stroke-width="0.45">10<tspan font-size="21.6" dy="-9.8">3.5</tspan></text>
<text x="259.9" y="86.0" font-size="32.9" text-anchor="start" >Inoperable</text>
<path d="M219.6,42.7 L232.2,42.0 Q235.0,41.9 235.5,44.9 L239.9,75.8 Q240.4,79.2 243.4,79.0 L255.4,78.2 L244.0,80.7 Q241.2,81.4 241.6,84.2 L246.2,117.6 Q246.6,120.3 244.3,121.0 L231.3,124.8" fill="none" stroke="#000" stroke-width="3.5" stroke-linejoin="round" stroke-linecap="butt"/>
<g stroke="#000" fill="none">
<rect x="1116.1" y="15.8" width="472.4" height="601.9" stroke-width="7" stroke-linejoin="round"/>
<line x1="1183.6" x2="1183.6" y1="15.8" y2="26.2" stroke-width="6.2"/>
<line x1="1183.6" x2="1183.6" y1="617.7" y2="611.3" stroke-width="6.2"/>
<line x1="1251.1" x2="1251.1" y1="15.8" y2="29.3" stroke-width="6.2"/>
<line x1="1251.1" x2="1251.1" y1="617.7" y2="609.6" stroke-width="6.2"/>
<line x1="1318.6" x2="1318.6" y1="15.8" y2="26.2" stroke-width="6.2"/>
<line x1="1318.6" x2="1318.6" y1="617.7" y2="611.3" stroke-width="6.2"/>
<line x1="1386.1" x2="1386.1" y1="15.8" y2="29.3" stroke-width="6.2"/>
<line x1="1386.1" x2="1386.1" y1="617.7" y2="609.6" stroke-width="6.2"/>
<line x1="1453.6" x2="1453.6" y1="15.8" y2="26.2" stroke-width="6.2"/>
<line x1="1453.6" x2="1453.6" y1="617.7" y2="611.3" stroke-width="6.2"/>
<line x1="1521.1" x2="1521.1" y1="15.8" y2="29.3" stroke-width="6.2"/>
<line x1="1521.1" x2="1521.1" y1="617.7" y2="609.6" stroke-width="6.2"/>
<line x1="1116.1" x2="1126.3" y1="560.4" y2="560.4" stroke-width="6.4"/>
<line x1="1116.1" x2="1129.8" y1="503.1" y2="503.1" stroke-width="6.4"/>
<line x1="1116.1" x2="1126.3" y1="445.8" y2="445.8" stroke-width="6.4"/>
<line x1="1116.1" x2="1129.8" y1="388.5" y2="388.5" stroke-width="6.4"/>
<line x1="1116.1" x2="1126.3" y1="331.2" y2="331.2" stroke-width="6.4"/>
<line x1="1116.1" x2="1129.8" y1="273.9" y2="273.9" stroke-width="6.4"/>
<line x1="1116.1" x2="1126.3" y1="216.6" y2="216.6" stroke-width="6.4"/>
<line x1="1116.1" x2="1129.8" y1="159.3" y2="159.3" stroke-width="6.4"/>
<line x1="1116.1" x2="1126.3" y1="102.0" y2="102.0" stroke-width="6.4"/>
<line x1="1116.1" x2="1129.8" y1="44.7" y2="44.7" stroke-width="6.4"/>
<line x1="1588.5" x2="1578.4" y1="542.5" y2="542.5" stroke-width="6.4"/>
<line x1="1588.5" x2="1574.7" y1="467.3" y2="467.3" stroke-width="6.4"/>
<line x1="1588.5" x2="1578.4" y1="392.1" y2="392.1" stroke-width="6.4"/>
<line x1="1588.5" x2="1574.7" y1="316.9" y2="316.9" stroke-width="6.4"/>
<line x1="1588.5" x2="1578.4" y1="241.7" y2="241.7" stroke-width="6.4"/>
<line x1="1588.5" x2="1574.7" y1="166.5" y2="166.5" stroke-width="6.4"/>
<line x1="1588.5" x2="1578.4" y1="91.3" y2="91.3" stroke-width="6.4"/>
<path d="M1116.09,48.00L1117.57,48.00L1119.04,48.01L1120.52,48.01L1121.99,48.02L1123.47,48.03L1124.95,48.03L1126.42,48.04L1127.90,48.05L1129.37,48.05L1130.85,48.06L1132.32,48.07L1133.80,48.08L1135.28,48.09L1136.75,48.10L1138.23,48.11L1139.70,48.12L1141.18,48.13L1142.65,48.14L1144.13,48.15L1145.60,48.17L1147.08,48.18L1148.55,48.19L1150.03,48.21L1151.50,48.23L1152.98,48.24L1154.45,48.26L1155.93,48.28L1157.40,48.30L1158.88,48.32L1160.35,48.34L1161.82,48.36L1163.30,48.38L1164.77,48.41L1166.25,48.43L1167.72,48.46L1169.19,48.49L1170.67,48.52L1172.14,48.55L1173.61,48.58L1175.09,48.62L1176.56,48.65L1178.03,48.69L1179.50,48.73L1180.97,48.78L1182.45,48.82L1183.92,48.87L1185.39,48.92L1186.86,48.97L1188.33,49.02L1189.80,49.08L1191.27,49.14L1192.74,49.20L1194.21,49.27L1195.68,49.33L1197.15,49.41L1198.62,49.48L1200.09,49.56L1201.55,49.65L1203.02,49.74L1204.49,49.83L1205.95,49.93L1207.42,50.03L1208.88,50.14L1210.35,50.25L1211.81,50.37L1213.28,50.49L1214.74,50.62L1216.20,50.76L1217.66,50.90L1219.12,51.05L1220.58,51.21L1222.04,51.38L1223.50,51.55L1224.96,51.74L1226.41,51.93L1227.87,52.13L1229.32,52.34L1230.78,52.57L1232.23,52.80L1233.68,53.04L1235.13,53.30L1236.58,53.57L1238.03,53.85L1239.47,54.15L1240.92,54.46L1242.36,54.79L1243.81,55.13L1245.25,55.49L1246.69,55.86L1248.13,56.26L1249.56,56.67L1251.00,57.10L1252.43,57.56L1253.87,58.03L1255.30,58.53L1256.73,59.05L1258.16,59.60L1259.59,60.18L1261.01,60.78L1262.44,61.41L1263.86,62.07L1265.29,62.76L1266.71,63.48L1268.13,64.24L1269.55,65.03L1270.97,65.86L1272.39,66.73L1273.81,67.65L1275.23,68.60L1276.65,69.60L1278.07,70.65L1279.49,71.74L1280.91,72.89L1282.34,74.09L1283.76,75.35L1285.18,76.66L1286.61,78.04L1288.04,79.48L1289.46,80.99L1290.89,82.56L1292.33,84.21L1293.76,85.93L1295.19,87.73L1296.63,89.61L1298.07,91.57L1299.51,93.62L1300.95,95.76L1302.40,97.99L1303.84,100.32L1305.29,102.75L1306.74,105.27L1308.19,107.91L1309.64,110.65L1311.10,113.50L1312.55,116.46L1314.01,119.54L1315.47,122.73L1316.93,126.05L1318.39,129.49L1319.85,133.06L1321.31,136.76L1322.78,140.58L1324.24,144.54L1325.71,148.63L1327.17,152.85L1328.64,157.21L1330.11,161.71L1331.58,166.34L1333.05,171.11L1334.52,176.02L1335.99,181.06L1337.46,186.24L1338.93,191.56L1340.40,197.00L1341.87,202.58L1343.34,208.28L1344.82,214.11L1346.29,220.06L1347.76,226.12L1349.24,232.30L1350.71,238.59L1352.18,244.99L1353.66,251.48L1355.13,258.06L1356.61,264.73L1358.08,271.48L1359.56,278.29L1361.03,285.18L1362.51,292.12L1363.98,299.11L1365.46,306.14L1366.94,313.20L1368.41,320.28L1369.89,327.38L1371.37,334.49L1372.84,341.59L1374.32,348.69L1375.80,355.76L1377.27,362.81L1378.75,369.81L1380.23,376.78L1381.71,383.69L1383.18,390.53L1384.66,397.31L1386.14,404.02L1387.62,410.64L1389.10,417.18L1390.58,423.62L1392.06,429.95L1393.53,436.19L1395.01,442.31L1396.49,448.32L1397.98,454.21L1399.46,459.98L1400.94,465.62L1402.42,471.14L1403.90,476.52L1405.38,481.77L1406.87,486.90L1408.35,491.88L1409.83,496.74L1411.32,501.46L1412.80,506.04L1414.29,510.49L1415.77,514.81L1417.26,518.99L1418.75,523.05L1420.24,526.97L1421.73,530.77L1423.22,534.44L1424.71,537.99L1426.21,541.42L1427.70,544.73L1429.20,547.92L1430.69,551.00L1432.19,553.96L1433.69,556.82L1435.19,559.57L1436.70,562.22L1438.20,564.77L1439.71,567.22L1441.22,569.57L1442.73,571.84L1444.24,574.01L1445.75,576.10L1447.27,578.11L1448.79,580.03L1450.31,581.88L1451.83,583.65L1453.35,585.34L1454.88,586.97L1456.40,588.52L1457.93,590.02L1459.46,591.44L1460.99,592.81L1462.52,594.12L1464.05,595.37L1465.58,596.56L1467.11,597.71L1468.65,598.80L1470.18,599.84L1471.71,600.84L1473.25,601.79L1474.78,602.70L1476.31,603.56L1477.84,604.39L1479.37,605.18L1480.90,605.93L1482.43,606.65L1483.96,607.33L1485.49,607.98L1487.01,608.60L1488.54,609.19L1490.06,609.76L1491.58,610.29L1493.10,610.80L1494.62,611.29L1496.14,611.75L1497.65,612.19L1499.17,612.61L1500.68,613.01L1502.20,613.40L1503.71,613.76L1505.22,614.10L1506.72,614.43L1508.23,614.74L1509.74,615.04L1511.24,615.33L1512.74,615.59L1514.25,615.85L1515.75,616.10L1517.25,616.33L1518.75,616.55L1520.24,616.76L1521.74,616.96L1523.24,617.15L1524.73,617.33L1526.23,617.50L1527.72,617.67L1529.21,617.83L1530.70,617.97L1532.20,618.12L1533.69,618.25L1535.18,618.38L1536.67,618.50L1538.15,618.62L1539.64,618.73L1541.13,618.83L1542.62,618.93L1544.10,619.03L1545.59,619.12L1547.08,619.20L1548.56,619.29L1550.05,619.37L1551.53,619.44L1553.01,619.51L1554.50,619.58L1555.98,619.64L1557.46,619.70L1558.95,619.76L1560.43,619.82L1561.91,619.87L1563.39,619.92L1564.87,619.97L1566.36,620.01L1567.84,620.05L1569.32,620.09L1570.80,620.13L1572.28,620.17L1573.76,620.21L1575.24,620.24L1576.72,620.27L1578.20,620.30L1579.68,620.33L1581.16,620.36L1582.64,620.38L1584.12,620.41L1585.60,620.43L1587.08,620.46L1588.55,620.48L1588.65,614.08L1587.17,614.06L1585.70,614.03L1584.22,614.01L1582.75,613.99L1581.28,613.96L1579.80,613.93L1578.33,613.90L1576.85,613.87L1575.38,613.84L1573.91,613.81L1572.44,613.77L1570.96,613.74L1569.49,613.70L1568.02,613.66L1566.55,613.61L1565.08,613.57L1563.60,613.52L1562.13,613.47L1560.66,613.42L1559.19,613.36L1557.72,613.31L1556.25,613.25L1554.78,613.18L1553.31,613.12L1551.84,613.05L1550.37,612.97L1548.91,612.90L1547.44,612.82L1545.97,612.73L1544.50,612.64L1543.04,612.55L1541.57,612.45L1540.10,612.34L1538.64,612.24L1537.18,612.12L1535.71,612.00L1534.25,611.88L1532.79,611.74L1531.32,611.60L1529.86,611.46L1528.40,611.31L1526.94,611.15L1525.48,610.98L1524.03,610.80L1522.57,610.61L1521.11,610.42L1519.66,610.21L1518.20,610.00L1516.75,609.78L1515.30,609.54L1513.85,609.29L1512.40,609.03L1510.95,608.76L1509.50,608.47L1508.05,608.17L1506.61,607.86L1505.17,607.53L1503.72,607.18L1502.28,606.82L1500.84,606.44L1499.40,606.04L1497.97,605.62L1496.53,605.18L1495.10,604.72L1493.67,604.24L1492.23,603.74L1490.80,603.21L1489.38,602.65L1487.95,602.07L1486.52,601.46L1485.10,600.83L1483.67,600.16L1482.25,599.46L1480.83,598.73L1479.41,597.96L1477.98,597.16L1476.56,596.32L1475.14,595.44L1473.72,594.51L1472.30,593.55L1470.88,592.54L1469.46,591.48L1468.04,590.37L1466.62,589.21L1465.20,587.99L1463.77,586.72L1462.35,585.39L1460.92,584.00L1459.50,582.54L1458.07,581.02L1456.64,579.42L1455.21,577.76L1453.77,576.01L1452.34,574.19L1450.90,572.29L1449.46,570.31L1448.02,568.24L1446.58,566.07L1445.13,563.82L1443.68,561.46L1442.24,559.01L1440.79,556.46L1439.34,553.80L1437.88,551.03L1436.43,548.15L1434.97,545.16L1433.51,542.05L1432.06,538.82L1430.60,535.47L1429.14,532.00L1427.67,528.40L1426.21,524.67L1424.75,520.81L1423.28,516.82L1421.82,512.70L1420.35,508.44L1418.88,504.04L1417.41,499.51L1415.95,494.84L1414.48,490.04L1413.01,485.09L1411.54,480.02L1410.07,474.80L1408.59,469.46L1407.12,463.98L1405.65,458.37L1404.18,452.63L1402.71,446.77L1401.23,440.79L1399.76,434.70L1398.29,428.49L1396.81,422.17L1395.34,415.75L1393.86,409.24L1392.39,402.63L1390.91,395.94L1389.44,389.18L1387.96,382.34L1386.49,375.44L1385.01,368.49L1383.54,361.49L1382.06,354.45L1380.58,347.38L1379.11,340.29L1377.63,333.19L1376.15,326.08L1374.68,318.98L1373.20,311.89L1371.72,304.82L1370.25,297.79L1368.77,290.79L1367.29,283.84L1365.81,276.95L1364.34,270.12L1362.86,263.35L1361.38,256.67L1359.90,250.07L1358.42,243.56L1356.94,237.14L1355.46,230.83L1353.98,224.63L1352.50,218.53L1351.02,212.55L1349.54,206.70L1348.06,200.96L1346.58,195.35L1345.10,189.87L1343.62,184.52L1342.14,179.30L1340.65,174.21L1339.17,169.26L1337.69,164.44L1336.20,159.75L1334.72,155.20L1333.23,150.79L1331.74,146.50L1330.26,142.35L1328.77,138.33L1327.28,134.44L1325.79,130.67L1324.30,127.03L1322.80,123.51L1321.31,120.12L1319.81,116.84L1318.32,113.68L1316.82,110.63L1315.32,107.69L1313.82,104.86L1312.32,102.14L1310.82,99.52L1309.31,96.99L1307.80,94.57L1306.29,92.24L1304.78,89.99L1303.27,87.84L1301.76,85.78L1300.24,83.79L1298.72,81.89L1297.20,80.06L1295.68,78.31L1294.16,76.63L1292.63,75.03L1291.11,73.49L1289.58,72.01L1288.05,70.60L1286.52,69.25L1284.99,67.95L1283.46,66.72L1281.93,65.54L1280.39,64.41L1278.86,63.33L1277.33,62.30L1275.79,61.31L1274.26,60.37L1272.73,59.48L1271.20,58.62L1269.66,57.80L1268.13,57.02L1266.60,56.28L1265.08,55.57L1263.55,54.90L1262.02,54.26L1260.50,53.64L1258.97,53.06L1257.45,52.50L1255.93,51.97L1254.41,51.47L1252.89,50.99L1251.37,50.53L1249.86,50.10L1248.34,49.68L1246.83,49.29L1245.32,48.91L1243.81,48.55L1242.30,48.21L1240.79,47.89L1239.28,47.58L1237.78,47.28L1236.27,47.00L1234.77,46.74L1233.27,46.48L1231.77,46.24L1230.27,46.01L1228.77,45.80L1227.27,45.59L1225.78,45.39L1224.28,45.20L1222.78,45.02L1221.29,44.85L1219.80,44.69L1218.30,44.54L1216.81,44.39L1215.32,44.25L1213.83,44.12L1212.34,43.99L1210.85,43.87L1209.36,43.75L1207.88,43.64L1206.39,43.54L1204.90,43.44L1203.41,43.35L1201.93,43.26L1200.44,43.17L1198.96,43.09L1197.47,43.02L1195.99,42.94L1194.50,42.87L1193.02,42.81L1191.54,42.74L1190.05,42.68L1188.57,42.63L1187.09,42.57L1185.61,42.52L1184.13,42.47L1182.64,42.42L1181.16,42.38L1179.68,42.34L1178.20,42.30L1176.72,42.26L1175.24,42.22L1173.76,42.19L1172.28,42.15L1170.80,42.12L1169.32,42.09L1167.84,42.06L1166.36,42.03L1164.88,42.01L1163.40,41.98L1161.92,41.96L1160.44,41.94L1158.97,41.92L1157.49,41.90L1156.01,41.88L1154.53,41.86L1153.05,41.84L1151.57,41.83L1150.09,41.81L1148.62,41.79L1147.14,41.78L1145.66,41.77L1144.18,41.75L1142.70,41.74L1141.23,41.73L1139.75,41.72L1138.27,41.71L1136.79,41.70L1135.32,41.69L1133.84,41.68L1132.36,41.67L1130.88,41.66L1129.41,41.65L1127.93,41.65L1126.45,41.64L1124.97,41.63L1123.50,41.63L1122.02,41.62L1120.54,41.61L1119.06,41.61L1117.59,41.60L1116.11,41.60Z" fill="#000" stroke="none"/>
</g>
<text x="1077.5" y="632.3" font-size="46.0" text-anchor="end" >0</text>
<text x="1077.5" y="517.7" font-size="46.0" text-anchor="end" >0.2</text>
<text x="1077.5" y="403.1" font-size="46.0" text-anchor="end" >0.4</text>
<text x="1077.5" y="288.5" font-size="46.0" text-anchor="end" >0.6</text>
<text x="1077.5" y="173.9" font-size="46.0" text-anchor="end" >0.8</text>
<text x="1077.5" y="59.3" font-size="46.0" text-anchor="end" >1</text>
<text x="1626.3" y="632.3" font-size="46.0" text-anchor="start" >0</text>
<text x="1626.3" y="481.8" font-size="46.0" text-anchor="start" >0.5</text>
<text x="1626.3" y="331.4" font-size="46.0" text-anchor="start" >1</text>
<text x="1626.3" y="180.9" font-size="46.0" text-anchor="start" >1.5</text>
<text x="1626.3" y="30.5" font-size="46.0" text-anchor="start" >2</text>
<text x="1066.3" y="682.5" font-size="46">10<tspan font-size="29.5" dx="-3.8" dy="-22">0</tspan></text>
<text x="1201.3" y="682.5" font-size="46">10<tspan font-size="29.5" dx="-3.8" dy="-22">2</tspan></text>
<text x="1336.3" y="682.5" font-size="46">10<tspan font-size="29.5" dx="-3.8" dy="-22">4</tspan></text>
<text x="1471.3" y="682.5" font-size="46">10<tspan font-size="29.5" dx="-3.8" dy="-22">6</tspan></text>
<g>
<text transform="translate(1302.6,725.5) skewX(-6)" font-size="50" font-style="italic">S</text>
<text x="1328" y="737.8" font-size="34">Na</text>
<text x="1369.4" y="725.8" font-size="18">+</text>
<text x="1375.7" y="737.8" font-size="34">,</text>
<text x="1385.3" y="737.8" font-size="34">a</text>
</g>
<text x="1389.0" y="799.0" font-size="50.0" text-anchor="start" >(b)</text>
<g transform="translate(975.3,455) rotate(-90)">
<text transform="translate(-1.0,0) skewX(-12)" font-size="50" font-style="italic">f</text>
<text x="16.9" y="11.2" font-size="33.3">Na</text>
<text x="54.7" y="1.5" font-size="21">+</text>
<text x="67.0" y="11.2" font-size="33.3">,M</text>
<text x="116.0" y="0" font-size="49.5">at 1.4 V</text>
</g>
<g transform="translate(1739.2,409) rotate(-90)">
<text x="0" y="0" font-size="46" font-style="italic">c</text>
<text x="20.8" y="11.1" font-size="28.5">N</text>
<text x="39.6" y="11.1" font-size="28.5">a</text>
<text x="52.8" y="1.0" font-size="20">+</text>
<text x="64.6" y="11.1" font-size="28.5">,M</text>
<text x="111.3" y="0" font-size="45.3">[</text>
<text transform="translate(147.1,0) scale(1.09,1)" text-anchor="middle" font-size="45.3">M</text>
<text x="166.5" y="0" font-size="45.3">]</text>
</g>
</svg>
</body>
</html>
